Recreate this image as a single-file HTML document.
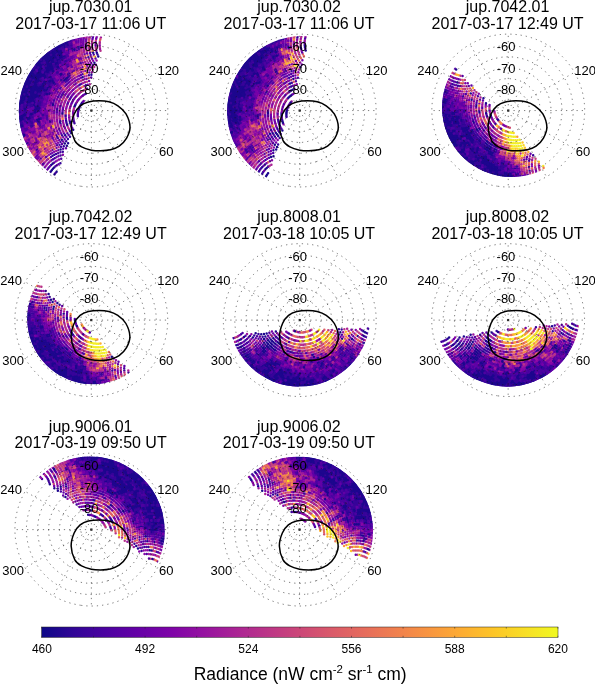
<!DOCTYPE html>
<html><head><meta charset="utf-8"><title>Radiance polar maps</title>
<style>
html,body{margin:0;padding:0;background:#fff;overflow:hidden}
svg{display:block}
text{font-family:"Liberation Sans",sans-serif;fill:#000}
.t{font-size:16px;text-anchor:middle}
.l{font-size:13px}
.c{font-size:12px;text-anchor:middle}
.d{fill:none;stroke-linecap:round;stroke-width:25}
.w{stroke-width:28}
.g{fill:none;stroke:#111;stroke-width:.75;stroke-dasharray:1.25 4;stroke-opacity:.72}
</style></head><body>
<svg width="595" height="684" viewBox="0 0 595 684">
<defs>
<g id="grat" class="g"><circle r="10.58" transform="rotate(20)"/><circle r="21.21" transform="rotate(33)"/><circle r="31.91" transform="rotate(46)"/><circle r="42.74" transform="rotate(59)"/><circle r="53.74" transform="rotate(72)"/><circle r="64.95" transform="rotate(85)"/><circle r="76.43" transform="rotate(98)"/><path d="M0 0L0.00 76.40M0 0L38.20 66.16M0 0L66.16 38.20M0 0L76.40 0.00M0 0L66.16 -38.20M0 0L38.20 -66.16M0 0L0.00 -76.40M0 0L-38.20 -66.16M0 0L-66.16 -38.20M0 0L-76.40 -0.00M0 0L-66.16 38.20M0 0L-38.20 66.16"/></g>
<path id="oval" fill="none" stroke="#000" stroke-width="1.5" d="M7.7 -9.7C4.3 -9.7 0.1 -9.4 -3.0 -8.6C-6.2 -7.8 -8.8 -6.7 -11.2 -4.7C-13.6 -2.7 -15.7 -0.1 -17.2 3.4C-18.7 6.9 -20.3 12.0 -20.2 16.5C-20.1 21.0 -18.2 27.0 -16.5 30.3C-14.8 33.6 -12.6 34.8 -9.8 36.3C-7.1 37.8 -3.1 38.9 0.0 39.6C3.1 40.3 5.8 40.3 9.0 40.3C12.2 40.2 15.9 40.1 19.0 39.3C22.1 38.5 25.1 37.5 27.8 35.6C30.5 33.7 33.4 30.8 35.2 27.6C37.0 24.4 38.7 20.5 38.6 16.5C38.5 12.5 36.6 6.9 34.6 3.4C32.6 -0.1 29.4 -2.7 26.5 -4.7C23.6 -6.7 20.6 -7.9 17.5 -8.7C14.4 -9.5 11.1 -9.7 7.7 -9.7Z"/>
<linearGradient id="pl" x1="0" x2="1" y1="0" y2="0"><stop offset="0.000" stop-color="#0d0887"/><stop offset="0.062" stop-color="#310597"/><stop offset="0.125" stop-color="#4c02a1"/><stop offset="0.188" stop-color="#6600a7"/><stop offset="0.250" stop-color="#7e03a8"/><stop offset="0.312" stop-color="#9511a1"/><stop offset="0.375" stop-color="#aa2395"/><stop offset="0.438" stop-color="#bc3587"/><stop offset="0.500" stop-color="#cc4778"/><stop offset="0.562" stop-color="#da5a6a"/><stop offset="0.625" stop-color="#e66c5c"/><stop offset="0.688" stop-color="#f0804e"/><stop offset="0.750" stop-color="#f89540"/><stop offset="0.812" stop-color="#fdac33"/><stop offset="0.875" stop-color="#fdc527"/><stop offset="0.938" stop-color="#f8df25"/><stop offset="1.000" stop-color="#f0f921"/></linearGradient>
</defs>
<rect width="595" height="684" fill="#fff"/>
<g transform="translate(91.40 110.55)">
<clipPath id="k0"><circle cx="2.82" cy="1.03" r="75.40"/></clipPath>
<g clip-path="url(#k0)"><g class="d" transform="scale(.1)">
<path stroke="#1d068e" d="M-160 -59h0m-10 24h0m-84 132h0m52 128h0m-44 127h0m-142 101h0m-14 91h0"/>
<path stroke="#370499" d="M-178 97h0m9 30h0m-51-235h0m-95 211h0m6 29h0m6 229h0m-50 73h0"/>
<path stroke="#4c02a1" d="M-182 14h0m9-186h0m-33 42h0m-52 171h0m10 85h0m-64-159h0m226-329h0m-143 85h0m-21 20h0m-77 109h0m-35 97h0m-10 79h0m62 390h0m8 64h0m326-1041h0m-449 1129h0m48 83h0m391-1384h0"/>
<path stroke="#6001a6" d="M-70 -161h0m-64 58h0m-48 171h0m145-326h0m-203 197h0m238-269h0m-263 178h0m-55 198h0m48 183h0m-43-400h0m-39 344h0m395-694h0m-429 913h0m14 129h0m15 103h0"/>
<path stroke="#7401a8" d="M-95 -143h0m-136 58h0m-17 48h0m200-282h0m-229 190h0m-21 47h0m48 347h0m128-613h0m-234 272h0m14 281h0m14 33h0m46 72h0m280-786h0m-347 851h0m-96 222h0"/>
<path stroke="#8707a6" d="M-191 -152h0m-66 166h0m41-230h0m-103 235h0m18-212h0m-47 92h0m-19 76h0m-4 26h0m342-428h0m-305 749h0m-113 176h0m453-1163h0"/>
<path stroke="#99159f" d="M-183 41h0m110-285h0m-181 232h0m31 202h0m75-463h0m-25 18h0m-61 60h0m-16 21h0m-56 116h0m-10 51h0m321-377h0m-291 169h0m-82 327h0m11 173h0m303-752h0m-287 967h0m349-1131h0m87-101h0"/>
<path stroke="#aa2395" d="M-153 -192h0m-105 260h0m20 89h0m152-462h0m-233 379h0m30 121h0m108-509h0m-26 18h0m-62 60h0m-69 111h0m-33 208h0m-52 329h0m377-1000h0m54-110h0"/>
<path stroke="#b7318a" d="M-116 -124h0m-32 43h0m-29 70h0m-124 174h0m-72-108h0m11 87h0m390-577h0m-127-20h0m77-60h0m113-82h0m-7-36h0m-1-34h0"/>
<path stroke="#c5407e" d="M-104 -228h0m-92-8h0m43-96h0m-155 605h0m193-676h0"/>
<path stroke="#d14e72" d="M-119 -290h0m-258 626h0"/>
<path stroke="#dc5d67" d="M-73 -505h0"/>
<path stroke="#e66c5c" d="M-288 -106h0m243-269h0m8-177h0m123-148h0"/>
<path stroke="#ee7b51" d="M-130 -211h0"/>
<path stroke="#f58c46" d="M-76 -416h0m-343 891h0"/>
<path stroke="#fa9e3b" d="M13 -596h0"/>
<path stroke="#1d068e" d="M-95 -75h0m-14 21h0m-20 47h0m-7 52h0m-75 81h0m29 65h0m-200-263h0m400-506h0m-406 1110h0m40 79h0m-20 27h0"/>
<path stroke="#370499" d="M-121 -31h0m-93 294h0m189-616h0m-321 376h0m94 283h0m8-603h0m-144 251h0m112 402h0m-10 55h0m256-945h0m-341 977h0"/>
<path stroke="#4c02a1" d="M-43 -219h0m-137 112h0m-42 174h0m95-318h0m-159 241h0m46 236h0m-57-376h0m-47 147h0m-31-94h0m41 375h0m25 37h0m-23 111h0m-72 38h0"/>
<path stroke="#6001a6" d="M-192 -84h0m94-184h0m-132 116h0m-59 168h0m152-327h0m-172 184h0m-8 326h0m16 34h0m80-549h0m-80 81h0m313-221h0m-54-114h0m-393 1153h0m446-1298h0"/>
<path stroke="#7401a8" d="M-77 -95h0m-57 113h0m7-186h0m-76 107h0m-8 24h0m11 194h0m177-452h0m-220 165h0m-23 46h0m-20 183h0m15 61h0m166-487h0m-60 33h0m-119 121h0m182-210h0m-215 170h0m-39 68h0m-40 151h0m4 112h0m40 126h0m264-680h0m-291 728h0m21 218h0m-56 47h0m432-1304h0"/>
<path stroke="#8707a6" d="M-147 -149h0m-72 245h0m66-329h0m-43 39h0m-17-63h0m-56 62h0m-50 91h0m-9 25h0m-12 50h0m-2 136h0m61 161h0m220-664h0m-336 429h0m354-481h0m-313 777h0m33 161h0m406-1140h0"/>
<path stroke="#99159f" d="M-76 -204h0m-147 244h0m159-323h0m-112 69h0m-38 40h0m-42 66h0m-18 48h0m-7 25h0m1 164h0m211-470h0m-122 65h0m-43 39h0m-101 182h0m-2 192h0m53-393h0m-48 65h0m-34 70h0m418-380h0m-65 5h0m99-119h0"/>
<path stroke="#aa2395" d="M-258 192h0m-89-142h0m82-327h0m-79 109h0m-51 257h0m28 121h0m40 158h0m263-854h0m-342 888h0m416-1015h0m-443 1099h0m439-1134h0m78-36h0"/>
<path stroke="#b7318a" d="M-103 -187h0m-62 59h0m-125 171h0m38-259h0m-94 294h0m18 89h0m191-535h0m-260 429h0m317-585h0m-379 1034h0m466-1192h0"/>
<path stroke="#c5407e" d="M-218 -12h0m-4 25h0m208-419h0m-154 54h0m-225 331h0m15 200h0m-19 166h0"/>
<path stroke="#d14e72" d="M-196 -334h0m146-272h0m140-110h0"/>
<path stroke="#dc5d67" d="M-289 71h0"/>
<path stroke="#e66c5c" d="M-369 384h0"/>
<path stroke="#fa9e3b" d="M-386 148h0"/>
<path stroke="#fdb130" d="M31 -540h0"/>
<path stroke="#1d068e" d="M-165 -47h0m-78 189h0m-19 104h0m-34 45h0m30 39h0m296-809h0m-402 1049h0m-24 26h0"/>
<path stroke="#370499" d="M-56 -169h0m0-83h0m-202 306h0m7 58h0m37 95h0m-99-90h0m78 167h0m296-844h0m-428 1036h0m57 50h0"/>
<path stroke="#4c02a1" d="M-174 112h0m-39-231h0m-23 46h0m-73 28h0m-24-91h0m14 477h0m311-897h0m-462 1129h0"/>
<path stroke="#6001a6" d="M-83 -152h0m-72 82h0m-25 152h0m-19-223h0m-57 223h0m235-462h0m-84 25h0m-113 69h0m-22 19h0m-20 20h0m-23 630h0m-48 13h0m338-915h0m-337 976h0m-77-25h0m8 65h0m55 50h0m-70 76h0"/>
<path stroke="#7401a8" d="M-125 -113h0m-58 140h0m1-189h0m21-102h0m-97 101h0m-60 169h0m-1 27h0m-2-193h0m-22 47h0m-29 127h0m424-747h0"/>
<path stroke="#8707a6" d="M-106 -133h0m-35 41h0m-110 68h0m183-288h0m-157 106h0m87-134h0m-30 17h0m-26 18h0m-114 123h0m-51 118h0m-6 26h0m-4 26h0m33 233h0m333-653h0m-26-40h0m-256 914h0m-87-29h0m421-1010h0m-475 1117h0m468-1187h0"/>
<path stroke="#99159f" d="M-180 2h0m63-222h0m-127 171h0m2-136h0m-60 115h0m-12 50h0m-3 108h0m11 60h0m25 64h0m-13-416h0m-78 273h0"/>
<path stroke="#aa2395" d="M-174 -23h0m-9 77h0m167-318h0m-210 168h0m-45-45h0m-22 47h0m-59 6h0m-21 129h0m3 57h0m12 59h0m10 31h0m2 115h0m-92 150h0m-11 93h0"/>
<path stroke="#b7318a" d="M-163 -182h0m-93 183h0m25 173h0m128-472h0m-82 53h0m-21 19h0m-77 108h0m-36 178h0m24 119h0m338-812h0m-67 5h0"/>
<path stroke="#c5407e" d="M-367 267h0m290-729h0m-287 818h0"/>
<path stroke="#d14e72" d="M-142 -201h0m-116 228h0m232-352h0m-108 43h0m-144 56h0m-87 353h0m311-549h0m-42 12h0m-293 728h0m340-829h0m-354 884h0m385-965h0m63-108h0"/>
<path stroke="#dc5d67" d="M-26 -662h0"/>
<path stroke="#e66c5c" d="M-319 255h0m256-802h0"/>
<path stroke="#ee7b51" d="M-89 -237h0"/>
<path stroke="#fa9e3b" d="M-67 -369h0"/>
<path stroke="#1d068e" d="M-102 -64h0m-113 175h0m-75-81h0m290-388h0m-88 24h0m-145 661h0m-152-386h0m77 448h0m377-930h0m-15-38h0m-439 1161h0m-21 27h0"/>
<path stroke="#370499" d="M-125 -19h0m12-241h0m-229 244h0m50 266h0m-51 11h0"/>
<path stroke="#4c02a1" d="M-115 -42h0m-17 48h0m-3 25h0m0 27h0m-156-220h0m58-144h0m-22 19h0m-55 63h0m-61 115h0m28 457h0m34 101h0m-74 37h0m24 72h0"/>
<path stroke="#6001a6" d="M-86 -85h0m-112 12h0m6 247h0m-45-315h0m-51 144h0m60 241h0m-49-428h0m-26 45h0m-43 149h0m23 173h0m56 104h0m-71-467h0m-41 96h0m85 419h0m40 43h0m240-953h0m-54 10h0m-260 1101h0m370-1186h0"/>
<path stroke="#7401a8" d="M-156 -139h0m-16 22h0m-14 22h0m0-110h0m-98 182h0m19 198h0m113-478h0m-171 211h0m-71 195h0m72 194h0m367-755h0m-132-23h0m-303 903h0m41 44h0m392-1150h0m5-33h0"/>
<path stroke="#8707a6" d="M-215 -25h0m-7-138h0m100-156h0m-216 277h0m-9 79h0m3 56h0m35 123h0m100-541h0m-152 192h0m-11 327h0m4 116h0m385-809h0m-455 1032h0m-22 26h0"/>
<path stroke="#99159f" d="M-207 -49h0m-16 102h0m2 28h0m15 60h0m65-383h0m-24 18h0m-40 40h0m-56 88h0m-22 210h0m7 30h0m98-429h0m-24 19h0m-22 19h0m-19 21h0m-71 110h0m-33 180h0m7 58h0m355-532h0m-54 8h0m-311 245h0m-40 123h0m-4 27h0m-3 26h0m289-448h0m-244 833h0m296-933h0m-367 971h0m402-1052h0m78-138h0"/>
<path stroke="#aa2395" d="M-115 -178h0m-22 19h0m55-116h0m-188 203h0m-8 24h0m-53-19h0m-2 219h0m151-495h0m-93 76h0m-121 342h0m7 58h0m372-585h0m16-86h0m-412 1046h0"/>
<path stroke="#b7318a" d="M-290 57h0m242-404h0m-213 142h0m179-185h0m-243 188h0m-72 249h0m357-539h0m85-123h0"/>
<path stroke="#c5407e" d="M-60 -212h0m-30 16h0m-130 196h0m175-289h0m-205 170h0m0 328h0m130-585h0m-173 130h0"/>
<path stroke="#d14e72" d="M-360 227h0m-24 137h0m359-1043h0"/>
<path stroke="#dc5d67" d="M-25 -645h0"/>
<path stroke="#e66c5c" d="M-153 -360h0"/>
<path stroke="#ee7b51" d="M-223 27h0m-65 58h0"/>
<path stroke="#f58c46" d="M-66 -442h0"/>
<path stroke="#fdb130" d="M-382 163h0"/>
<path class="w" stroke="#1d068e" d="M-257 -316h0m-101 45h0m-56 91h0m91-191h0m-117 152h0m-23 48h0m13-108h0m-27 46h0m-22 49h0m-37 127h0m-4 27h0m-1 141h0m210-574h0m-68 60h0m-55 65h0m-58 92h0m-11 24h0m-11 25h0m-9 24h0m-9 26h0m-14 51h0m-15 165h0m293-605h0m-55 37h0m-25 20h0m-23 20h0m-22 20h0m-21 21h0m-19 22h0m-18 22h0m-17 22h0m-16 23h0m-41 70h0m-11 25h0m-11 24h0m-10 25h0m-16 51h0m-17 80h0m-6 141h0m387-692h0m-66 34h0m-30 18h0m-28 19h0m-25 20h0m-25 19h0m-22 21h0m-22 21h0m-20 21h0m-53 67h0m-16 23h0m-14 23h0m-27 48h0m-11 24h0m-11 25h0m-9 25h0m-9 26h0m-8 26h0m-13 53h0m-8 54h0m-5 56h0m0 29h0m0 29h0m145 404h0m205-1085h0m-31 18h0m-28 18h0m-27 20h0m-25 19h0m-24 21h0m-115 131h0m-16 23h0m-14 24h0m-14 24h0m-35 74h0m-9 25h0m-9 26h0m-8 26h0m-7 26h0m-6 27h0m-15 139h0m0 30h0m413-723h0m-34 17h0m-32 18h0m-29 19h0m-28 19h0m-26 19h0m-24 21h0m-23 20h0m-22 22h0m-40 43h0m-19 23h0m-17 22h0m-17 23h0m-15 24h0m-14 24h0m-14 24h0m-12 24h0m-12 25h0m-11 25h0m-9 26h0m-17 52h0m-7 26h0m-7 27h0m-5 28h0m-4 27h0m-7 85h0m-1 30h0m1 29h0m2 30h0m263-694h0m-24 20h0m-23 21h0m-22 22h0m-20 22h0"/>
<path class="w" stroke="#370499" d="M-234 -335h0m-44 39h0m-177 240h0m74-253h0m-71 114h0m-29 74h0m164-306h0m-102 103h0m-70 115h0m-20 49h0m-8 25h0m212-347h0m-50 38h0m-23 20h0m-41 42h0m-18 22h0m-62 90h0m-72 201h0m-8 54h0m-2 27h0m-1 28h0m435-640h0m-169 82h0m-202 212h0m-14 23h0m-53 124h0m-14 51h0m-6 27h0m-12 139h0m3 58h0m110-504h0m-60 93h0m-68 176h0m-10 54h0m-7 55h0m0 115h0m454-759h0m-74 31h0m-189 135h0m-21 21h0m-20 21h0m-18 23h0m-90 140h0m-12 25h0m-55 182h0m-4 27h0m-3 28h0m-2 116h0m3 30h0m3 31h0m43 162h0m399-991h0m-275 192h0m-168 288h0m-35 162h0m-2 29h0m9 179h0m6 32h0m274-808h0m-133 127h0"/>
<path class="w" stroke="#4c02a1" d="M-332 -233h0m-15 22h0m-45 94h0m111-237h0m-153 222h0m-30 156h0m66-311h0m-15 22h0m-14 23h0m-45 96h0m180-300h0m-48 38h0m-61 62h0m-34 44h0m-29 46h0m-61 147h0m-6 26h0m-12 80h0m-1 84h0m29 153h0m238-735h0m-193 185h0m-15 23h0m-74 171h0m-54 95h0m-4 56h0m7 118h0m504-794h0m-86 27h0m-294 210h0m-160 546h0m413-775h0m-302 238h0m-148 409h0m12 179h0m-39-41h0"/>
<path class="w" stroke="#6001a6" d="M-407 -67h0m-11 162h0m4 29h0m25 93h0m48-510h0m-83 136h0m-25 75h0m-16 133h0m1 29h0m120-431h0m-144 255h0m-6 26h0m-12 107h0m0 29h0m2 28h0m24 122h0m276-715h0m-61 34h0m-117 98h0m135-151h0m-329 475h0m-1 171h0m354-698h0m-34 17h0m-359 554h0m11 176h0m7 32h0m544-867h0m-97 24h0m-113 46h0m-329 918h0m16 35h0m523-1056h0m-602 942h0m460-939h0m-496 929h0"/>
<path class="w" stroke="#7401a8" d="M-298 -276h0m-119 261h0m186-377h0m-71 58h0m-72 85h0m-15 22h0m-53 120h0m-20 103h0m241-442h0m-28 17h0m-27 19h0m-223 366h0m-3 27h0m6 171h0m261-636h0m-127 94h0m-182 412h0m6 116h0m359-690h0m-36 15h0m-365 633h0m14 91h0m-76-23h0m6 31h0m529-878h0m-495 1070h0m45 76h0m453-1179h0m-48 12h0m-531 976h0"/>
<path class="w" stroke="#8707a6" d="M-209 -354h0m-151 166h0m-41 96h0m-12 50h0m-7 53h0m-1 28h0m249-465h0m-287 396h0m-2 139h0m161-500h0m-63 61h0m-142 340h0m375-539h0m-415 582h0m493-676h0m-135 38h0m-347 1025h0m381-1108h0m-512 887h0"/>
<path class="w" stroke="#99159f" d="M-316 -255h0m-84 440h0m77-499h0m-134 452h0m-44-14h0m12 61h0m320-700h0m-363 686h0m-26 50h0m37 100h0m-37 81h0m87 121h0m-175-239h0m27 69h0"/>
<path class="w" stroke="#aa2395" d="M-372 -165h0m-11 24h0m180-268h0m-199 205h0m-48 373h0m8 31h0m25 65h0m277-830h0m-449 806h0m58 137h0m22 38h0m28 40h0m-147-227h0m136 320h0"/>
<path class="w" stroke="#b7318a" d="M-408 154h0m151-527h0m141-120h0m-73 30h0m-280 712h0m382-791h0m-438 744h0m22 65h0m14 34h0m-83-143h0m24 95h0m-30 21h0m12 34h0m16 34h0m500-1066h0"/>
<path class="w" stroke="#c5407e" d="M-150 -388h0m-270 454h0m265-544h0m-261 832h0m-34 19h0m354-951h0m-407 934h0m400-969h0m-504 908h0m79 211h0"/>
<path class="w" stroke="#d14e72" d="M-375 250h0m238-691h0m-294 673h0m-188 30h0"/>
<path class="w" stroke="#dc5d67" d="M-399 300h0m-183 126h0"/>
<path class="w" stroke="#e66c5c" d="M-181 -371h0m-274 653h0"/>
<path class="w" stroke="#ee7b51" d="M-471 336h0m-65-49h0"/>
<path class="w" stroke="#f58c46" d="M-437 317h0m-44 77h0m27 39h0"/>
<path class="w" stroke="#1d068e" d="M-313 -353h0m-102 130h0m-34 71h0m24-131h0m-51 93h0m-19 49h0m-15 51h0m-13 80h0m132-375h0m-19 21h0m-35 44h0m-43 69h0m-12 24h0m-11 24h0m-11 24h0m-9 25h0m194-327h0m-25 19h0m-44 41h0m-20 21h0m-19 22h0m-18 22h0m-71 116h0m-11 24h0m-20 50h0m-15 51h0m-11 53h0m270-473h0m-27 19h0m-49 39h0m-23 21h0m-20 21h0m-56 65h0m-16 23h0m-15 23h0m-28 47h0m-12 24h0m-11 25h0m-10 25h0m-9 25h0m-8 26h0m-14 52h0m320-488h0m-30 18h0m-54 38h0m-25 20h0m-23 20h0m-62 64h0m-18 22h0m-17 23h0m-16 23h0m-15 23h0m-27 48h0m-23 49h0m-10 25h0m-10 25h0m-8 26h0m-7 26h0m-7 27h0m-5 27h0m-10 83h0m-2 28h0m0 29h0m434-712h0m-36 16h0m-64 35h0m-57 38h0m-25 20h0m-24 20h0m-23 21h0m-42 43h0m-69 90h0m-15 24h0m-14 24h0m-13 24h0m-12 24h0m-22 51h0m-17 51h0m-8 26h0m-7 27h0m-19 168h0m1 29h0m9 91h0m44 164h0m412-1020h0m-71 33h0m-32 18h0m-30 18h0m-28 19h0m-27 20h0m-25 20h0m-24 21h0m-22 21h0m-21 22h0m-20 21h0m-19 23h0m-34 46h0m-16 23h0m-15 24h0m-14 24h0m-13 24h0m-12 25h0m-21 51h0m-10 25h0m-8 26h0m-8 27h0m-17 81h0m-4 28h0m-3 28h0m-2 29h0"/>
<path class="w" stroke="#370499" d="M-220 -373h0m-222 446h0m72-363h0m-57 90h0m-50 346h0m145-536h0m-77 85h0m-56 91h0m-55 177h0m-5 110h0m6 59h0m171-558h0m-112 129h0m-15 23h0m-64 146h0m-23 132h0m279-522h0m-28 18h0m-74 59h0m-94 107h0m-30 46h0m-64 147h0m-13 52h0m-13 110h0m-1 28h0m1 29h0m409-681h0m-102 50h0m-81 56h0m-87 83h0m-81 113h0m-72 175h0m-11 53h0m-4 27h0m-5 142h0m88 294h0m188-941h0m-96 80h0m-20 21h0m-100 137h0m-25 48h0m-63 208h0m-3 28h0m-3 114h0m2 30h0m302-701h0m-121 101h0m-40 44h0m-18 22h0m-17 23h0m-80 144h0m-20 51h0m-28 106h0m-5 27h0m-6 56h0m-2 29h0m1 88h0m3 30h0m424-809h0m-300 242h0m-97 169h0m-43 131h0m-5 27h0"/>
<path class="w" stroke="#4c02a1" d="M-269 -335h0m-174 380h0m335-519h0m-278 206h0m-91 218h0m168-359h0m-83 82h0m-47 67h0m-14 23h0m-62 173h0m-11 109h0m284-545h0m-29 17h0m-28 19h0m-25 19h0m-104 103h0m-123 265h0m-5 27h0m-4 27h0m-3 55h0m311-568h0m-243 225h0m-27 47h0m-33 73h0m-43 184h0m1 114h0m370-694h0m-252 195h0m-152 373h0m-2 28h0m-1 58h0m440-704h0m-38 15h0m-34 17h0m-391 781h0m175 360h0m286-1207h0m-107 48h0m-376 853h0m9 32h0m475-967h0"/>
<path class="w" stroke="#6001a6" d="M-346 -252h0m-53 91h0m158-249h0m-50 37h0m-62 61h0m-48 66h0m-38 70h0m-46 206h0m-1 28h0m258-522h0m-125 95h0m-20 20h0m-113 183h0m-17 50h0m-22 133h0m2 85h0m313-619h0m-335 414h0m-50 68h0m1 172h0m43 160h0m497-937h0m-206 69h0m-370 697h0m17 93h0m-37-11h0m104 244h0m393-1137h0m-543 645h0m10 238h0m118 280h0"/>
<path class="w" stroke="#7401a8" d="M-192 -390h0m-226 278h0m21 369h0m130-649h0m-191 265h0m-7 25h0m-16 78h0m357-487h0m-73 30h0m-60 34h0m83-86h0m-196 127h0m-193 467h0m1 29h0m-27 78h0m484-798h0m-45 13h0m-484 655h0m8 118h0m-36-10h0m20 94h0m590-948h0m-54 10h0"/>
<path class="w" stroke="#8707a6" d="M-361 -230h0m-14 22h0m-50 121h0m-7 25h0m-10 79h0m2 85h0m30 122h0m-62-300h0m-12 163h0m3 29h0m-17 109h0m-61-106h0m93 264h0m-116-184h0m8 32h0m38 100h0m-84-144h0m513-851h0m-514 971h0m31 70h0m-69-81h0m557-1027h0m-49 12h0"/>
<path class="w" stroke="#99159f" d="M-127 -422h0m-164 107h0m-20 20h0m-77 111h0m-21 47h0m-31 127h0m4 141h0m6 30h0m96-493h0m-150 335h0m14 173h0m34 97h0m274-770h0m-122 69h0m-230 590h0m28 96h0m-63-78h0m405-762h0m-40 14h0m-35 16h0m-303 980h0m468-1102h0m-99 23h0m-364 1144h0m470-1234h0"/>
<path class="w" stroke="#aa2395" d="M-246 -354h0m-83 80h0m-107 238h0m289-424h0m-65 32h0m120-132h0m-440 803h0m45 103h0m-76-83h0m69 205h0m-113-127h0"/>
<path class="w" stroke="#b7318a" d="M-161 -407h0m-260 599h0m240-636h0m-258 866h0m339-1017h0m-504 846h0m40 103h0m-69-81h0m19 129h0"/>
<path class="w" stroke="#c5407e" d="M-461 208h0m42 100h0m-88-115h0m-73 125h0"/>
<path class="w" stroke="#d14e72" d="M-450 240h0m17 123h0m-109-152h0m37 100h0m10 94h0m-98-121h0m-39 81h0"/>
<path class="w" stroke="#dc5d67" d="M-472 291h0m-121 148h0"/>
<path class="w" stroke="#e66c5c" d="M-136 -547h0m-419 696h0m35 128h0m52 167h0m-102-30h0"/>
<path class="w" stroke="#fa9e3b" d="M-517 367h0"/>
<path class="w" stroke="#fdb130" d="M-455 326h0"/>
<path class="w" stroke="#1d068e" d="M-246 -326h0m-22 20h0m-151 137h0m29-129h0m-44 68h0m-12 23h0m36-128h0m-73 114h0m-55 177h0m-4 27h0m-1 113h0m154-509h0m-73 86h0m-55 93h0m-12 24h0m-10 25h0m-9 25h0m-8 25h0m-13 52h0m-5 27h0m302-489h0m-30 18h0m-28 19h0m-72 59h0m-22 21h0m-19 21h0m-19 22h0m-18 22h0m-16 22h0m-29 47h0m-26 47h0m-11 25h0m-10 25h0m-9 25h0m-8 25h0m-7 26h0m-6 27h0m-15 166h0m488-713h0m-181 79h0m-56 38h0m-25 19h0m-45 41h0m-76 87h0m-16 23h0m-15 23h0m-14 24h0m-13 24h0m-24 49h0m-10 25h0m-9 25h0m-16 52h0m-6 26h0m-5 27h0m-5 27h0m-3 172h0m331-716h0m-29 18h0m-28 19h0m-26 19h0m-24 20h0m-23 21h0m-42 43h0m-19 21h0m-18 23h0m-48 69h0m-14 24h0m-13 24h0m-12 24h0m-11 25h0m-11 25h0m-9 26h0m-8 26h0m-8 26h0m-6 26h0m-18 168h0m0 29h0m430-745h0m-35 17h0m-32 17h0m-31 18h0m-28 19h0m-27 20h0m-25 20h0m-24 20h0m-23 21h0m-21 21h0m-20 22h0m-19 22h0m-18 23h0m-17 23h0m-15 23h0m-15 24h0m-14 24h0m-13 24h0m-12 25h0m-11 25h0m-11 25h0m-17 52h0m-8 26h0m-7 27h0m-5 27h0m-5 27h0m-9 85h0m0 58h0m1 30h0m7 61h0m245-730h0m-24 21h0m-22 21h0m-21 22h0m-20 22h0"/>
<path class="w" stroke="#370499" d="M-222 -344h0m-145 84h0m132-177h0m-171 161h0m-15 23h0m-37 70h0m-10 24h0m-37 239h0m226-536h0m-50 38h0m-114 128h0m-14 22h0m-14 24h0m-23 47h0m-10 25h0m-9 25h0m-8 25h0m-12 52h0m-11 81h0m226-484h0m-25 19h0m-24 20h0m-42 42h0m-19 21h0m-18 22h0m-59 91h0m-58 149h0m-19 135h0m226-515h0m-155 171h0m-27 47h0m-70 203h0m-4 27h0m-5 84h0m2 58h0m7 61h0m269-705h0m-75 59h0m-43 41h0m-38 44h0m-87 140h0m-66 235h0m-2 28h0m-1 28h0m0 29h0m436-708h0m-36 16h0m-308 264h0m-113 277h0m-4 28h0m-4 27h0m6-171h0m-37 161h0m-3 28h0m2 148h0m24 126h0m249-846h0"/>
<path class="w" stroke="#4c02a1" d="M-416 110h0m-45-127h0m173-384h0m-84 82h0m-112 210h0m-7 26h0m-5 26h0m-10 81h0m79-337h0m-101 217h0m-12 221h0m30 125h0m32-554h0m-14 23h0m-88 279h0m-2 57h0m1 29h0m341-646h0m-140 93h0m-237 484h0m5 116h0m401-743h0m-69 33h0m-197 158h0m-144 263h0m-18 340h0m354-796h0m-184 136h0m-74 88h0m-140 383h0m-1 29h0m5 118h0m5 31h0m-43-130h0m21 184h0"/>
<path class="w" stroke="#6001a6" d="M-288 -286h0m-52 64h0m-14 23h0m-50 119h0m135-284h0m-63 61h0m-106 183h0m-8 25h0m-6 26h0m-13 106h0m6 86h0m125-484h0m-143 227h0m-24 103h0m-3 27h0m11 173h0m101-525h0m195-187h0m-95 52h0m-285 462h0m-1 142h0m452-719h0m-489 593h0m443-614h0m-478 718h0m-32 19h0m14 93h0m7 32h0m34 101h0m84 149h0m465-1205h0m-138 39h0m-487 874h0"/>
<path class="w" stroke="#7401a8" d="M-324 -244h0m-42 67h0m-44 123h0m-8 52h0m14 172h0m112-514h0m-21 20h0m-37 42h0m-32 44h0m-26 46h0m-21 48h0m-28 101h0m-7 53h0m0 55h0m259-520h0m-58 36h0m43-72h0m-30 17h0m-55 37h0m-46 39h0m-21 21h0m-173 416h0m385-597h0m-103 49h0m-312 652h0m13 62h0m394-798h0m-426 818h0m36 100h0m477-978h0m-563 804h0m98 270h0m465-1107h0m-50 11h0m-480 1046h0"/>
<path class="w" stroke="#8707a6" d="M-307 -265h0m-90 160h0m14 339h0m-12-449h0m-68 309h0m17 90h0m22 64h0m112-629h0m-42 40h0m-152 392h0m8 88h0m311-646h0m-358 574h0m16 119h0m9 32h0m289-745h0m-338 701h0m16 63h0m-49-44h0m355-789h0m-385 809h0m46 134h0m18 36h0m47 77h0m346-1121h0m156-67h0m-110 20h0m-46 13h0m-503 986h0"/>
<path class="w" stroke="#99159f" d="M-378 -153h0m-10 24h0m233-305h0m-62 34h0m-285 509h0m17 91h0m335-722h0m-379 826h0m323-882h0m-335 938h0m-72-81h0m-39-11h0m12 33h0"/>
<path class="w" stroke="#aa2395" d="M-415 -29h0m-4 110h0m7 58h0m168-521h0m-193 598h0m264-687h0m64-65h0m-328 928h0m365-975h0m-512 840h0m64 140h0m-81-85h0m90 215h0"/>
<path class="w" stroke="#b7318a" d="M-420 25h0m25 176h0m-59-48h0m45 129h0m314-781h0m-380 731h0m13 33h0m-73-110h0m416-726h0m-349 984h0m390-1031h0m-411 1119h0m-81-55h0"/>
<path class="w" stroke="#c5407e" d="M-133 -395h0m-62 33h0m-226 414h0m302-500h0m-69 30h0m-309 702h0m-45-14h0m-81-24h0m31 162h0"/>
<path class="w" stroke="#d14e72" d="M-572 291h0"/>
<path class="w" stroke="#dc5d67" d="M-512 339h0m47 137h0m441-1171h0"/>
<path class="w" stroke="#e66c5c" d="M-492 375h0"/>
<path class="w" stroke="#ee7b51" d="M-166 -379h0m-280 678h0m-35 19h0"/>
<path class="w" stroke="#f58c46" d="M-136 -486h0m-360 922h0"/>
<path class="w" stroke="#fa9e3b" d="M-427 335h0m-34 19h0"/>
<path class="w" stroke="#1d068e" d="M-302 -363h0m-77 84h0m-65 115h0m27-130h0m-54 92h0m-50 178h0m-3 112h0m188-524h0m-45 41h0m-87 109h0m-14 23h0m-12 24h0m-12 24h0m-11 24h0m-18 50h0m-23 104h0m-3 28h0m-2 27h0m213-489h0m-46 40h0m-21 21h0m-19 21h0m-35 44h0m-69 117h0m-10 24h0m-19 51h0m-7 25h0m-7 26h0m-17 137h0m430-645h0m-137 66h0m-78 57h0m-24 20h0m-21 21h0m-20 21h0m-54 66h0m-16 23h0m-15 23h0m-13 24h0m-13 24h0m-11 24h0m-11 25h0m-10 25h0m-8 26h0m-8 25h0m-7 27h0m-6 26h0m-12 168h0m320-660h0m-56 37h0m-25 20h0m-24 20h0m-23 21h0m-60 64h0m-17 23h0m-17 22h0m-15 23h0m-15 24h0m-48 97h0m-27 77h0m-24 136h0m-3 56h0m319-636h0m-28 18h0m-51 40h0m-24 21h0m-62 64h0m-68 91h0m-14 24h0m-26 48h0m-12 25h0m-20 50h0m-9 26h0m-15 53h0m-6 27h0m-6 27h0m-11 141h0m2 30h0m5 61h0m19 95h0m421-928h0m-35 17h0m-34 17h0m-31 18h0m-82 58h0m-24 21h0m-23 20h0m-42 43h0m-19 23h0m-52 68h0m-16 24h0m-14 24h0m-13 24h0m-13 25h0m-11 25h0m-11 25h0m-10 25h0m-9 26h0m-8 27h0m-19 81h0m-4 27h0m-4 28h0"/>
<path class="w" stroke="#370499" d="M-301 -305h0m-107 71h0m-78 278h0m143-424h0m-57 64h0m-32 44h0m-27 46h0m-40 98h0m-14 51h0m-5 26h0m-6 54h0m3 114h0m264-609h0m-180 161h0m-89 165h0m258-361h0m-29 18h0m-27 18h0m-49 39h0m-81 85h0m-48 67h0m-26 48h0m-32 73h0m-33 131h0m-7 111h0m5 59h0m4 30h0m463-776h0m-207 98h0m-26 19h0m-109 104h0m-156 343h0m283-501h0m-120 101h0m-117 159h0m-12 24h0m-12 24h0m-20 51h0m-9 25h0m-15 53h0m-5 26h0m-9 55h0m-5 56h0m-1 58h0m2 29h0m413-748h0m-34 17h0m-32 17h0m-85 57h0m-70 61h0m-21 22h0m-38 44h0m-34 46h0m-43 71h0m-35 74h0m-26 77h0m-26 282h0m482-818h0m-168 87h0m-27 19h0m-95 83h0m-58 66h0m-17 23h0m-128 274h0m-7 27h0m-15 112h0"/>
<path class="w" stroke="#4c02a1" d="M-233 -364h0m-210 423h0m2 28h0m47-344h0m-27 46h0m-12 23h0m190-268h0m-54 37h0m-149 170h0m-35 71h0m-10 25h0m-15 50h0m-11 250h0m291-656h0m-133 93h0m-42 42h0m-18 21h0m-123 237h0m-7 26h0m-5 27h0m-7 167h0m325-648h0m-251 221h0m-29 47h0m-72 201h0m-10 167h0m111-473h0m-143 349h0m-4 55h0m2 88h0m419-741h0m-70 33h0m-200 158h0m-175 368h0m4 263h0m439-856h0m-335 257h0m-144 353h0m-3 28h0m-2 29h0m-1 28h0m526-743h0"/>
<path class="w" stroke="#6001a6" d="M-177 -399h0m-103 74h0m-58 62h0m-30 44h0m-25 46h0m5 448h0m191-711h0m-165 135h0m-100 186h0m-13 51h0m-4 27h0m-6 109h0m164-472h0m-42 41h0m-20 21h0m-143 397h0m334-584h0m-93 51h0m-168 165h0m-111 355h0m-32-67h0m-3 28h0m21 208h0m126 250h0m208-1044h0m-391 631h0m7 89h0m-35-11h0m36 160h0m497-982h0m-559 874h0m6 32h0m556-939h0"/>
<path class="w" stroke="#7401a8" d="M-441 4h0m-2 27h0m189-432h0m-70 58h0m-129 204h0m-16 50h0m-14 190h0m10 60h0m7 31h0m363-710h0m-422 549h0m14 147h0m199-633h0m-214 715h0m-31 20h0m13 34h0m268-876h0m-357 557h0m16 208h0m45 133h0m38 73h0m453-1078h0m-578 830h0m21 96h0m106 215h0m452-1175h0m-573 1016h0"/>
<path class="w" stroke="#8707a6" d="M-145 -415h0m-113 70h0m-96 104h0m-60 116h0m-8 25h0m-7 25h0m-9 191h0m310-583h0m-151 85h0m-64 60h0m-140 311h0m-2 28h0m6 114h0m35 126h0m231-730h0m-58 35h0m116-102h0m-408 615h0m-23 108h0m506-818h0m-129 40h0m35-49h0m-440 968h0m-26 24h0m17 35h0"/>
<path class="w" stroke="#99159f" d="M-207 -382h0m-113 98h0m-61 88h0m-23 47h0m-29 295h0m17 62h0m12 33h0m240-693h0m88-149h0m-493 848h0m-54-75h0m24 96h0m44 104h0m425-1030h0m-119 44h0m-398 838h0m571-960h0"/>
<path class="w" stroke="#aa2395" d="M-434 -49h0m-4 26h0m211-396h0m-181 745h0m228-815h0m-323 698h0m-34 18h0m414-816h0m-41 14h0m-38 15h0m-407 795h0m22 66h0m-12 58h0m40 74h0m384-1111h0m-429 1098h0"/>
<path class="w" stroke="#b7318a" d="M-428 291h0m-64-50h0m48 103h0m-102-149h0m93 207h0m-127-7h0m-85-116h0m649-1023h0"/>
<path class="w" stroke="#c5407e" d="M-480 274h0m366-828h0m-383 882h0m-10 58h0m-1 61h0m8 67h0m478-1226h0"/>
<path class="w" stroke="#d14e72" d="M-456 224h0m-8 85h0m44 73h0m-132-218h0m75 200h0m-50-15h0m-27 150h0"/>
<path class="w" stroke="#dc5d67" d="M-513 293h0m36 195h0m-104-30h0"/>
<path class="w" stroke="#e66c5c" d="M-557 134h0"/>
<path class="w" stroke="#ee7b51" d="M-426 177h0"/>
<path class="w" stroke="#fa9e3b" d="M-144 -504h0m-338 928h0"/>
</g></g>
<use href="#grat"/><use href="#oval"/><g><circle r="0.9" fill="#333"/><text class="l" x="-2.2" y="-59.4" text-anchor="middle">-60</text><text class="l" x="-2.2" y="-38" text-anchor="middle">-70</text><text class="l" x="-2.2" y="-16.9" text-anchor="middle">-80</text><text class="l" x="-69.3" y="-35.6" text-anchor="end">240</text><text class="l" x="-67.4" y="45" text-anchor="end">300</text><text class="l" x="66" y="-35.4">120</text><text class="l" x="67.6" y="45.2">60</text></g>
<text class="t" x="-0.7" y="-98.1">jup.7030.01</text><text class="t" x="-0.7" y="-81.5">2017-03-17 11:06 UT</text>
</g>
<g transform="translate(299.70 110.55)">
<clipPath id="k1"><circle cx="2.87" cy="0.88" r="75.40"/></clipPath>
<g clip-path="url(#k1)"><g class="d" transform="scale(.1)">
<path stroke="#1d068e" d="M-102 -138h0m-79 188h0m9 56h0m87-346h0m21-76h0m-230 604h0m67 76h0m287-965h0m-407 1140h0m399-1175h0m-426 1200h0m47 78h0m-87-23h0m71 52h0m320-1402h0"/>
<path stroke="#370499" d="M-78 -157h0m-103 181h0m-135-15h0m-1 26h0m2 219h0m321-690h0"/>
<path stroke="#4c02a1" d="M-122 -117h0m-108 286h0m40 66h0m172-564h0m-117-67h0m-194 789h0m-67 197h0"/>
<path stroke="#6001a6" d="M-213 201h0m27-447h0m-86 108h0m12 380h0m155-600h0m-34 17h0m-58 36h0m-137 174h0m-10 321h0m78 134h0m169-736h0"/>
<path stroke="#7401a8" d="M-139 -96h0m-59-46h0m-51 252h0m147-411h0m-32 18h0m-27 18h0m-123 150h0m-24 73h0m-9 104h0m6-240h0m-12 23h0m-21 48h0m12 329h0m43 211h0"/>
<path stroke="#8707a6" d="M-162 136h0m-152-46h0m36 119h0m42 68h0m222-661h0m-50 12h0m-14-92h0m-199 961h0m-144 23h0m470-1190h0"/>
<path stroke="#99159f" d="M-152 -74h0m-11 23h0m-15 128h0m-4-240h0m-53 90h0m-14 49h0m-7 78h0m12-237h0m-36-39h0m-84 189h0m-7 80h0m29 256h0m338-863h0m-397 992h0m384-1028h0m75-140h0"/>
<path stroke="#aa2395" d="M-50 -256h0m-113 72h0m-80 135h0m-13 76h0m49-253h0m-95 374h0m132-471h0m-73 58h0m-53 65h0m-56 117h0m-7 25h0m-10 132h0m3 28h0m5 29h0m7 29h0m303-585h0m-266 763h0m33 38h0m-84 35h0m419-1115h0m-78 6h0"/>
<path stroke="#b7318a" d="M-172 -27h0m-5 25h0m62-221h0m-26 19h0m-100 343h0m-18-300h0m-43 94h0m10 245h0m-78-158h0m248-470h0m-238 805h0m-5 117h0m-30 23h0"/>
<path stroke="#c5407e" d="M-213 -119h0m-80 28h0m30-153h0m-105 237h0m342-469h0m-304 928h0m306-1082h0m-4-34h0"/>
<path stroke="#d14e72" d="M-254 1h0m-59-18h0m92-268h0m157-265h0m-12-35h0"/>
<path stroke="#dc5d67" d="M-225 -97h0m-85 216h0m212-620h0"/>
<path stroke="#e66c5c" d="M14 -522h0m-330 1038h0"/>
<path stroke="#ee7b51" d="M-254 81h0m27-286h0"/>
<path stroke="#fa9e3b" d="M-48 -513h0"/>
<path stroke="#1d068e" d="M-129 0h0m-4 25h0m47-225h0m-87 400h0m-55 38h0m-88 390h0m-20 28h0"/>
<path stroke="#370499" d="M-133 51h0m-80 56h0m135-386h0m-122 553h0m119-666h0m131-261h0m-435 1230h0m-20 27h0"/>
<path stroke="#4c02a1" d="M-54 -217h0m-151 353h0m167-430h0m-247 379h0m-60-44h0m190-401h0m-173 163h0m-13 23h0m-22 47h0m98 552h0m158-944h0m-301 1026h0m462-1227h0"/>
<path stroke="#6001a6" d="M-122 -25h0m10-156h0m-109 206h0m-123 43h0m77 214h0m8-566h0m-136 310h0m76 269h0m11 89h0m-2 58h0m365-1061h0m-416 1170h0"/>
<path stroke="#7401a8" d="M-98 -70h0m-14 22h0m-42-93h0m-38 308h0m52-411h0m-46 39h0m-84 134h0m-18 129h0m245-409h0m-43 14h0m-243 491h0m93 165h0m-43-582h0m-34 44h0m-66 141h0m-16 131h0m102 278h0m320-834h0m-65 8h0m-310 957h0m50 44h0m-34 21h0m307-1241h0m6-33h0"/>
<path stroke="#8707a6" d="M-135 -162h0m-83 161h0m107-261h0m-11-59h0m-58 36h0m-144 198h0m203-290h0m-64 34h0m-27 19h0m-85 83h0m-75 139h0m-13 50h0m-8 51h0m135 370h0m-81-23h0m-40 18h0m-6 58h0m434-1109h0"/>
<path stroke="#99159f" d="M-81 -91h0m-104-6h0m-11 23h0m-25 125h0m-16-192h0m-51 172h0m25 142h0m110-477h0m-125 123h0m-26 46h0m-40 149h0m3 82h0m5 28h0m47 124h0m-101-139h0m10 375h0m300-1087h0m52-78h0"/>
<path stroke="#aa2395" d="M-171 -120h0m-35 69h0m-7 25h0m8-158h0m-56 90h0m-16 48h0m-4 160h0m77-380h0m-59 63h0m-29 45h0m-49 146h0m22 196h0m-34-335h0m-41 232h0m16 86h0m10 31h0m356-654h0m-14-192h0m-407 1181h0"/>
<path stroke="#b7318a" d="M-165 -225h0m-85 107h0m2 323h0m-67-317h0m9 327h0m69-519h0m-153 277h0m280-404h0m-239 833h0"/>
<path stroke="#c5407e" d="M-219 78h0m-7-323h0m-20 20h0m-91 187h0m303-367h0m-305 666h0m282-793h0m46-46h0"/>
<path stroke="#d14e72" d="M-331 -63h0"/>
<path stroke="#dc5d67" d="M-286 5h0m13 138h0m277-684h0"/>
<path stroke="#e66c5c" d="M-283 -21h0"/>
<path stroke="#ee7b51" d="M-385 138h0m320-583h0m-299 756h0m343-924h0"/>
<path stroke="#f58c46" d="M-355 229h0"/>
<path stroke="#fa9e3b" d="M-222 -163h0m133-320h0"/>
<path stroke="#fdb130" d="M-71 -568h0"/>
<path stroke="#1d068e" d="M-91 -148h0m-22 20h0m-55 249h0m-35 97h0m-114-196h0m47 204h0m21 33h0m0 84h0m-14 54h0m1 59h0m273-1090h0m-354 1222h0m-39 56h0"/>
<path stroke="#370499" d="M-181 37h0m5 54h0m-46 94h0m-64 9h0m-56 300h0m-23 121h0"/>
<path stroke="#4c02a1" d="M-158 -62h0m-22 126h0m95-429h0m-265 796h0m44 42h0m-93 68h0m340-1201h0"/>
<path stroke="#6001a6" d="M-168 -39h0m-7 25h0m106-235h0m-32 17h0m-47-42h0m-169 323h0m194-398h0m-32 17h0m-147 689h0m-9 55h0m-5 151h0"/>
<path stroke="#7401a8" d="M-64 -166h0m-142 35h0m-46 226h0m7 29h0m-70-128h0m17 167h0m114-477h0m-133 148h0m12 437h0m24 35h0m180-763h0"/>
<path stroke="#8707a6" d="M-179 11h0m150-274h0m-143 89h0m-64 328h0m193-477h0m-75 31h0m-148 142h0m-39 95h0m85 350h0m-84-484h0m-35 70h0m-9 24h0m-16 211h0m40 122h0m-29 48h0m23 34h0m349-919h0m-440 1167h0"/>
<path stroke="#99159f" d="M-128 -213h0m-91 105h0m-36 175h0m58-303h0m-81 109h0m-38 203h0m-53-70h0m1 82h0m10 57h0m8 30h0m12 31h0m343-686h0m-389 932h0m11 65h0m-67 79h0"/>
<path stroke="#aa2395" d="M-146 -85h0m-44-68h0m-40 68h0m-17 48h0m73-219h0m-77 84h0m-38 69h0m-9 24h0m-13 49h0m102-265h0m-44 41h0m-36 43h0m-40 68h0m-33 98h0m-9 78h0m296-452h0m-308 812h0m100 148h0m235-1132h0m-366 1066h0m422-1143h0"/>
<path stroke="#b7318a" d="M-131 -107h0m-125 147h0m39-255h0m-95 319h0m272-483h0m-232 146h0m-84 163h0m-10 50h0m249-384h0"/>
<path stroke="#c5407e" d="M-239 -61h0m-13 49h0m-3 26h0m171-323h0m31-161h0m-293 843h0m327-891h0m-36-108h0m70-108h0"/>
<path stroke="#d14e72" d="M-306 133h0m74-408h0m-140 612h0m336-892h0"/>
<path stroke="#dc5d67" d="M-152 -194h0m-83 0h0m-135 254h0m402-623h0m-23-139h0"/>
<path stroke="#ee7b51" d="M-25 -431h0"/>
<path stroke="#fa9e3b" d="M-74 -507h0m-16-37h0"/>
<path stroke="#1d068e" d="M-90 -81h0m-41 93h0m-2 26h0m62-246h0m-128 359h0m103-422h0m-143 492h0m24 34h0m-83-24h0m63 159h0m-51 74h0m-44 111h0"/>
<path stroke="#370499" d="M-117 -36h0m-9 23h0m-6 78h0m32-256h0m-116 284h0m111-422h0m-111 668h0m-118-525h0m348-431h0m-388 1246h0"/>
<path stroke="#4c02a1" d="M-106 -59h0m-39-93h0m-65 273h0m27 62h0m117-528h0m-213 609h0m10-537h0m-126 312h0m9 490h0m-45 52h0"/>
<path stroke="#6001a6" d="M-221 38h0m-66 33h0m228-470h0m-112 47h0m-176 190h0m-20 47h0m-6 297h0m43 96h0m355-859h0"/>
<path stroke="#7401a8" d="M-288 44h0m5 55h0m27 90h0m-42-336h0m-47 201h0m206-423h0m-219 230h0m-18 49h0m397-370h0m-309 864h0m-37 79h0m-30 118h0"/>
<path stroke="#8707a6" d="M-196 -195h0m-18 21h0m-60 116h0m-3 186h0m84-404h0m-61 62h0m-32 44h0m-53 280h0m14 59h0m72 131h0m-68-508h0m-61 143h0m-10 160h0m34 410h0m-53 49h0m351-1230h0m79-74h0"/>
<path stroke="#99159f" d="M-191 -86h0m38-149h0m-23 20h0m-68 86h0m-36 95h0m64-222h0m-123 231h0m-4 107h0m10 57h0m327-549h0m-96 25h0m-203 154h0m175-192h0m87-150h0m51-112h0m3-33h0"/>
<path stroke="#aa2395" d="M-163 -130h0m-53 116h0m-4 26h0m0 53h0m-45-148h0m-6-109h0m-39 69h0m-9 23h0m71-194h0m-40 42h0m-100 212h0m-6 53h0m0 54h0m12 85h0m34 93h0m71 105h0m-47 15h0m-41 18h0m-3 58h0m68 111h0m242-1195h0"/>
<path stroke="#b7318a" d="M-124 -172h0m-86 133h0m-77 57h0m-41-93h0m-15 76h0m-2 26h0m32 172h0m114-532h0m-26 19h0m-82 627h0m211-874h0m105-90h0"/>
<path stroke="#c5407e" d="M-178 -109h0m-23 46h0m-29-89h0m92-161h0m-254 299h0m30 227h0m31 208h0m303-958h0m-372 1000h0"/>
<path stroke="#d14e72" d="M-126 -254h0m-208 204h0"/>
<path stroke="#dc5d67" d="M-59 -287h0m41-70h0m-71-81h0m37-170h0"/>
<path stroke="#e66c5c" d="M-255 -106h0m-30 98h0m118-287h0m-69 60h0m-152 358h0m36 205h0m287-817h0m107-55h0"/>
<path stroke="#ee7b51" d="M-8 -500h0"/>
<path stroke="#fa9e3b" d="M-268 158h0"/>
<path stroke="#fdb130" d="M-111 -476h0"/>
<path stroke="#fdc527" d="M-83 -526h0"/>
<path stroke="#f3ee27" d="M-40 -451h0"/>
<path class="w" stroke="#1d068e" d="M-418 60h0m22-349h0m-112 130h0m154-287h0m-23 21h0m-42 43h0m-36 44h0m-31 47h0m-13 23h0m-13 24h0m-11 24h0m-11 25h0m-9 25h0m-16 51h0m-20 133h0m237-515h0m-72 62h0m-40 44h0m-18 22h0m-17 23h0m-31 47h0m-13 24h0m-13 24h0m-11 24h0m-10 25h0m-10 25h0m-8 26h0m-7 25h0m-16 80h0m-6 54h0m0 85h0m261-624h0m-26 20h0m-25 20h0m-23 21h0m-22 22h0m-39 44h0m-50 70h0m-40 72h0m-12 24h0m-19 51h0m-9 25h0m-7 26h0m-12 53h0m-4 27h0m-6 55h0m-2 28h0m0 28h0m1 29h0m2 29h0m3 29h0m312-727h0m-30 19h0m-28 20h0m-25 21h0m-24 21h0m-83 88h0m-49 70h0m-14 24h0m-13 25h0m-13 24h0m-11 25h0m-20 51h0m-8 26h0m-8 26h0m-6 26h0m-10 54h0m-4 27h0m-3 28h0m-2 28h0m0 28h0m0 29h0m2 29h0m3 30h0m4 29h0m336-782h0m-31 19h0m-28 20h0m-52 41h0m-45 44h0m-21 22h0m-20 23h0m-18 23h0m-17 23h0m-16 23h0m-16 24h0m-27 49h0m-12 25h0m-11 25h0m-11 25h0m-9 26h0m-9 26h0m-7 26h0m-13 54h0m-8 54h0m-5 56h0m-1 29h0m1 58h0m3 29h0m255-698h0m-25 21h0m-23 22h0m-22 22h0m-39 46h0m-18 23h0"/>
<path class="w" stroke="#370499" d="M-462 20h0m50-286h0m-67 144h0m79-225h0m-64 91h0m-24 48h0m-11 24h0m-17 50h0m-7 26h0m34 400h0m247-815h0m-87 57h0m-108 106h0m-34 45h0m-80 170h0m-19 78h0m-7 54h0m-3 55h0m3 56h0m325-656h0m-253 231h0m-94 223h0m-5 27h0m-8 54h0m-3 83h0m4 58h0m4 29h0m384-757h0m-37 18h0m-33 18h0m-176 144h0m-37 45h0m-17 23h0m-29 47h0m-14 24h0m-34 74h0m-32 104h0m7 342h0m164-716h0m-21 22h0m-20 23h0m-36 45h0m-93 170h0m-38 131h0m1 286h0m15 62h0m182-773h0m-144 185h0m-89 258h0m-7 55h0m-3 86h0m7 88h0m11 62h0m28 95h0m123-797h0"/>
<path class="w" stroke="#4c02a1" d="M-273 -303h0m-20 21h0m-26-36h0m-37 43h0m-30 45h0m-14 23h0m59-148h0m-85 112h0m-25 47h0m-10 24h0m-25 75h0m-6 26h0m-5 26h0m-3 26h0m-3 27h0m85-333h0m-17 23h0m-15 23h0m-26 47h0m-58 176h0m-4 26h0m-5 82h0m2 28h0m68 245h0m-97-168h0m36 124h0m50 100h0m24 36h0m176-957h0m-84 59h0m-24 21h0m-43 43h0m-180 449h0m13 145h0m7 31h0m8 31h0m-58-272h0m7 201h0m451-828h0m-41 16h0m-327 271h0m22 866h0m31 39h0m233-1192h0m-35 18h0m-119 78h0m-271 432h0m-8 314h0m23 94h0"/>
<path class="w" stroke="#6001a6" d="M-251 -323h0m-77 85h0m-77 166h0m67-225h0m-94 162h0m-15 50h0m-6 26h0m-9 134h0m3 28h0m98-436h0m-19 22h0m-124 346h0m275-523h0m-85 57h0m-24 20h0m-23 21h0m-168 307h0m-12 80h0m-1 27h0m12 143h0m100 228h0m157-900h0m-29 19h0m-97 82h0m-166 311h0m-9 53h0m-5 110h0m59 243h0m206-834h0m-10-34h0m-308 753h0m367-824h0m-35 18h0m-317 958h0m429-1043h0m-500 937h0"/>
<path class="w" stroke="#7401a8" d="M-369 -170h0m-48 176h0m-1 27h0m2 55h0m3 28h0m51 153h0m139-667h0m-189 215h0m-10 24h0m-41 206h0m167-443h0m-143 176h0m-32 73h0m276-359h0m-93 55h0m-251 560h0m332-650h0m-357 844h0m77 138h0m-50-12h0m26 37h0m422-1154h0m-572 909h0m18 63h0m84 171h0m329-1132h0"/>
<path class="w" stroke="#8707a6" d="M-199 -361h0m-113 101h0m-31 44h0m-37 70h0m2 383h0m185-654h0m-105 78h0m-162 332h0m19 198h0m228-644h0m-107 78h0m-182 466h0m81 248h0m161-809h0m-243 730h0m-71-133h0m11 60h0m7 31h0m10 31h0m330-824h0m-360 845h0m65 135h0m372-1046h0m-44 15h0m-433 887h0m-15 56h0m545-1038h0m-54 13h0"/>
<path class="w" stroke="#99159f" d="M-169 -379h0m-57 36h0m-131 150h0m-33 71h0m-20 75h0m-4 26h0m7 166h0m17 60h0m115-565h0m-97 107h0m-68 143h0m-17 77h0m26 255h0m188-656h0m-28 19h0m-232 478h0m389-600h0m-267 168h0m-154 507h0m12 60h0m69 161h0m-50-12h0m363-1022h0"/>
<path class="w" stroke="#aa2395" d="M-398 -97h0m148-282h0m-168 632h0m15 33h0m-84-107h0m8 30h0m11 31h0m-46-12h0m-18 142h0m-72-77h0m13 33h0m33 68h0m95 180h0"/>
<path class="w" stroke="#b7318a" d="M-397 374h0m240-896h0m-12-35h0m85-63h0m-93 28h0m-372 928h0m68 169h0m-120-121h0"/>
<path class="w" stroke="#c5407e" d="M-499 120h0m59 185h0m306-912h0m-323 1086h0m369-1133h0m-488 1013h0m132 187h0m-138-127h0"/>
<path class="w" stroke="#d14e72" d="M-179 -470h0m-315 619h0m39 123h0m24 183h0"/>
<path class="w" stroke="#dc5d67" d="M-159 -434h0m34-138h0"/>
<path class="w" stroke="#e66c5c" d="M-400 175h0m-55-43h0"/>
<path class="w" stroke="#ee7b51" d="M-384 320h0"/>
<path class="w" stroke="#f58c46" d="M-449 161h0"/>
<path class="w" stroke="#fa9e3b" d="M-141 -486h0"/>
<path class="w" stroke="#1d068e" d="M-342 -257h0m-133 205h0m-10-114h0m116-242h0m-41 43h0m-78 115h0m-12 24h0m-11 24h0m-10 25h0m75-201h0m-64 92h0m-13 24h0m-12 24h0m-21 50h0m-16 51h0m-24 132h0m198-472h0m-23 21h0m-21 21h0m-20 22h0m-19 23h0m-62 93h0m-13 24h0m-23 49h0m-10 25h0m-8 26h0m-15 51h0m-15 80h0m-3 28h0m-2 27h0m0 28h0m0 29h0m2 29h0m3 29h0m401-755h0m-102 55h0m-56 39h0m-25 21h0m-24 21h0m-22 22h0m-40 44h0m-19 23h0m-86 143h0m-11 25h0m-9 25h0m-9 26h0m-8 25h0m-18 80h0m-10 82h0m-1 28h0m2 58h0m11 89h0m351-804h0m-33 19h0m-30 19h0m-54 41h0m-24 21h0m-45 43h0m-20 22h0m-19 23h0m-35 46h0m-69 121h0m-20 51h0m-9 26h0m-8 26h0m-7 26h0m-16 81h0m-3 28h0m-3 27h0m-1 57h0m1 29h0m2 30h0m7 59h0m458-864h0m-40 17h0m-129 76h0m-53 41h0m-46 43h0m-22 23h0m-20 22h0m-18 23h0m-18 23h0m-73 121h0m-12 25h0m-20 51h0m-9 26h0m-27 107h0m-5 27h0m-8 113h0"/>
<path class="w" stroke="#370499" d="M-396 -165h0m12-106h0m-79 167h0m-16 78h0m-3 26h0m58-284h0m-94 246h0m73-282h0m-16 23h0m-69 145h0m-8 25h0m-6 26h0m75 471h0m257-928h0m-35 17h0m-62 38h0m-27 19h0m-25 21h0m-46 42h0m-57 66h0m-32 46h0m-50 96h0m-18 50h0m-15 51h0m-10 53h0m-8 110h0m0 28h0m3 29h0m374-700h0m-69 35h0m-85 59h0m-124 131h0m-31 46h0m-76 173h0m-13 53h0m-5 26h0m6 257h0m93 229h0m261-1026h0m-34 18h0m-179 144h0m-55 68h0m-16 23h0m-14 24h0m-27 48h0m-56 153h0m-6 26h0m-10 54h0m-3 27h0m-3 85h0m4 58h0m15 90h0m254-776h0m-73 63h0m-112 137h0m-15 24h0m-13 24h0m-36 75h0m-40 130h0m-5 27h0m-11 111h0m6 116h0m17 92h0m9 32h0m479-974h0m-152 69h0m-87 60h0m-50 43h0m-117 136h0m-15 24h0m-28 49h0m-36 75h0m-26 77h0m-8 27h0m-6 27h0m-13 82h0m-3 28h0m-1 28h0"/>
<path class="w" stroke="#4c02a1" d="M-440 67h0m131-424h0m-22 20h0m-69 89h0m-56 119h0m48-178h0m-44 69h0m-71 254h0m48-290h0m-79 225h0m-4 27h0m-2 27h0m-1 28h0m1 56h0m7 58h0m274-669h0m-106 79h0m-42 43h0m-53 68h0m-105 247h0m-8 53h0m-4 55h0m6 114h0m42 154h0m230-829h0m-28 20h0m-167 174h0m-54 95h0m-55 407h0m124 296h0m359-1112h0m-45 15h0m-172 90h0m-218 245h0m-64 549h0m21 64h0m14 33h0m81 141h0m-22-893h0m-74 120h0m-63 495h0m38 128h0m15 33h0m323-1021h0m-64 38h0"/>
<path class="w" stroke="#6001a6" d="M-148 -415h0m-116 74h0m-121 153h0m-49 148h0m-4 26h0m-2 27h0m-1 27h0m30 173h0m177-629h0m-134 123h0m-45 68h0m-34 72h0m-36 180h0m4 84h0m89-440h0m-48 68h0m-37 71h0m-19 49h0m-8 25h0m-6 26h0m-6 26h0m76 413h0m275-889h0m-72 34h0m-60 38h0m-27 19h0m-24 21h0m-44 42h0m-38 44h0m-122 267h0m45 377h0m59 104h0m-133-209h0m81 196h0m242-968h0m-354 793h0m65 164h0m-113-233h0m29 123h0m490-997h0m-484 371h0"/>
<path class="w" stroke="#7401a8" d="M-325 -279h0m-33 45h0m-14 22h0m86-166h0m-64 63h0m-87 137h0m-33 100h0m-12 161h0m202-516h0m-49 40h0m-135 179h0m-57 203h0m-2 54h0m2 57h0m4 29h0m103 255h0m213-907h0m-66 36h0m-294 548h0m14 116h0m17 61h0m41 98h0m-97-169h0m25 92h0m43 99h0m44 71h0m-18 89h0m404-1222h0m-53 13h0m-88 31h0m-427 956h0m63 136h0"/>
<path class="w" stroke="#8707a6" d="M-286 -321h0m-129 205h0m-14 50h0m-9 161h0m12-297h0m-24 433h0m47 98h0m182-800h0m-85 58h0m-45 41h0m-172 443h0m26 148h0m11 31h0m366-804h0m-419 761h0m-32 21h0m485-865h0m-50 13h0m-442 938h0m311-957h0m-276 1149h0"/>
<path class="w" stroke="#99159f" d="M-307 -300h0m-127 424h0m264-576h0m-313 507h0m231-507h0m-120 101h0m-140 509h0m7 30h0m48 127h0m-100-197h0m112 349h0m-156-217h0m10 32h0m43 160h0m360-1119h0"/>
<path class="w" stroke="#aa2395" d="M-423 -91h0m-6 244h0m30 92h0m16 32h0m196-765h0m-332 758h0m102 174h0m-118-120h0m81 236h0m370-1297h0"/>
<path class="w" stroke="#b7318a" d="M-239 -361h0m-168 220h0m-62 311h0m9 30h0m-13 82h0"/>
<path class="w" stroke="#c5407e" d="M-212 -380h0m9-55h0m-58 38h0m-214 537h0m38 123h0m15 32h0m-48 197h0m381-1163h0m-500 1043h0m19 34h0m-42-9h0m42 72h0"/>
<path class="w" stroke="#dc5d67" d="M-182 -398h0"/>
<path class="w" stroke="#e66c5c" d="M-173 -574h0"/>
<path class="w" stroke="#ee7b51" d="M-421 183h0m-142 164h0"/>
<path class="w" stroke="#f58c46" d="M-130 -589h0"/>
<path class="w" stroke="#fa9e3b" d="M-149 -504h0m-32-105h0"/>
<path class="w" stroke="#fdb130" d="M-132 -468h0"/>
<path class="w" stroke="#1d068e" d="M-320 -249h0m83-140h0m-167 111h0m-95 246h0m42-236h0m-13 24h0m104-192h0m-62 65h0m-65 91h0m-13 24h0m-23 49h0m-18 49h0m-8 26h0m82 531h0m-54-690h0m-13 24h0m-11 24h0m-11 25h0m-10 25h0m-9 25h0m-8 25h0m-13 53h0m-4 26h0m-4 27h0m1 169h0m10 60h0m322-775h0m-61 38h0m-28 20h0m-26 20h0m-24 21h0m-22 21h0m-21 22h0m-20 22h0m-51 69h0m-29 47h0m-36 74h0m-10 25h0m-9 26h0m-7 25h0m-18 80h0m-7 54h0m-2 28h0m-1 28h0m0 28h0m2 29h0m2 29h0m362-740h0m-33 18h0m-31 19h0m-28 20h0m-27 20h0m-24 21h0m-24 22h0m-61 66h0m-19 23h0m-47 70h0m-14 24h0m-24 50h0m-21 50h0m-9 26h0m-8 26h0m-7 26h0m-6 26h0m-5 27h0m-4 27h0m-4 28h0m-2 28h0m-1 28h0m0 29h0m7 87h0m4 31h0m289-769h0m-53 41h0m-25 21h0m-22 22h0m-22 22h0m-20 22h0m-19 23h0m-18 23h0m-16 24h0m-57 96h0m-23 51h0m-9 25h0m-9 26h0m-16 53h0m-11 53h0m-5 28h0m-3 27h0m-4 85h0m2 59h0m20 121h0m200-773h0m-43 45h0m-20 22h0m-18 23h0"/>
<path class="w" stroke="#370499" d="M-418 46h0m1 28h0m-45-41h0m74-333h0m-95 190h0m-21 159h0m154-450h0m-59 65h0m-84 140h0m-10 25h0m-9 25h0m-8 25h0m262-393h0m-30 19h0m-28 19h0m-162 173h0m-40 71h0m-21 49h0m-23 77h0m-10 52h0m-4 27h0m-2 27h0m0 84h0m84 280h0m226-913h0m-87 58h0m-25 21h0m-45 42h0m-20 22h0m-19 22h0m-17 23h0m-32 46h0m-83 198h0m-17 107h0m-2 28h0m1 56h0m2 29h0m370-704h0m-67 36h0m-188 169h0m-48 69h0m-27 49h0m-12 24h0m-44 127h0m-6 27h0m-9 54h0m14 260h0m421-866h0m-39 17h0m-245 181h0m-54 69h0m-16 23h0m-42 73h0m-77 374h0m2 30h0m358-748h0m-32 19h0m-240 241h0m-15 24h0m-38 74h0m-38 103h0m-13 53h0m-15 110h0m-2 29h0m0 57h0m5 59h0m4 30h0m21 94h0m10 32h0m12 33h0m194-891h0m-46 43h0"/>
<path class="w" stroke="#4c02a1" d="M-283 -292h0m-20 21h0m-90 53h0m-68 307h0m130-454h0m-20 21h0m-105 160h0m-10 24h0m-9 25h0m-14 51h0m-6 26h0m68-256h0m-55 94h0m-50 150h0m-4 27h0m-7 81h0m201-494h0m-46 41h0m-75 89h0m-116 354h0m39 237h0m137-714h0m-94 111h0m-118 384h0m10 116h0m91-535h0m-122 556h0m164-659h0m-154 237h0m-39 444h0m17 63h0m398-937h0m-37 18h0m-123 77h0m-211 250h0"/>
<path class="w" stroke="#6001a6" d="M-153 -388h0m-183 161h0m-74 357h0m101-459h0m-70 88h0m-27 46h0m-30 72h0m-25 129h0m-1 55h0m43-316h0m-83 250h0m-1 27h0m61-313h0m-84 195h0m-16 162h0m2 28h0m44 182h0m271-808h0m-184 139h0m-37 44h0m-122 269h0m-11 136h0m12 116h0m332-739h0m-65 37h0m-291 753h0m69 164h0m408-1035h0m-48 15h0m-458 878h0m456-912h0m-493 903h0m33 97h0m415-1019h0m-490 883h0"/>
<path class="w" stroke="#7401a8" d="M-363 -181h0m-38 96h0m31 338h0m83-603h0m-42 42h0m-18 22h0m-17 22h0m-53 93h0m-10 24h0m-17 49h0m-6 26h0m-5 26h0m147-340h0m-63 64h0m-62 90h0m-12 24h0m233-289h0m-32 18h0m-30 19h0m-27 19h0m-70 62h0m-20 21h0m-149 341h0m-2 28h0m5 112h0m349-672h0m-388 662h0m4 29h0m12 60h0m232-713h0m-172 934h0m-141-270h0m93 259h0m-89-112h0m66 137h0"/>
<path class="w" stroke="#8707a6" d="M-184 -371h0m-55 38h0m-136 175h0m-20 348h0m-64-210h0m23 226h0m25 64h0m215-731h0m-88 55h0m-219 483h0m367-607h0m-40 16h0m-150 93h0m-207 574h0m25 91h0m-20 53h0m419-910h0m-432 966h0m-69-76h0m445-978h0"/>
<path class="w" stroke="#99159f" d="M-262 -313h0m-123 179h0m-9 25h0m-14 50h0m-10 78h0m34 202h0m121-591h0m-194 487h0m32 121h0m16 118h0m-117-174h0m109 231h0m220-997h0m-385 838h0m109 206h0m33 39h0m236-1117h0m-394 927h0m14 33h0m17 34h0m-42-9h0m62 107h0m63 78h0"/>
<path class="w" stroke="#aa2395" d="M-213 -352h0m-137 148h0m-66 196h0m208-400h0m-186 711h0m166-747h0m-254 752h0m-88-22h0m13 33h0m94 206h0m404-1218h0m-533 1094h0m74 111h0"/>
<path class="w" stroke="#b7318a" d="M-412 -34h0m-3 136h0m274-544h0m-36 17h0m-80 0h0m-243 530h0m4 29h0m5 30h0m17 60h0m26 64h0m-16 54h0m-87-109h0m39 97h0m398-1045h0"/>
<path class="w" stroke="#c5407e" d="M-445 176h0m284-654h0m-322 672h0m21 62h0m31 66h0m-87-109h0m362-812h0m-341 1084h0m381-1166h0"/>
<path class="w" stroke="#d14e72" d="M-452 146h0m-72 302h0m468-1174h0"/>
<path class="w" stroke="#dc5d67" d="M-121 -494h0m-322 871h0m295-942h0m-298 1001h0"/>
<path class="w" stroke="#f58c46" d="M-404 160h0m302-739h0"/>
<path class="w" stroke="#1d068e" d="M-431 -273h0m-59 120h0m132-265h0m-61 64h0m-87 140h0m276-335h0m-33 17h0m-192 166h0m-17 22h0m-31 47h0m-13 23h0m-35 73h0m-9 25h0m-8 26h0m-27 132h0m-2 27h0m0 56h0m1 29h0m484-725h0m-127 47h0m-147 96h0m-46 43h0m-39 44h0m-65 92h0m-37 73h0m-11 25h0m-9 25h0m-9 25h0m-7 26h0m-22 134h0m-1 57h0m1 28h0m2 29h0m349-713h0m-91 57h0m-26 21h0m-24 21h0m-23 21h0m-22 22h0m-39 44h0m-17 23h0m-32 47h0m-28 48h0m-12 24h0m-11 25h0m-20 51h0m-8 25h0m-8 26h0m-6 27h0m-6 26h0m-5 27h0m-6 55h0m-1 28h0m-1 29h0m1 28h0m2 29h0m344-720h0m-31 19h0m-29 20h0m-52 41h0m-24 21h0m-63 67h0m-18 22h0m-64 95h0m-13 24h0m-12 25h0m-22 50h0m-9 26h0m-8 26h0m-8 26h0m-7 26h0m-5 27h0m-9 55h0m-3 27h0m-1 29h0m-1 57h0m1 29h0m3 29h0m4 30h0m11 62h0m515-935h0m-191 87h0m-58 40h0m-26 21h0m-25 21h0m-23 22h0m-22 22h0m-21 22h0m-19 23h0m-18 23h0m-34 47h0m-15 24h0m-27 49h0m-23 50h0m-20 51h0m-9 26h0m-20 80h0m-5 28h0m-4 27h0m-5 56h0m-1 29h0"/>
<path class="w" stroke="#370499" d="M-441 53h0m121-400h0m-140 231h0m-13 51h0m-4 26h0m-4 136h0m82-415h0m-17 22h0m-64 118h0m-40 154h0m-2 26h0m271-499h0m-129 100h0m-114 159h0m-22 49h0m-10 24h0m-8 26h0m-7 25h0m-20 133h0m188-472h0m-23 21h0m-41 43h0m-51 68h0m-41 71h0m-11 25h0m-42 127h0m-9 53h0m-2 168h0m259-651h0m-27 20h0m-49 41h0m-42 43h0m-37 45h0m-17 23h0m-16 23h0m-28 48h0m-12 24h0m-53 152h0m-6 27h0m-4 27h0m-3 27h0m-4 55h0m7 116h0m5 30h0m85 226h0m329-1034h0m-39 17h0m-68 36h0m-30 19h0m-143 127h0m-82 116h0m-48 98h0m-45 185h0m1 171h0m4 30h0m6 30h0m244-751h0m-71 64h0m-21 22h0m-56 68h0m-16 24h0m-15 24h0m-51 98h0m-53 183h0m-9 112h0m489-740h0m-41 16h0m-38 18h0m-97 57h0m-199 197h0m-71 122h0m-22 50h0m-25 79h0m-25 136h0"/>
<path class="w" stroke="#4c02a1" d="M-226 -371h0m-49 40h0m-59 63h0m-57 91h0m143-230h0m-128 125h0m-16 22h0m-75 169h0m-14 78h0m-2 27h0m0 27h0m38-291h0m-13 24h0m-47 123h0m-6 26h0m-5 26h0m-7 81h0m340-561h0m-151 92h0m-66 63h0m-37 45h0m-16 22h0m-15 24h0m-14 23h0m-65 174h0m-13 163h0m81 278h0m185-866h0m-29 19h0m-26 20h0m-68 63h0m-159 286h0m-11 53h0m79 447h0m235-941h0m-266 198h0m-104 593h0m9 31h0m425-925h0m-40 17h0m-36 18h0m-400 820h0m14 62h0m34 98h0m314-996h0m-386 513h0"/>
<path class="w" stroke="#6001a6" d="M-296 -311h0m-54 65h0m-89 327h0m80-385h0m-48 67h0m-13 24h0m-32 72h0m-31 210h0m102-409h0m-89 138h0m-53 259h0m1 29h0m303-601h0m-90 56h0m-243 397h0m-7 54h0m-2 55h0m3 56h0m8 59h0m-47-125h0m111 374h0m181-958h0m-309 750h0m8 31h0m443-884h0m-498 930h0m11 32h0m20-654h0"/>
<path class="w" stroke="#7401a8" d="M-316 -290h0m-63 90h0m-53 147h0m-9 79h0m4 83h0m63 185h0m100-682h0m-24 20h0m-134 178h0m-10 24h0m149-257h0m-25 20h0m-180 275h0m-21 242h0m4 29h0m234-621h0m-275 443h0m1 168h0m30 121h0m67 134h0m265-954h0m-396 718h0m6 30h0m7 31h0m9 31h0m11 31h0m-55 46h0m31 68h0m20 35h0m445-1122h0m-50 14h0m-417 1134h0"/>
<path class="w" stroke="#8707a6" d="M-165 -407h0m-86 56h0m-114 128h0m-37 70h0m-37 152h0m34 230h0m65-555h0m-137 452h0m33 121h0m275-743h0m-172 113h0m-171 669h0m80 139h0m317-1090h0m-509 953h0m88 173h0"/>
<path class="w" stroke="#99159f" d="M-411 -128h0m-45 343h0m26 64h0m226-758h0m-158 117h0m-147 535h0m29 93h0m80 137h0m258-950h0m-318 995h0m259-1049h0m-395 867h0m-1 89h0m123 184h0"/>
<path class="w" stroke="#aa2395" d="M-419 -104h0m-7 25h0m-6 217h0m213-564h0m-246 611h0m74 162h0m154-808h0m-29 18h0m-182 775h0m-87-109h0m376-839h0m-444 1030h0m75 112h0"/>
<path class="w" stroke="#b7318a" d="M-416 198h0m3 114h0m-88-109h0m9 31h0m27 64h0m39 68h0m-117-174h0m46 127h0m-46-11h0m31 127h0m60 77h0m-56-13h0m-113-119h0m64 107h0m444-1218h0"/>
<path class="w" stroke="#c5407e" d="M-436 -27h0m11 195h0m34 93h0m204-704h0m58-69h0m23-84h0m-421 937h0m-27 23h0m69 109h0"/>
<path class="w" stroke="#d14e72" d="M-152 -582h0m-433 880h0m14 33h0m518-1074h0"/>
<path class="w" stroke="#dc5d67" d="M-428 487h0"/>
<path class="w" stroke="#e66c5c" d="M-197 -389h0m-275 544h0"/>
<path class="w" stroke="#ee7b51" d="M-151 -460h0"/>
<path class="w" stroke="#f58c46" d="M-58 -710h0"/>
</g></g>
<use href="#grat"/><use href="#oval"/><g><circle r="0.9" fill="#333"/><text class="l" x="-2.2" y="-59.4" text-anchor="middle">-60</text><text class="l" x="-2.2" y="-38" text-anchor="middle">-70</text><text class="l" x="-2.2" y="-16.9" text-anchor="middle">-80</text><text class="l" x="-69.3" y="-35.6" text-anchor="end">240</text><text class="l" x="-67.4" y="45" text-anchor="end">300</text><text class="l" x="66" y="-35.4">120</text><text class="l" x="67.6" y="45.2">60</text></g>
<text class="t" x="-0.7" y="-98.1">jup.7030.02</text><text class="t" x="-0.7" y="-81.5">2017-03-17 11:06 UT</text>
</g>
<g transform="translate(508.25 110.55)">
<clipPath id="k2"><circle cx="3.50" cy="-3.13" r="69.70"/></clipPath>
<g clip-path="url(#k2)"><g class="d" transform="scale(.1)">
<path stroke="#1d068e" d="M-187 -4h0m13 57h0m-74-175h0m68 454h0m47 28h0m341 204h0"/>
<path stroke="#370499" d="M-351 104h0m33 75h0m13 23h0m104 115h0m44 30h0m370 254h0"/>
<path stroke="#4c02a1" d="M-304 -144h0m-15 84h0m157 341h0m-96-17h0m17 18h0m160 101h0m-376-728h0"/>
<path stroke="#6001a6" d="M-140 296h0m-232-346h0m7 98h0m6 29h0m18 53h0m10 25h0m56 89h0m53 56h0m445 131h0m-65 62h0m-686-779h0m-20 55h0m-13-67h0m-31-15h0"/>
<path stroke="#7401a8" d="M-94 254h0m-226-279h0m6 63h0m36 106h0m13 23h0m63 81h0m94 124h0m-297-646h0m-50 152h0m736 741h0"/>
<path stroke="#8707a6" d="M-188 -37h0m-18 186h0m49 59h0m-157-307h0m-4 107h0m11 59h0m56 122h0m15 21h0m54 55h0m65 45h0m-231-486h0m-69 93h0m-29-83h0m657 647h0m-723-703h0"/>
<path stroke="#99159f" d="M-260 -42h0m-39 136h0m80 135h0m-72-5h0m-196-392h0m-4-109h0"/>
<path stroke="#aa2395" d="M-164 78h0m-27 92h0m122 97h0m-300-355h0m-3 73h0m-39-108h0m684 708h0"/>
<path stroke="#b7318a" d="M-151 101h0m14 21h0m-120-201h0m119 304h0m21 15h0m-244-369h0m-70-86h0"/>
<path stroke="#c5407e" d="M-121 141h0m-129-90h0m213 291h0m-333-325h0m591 619h0"/>
<path stroke="#d14e72" d="M-260 -8h0m4 31h0m164 299h0m27 11h0m-317-553h0m537 755h0m-715-914h0"/>
<path stroke="#dc5d67" d="M-83 175h0m-159-97h0m190 314h0m30 8h0m-378-568h0m475 624h0m-526-729h0"/>
<path stroke="#e66c5c" d="M-182 26h0m7 164h0m-114-70h0m471 274h0m25 130h0m62 23h0"/>
<path stroke="#ee7b51" d="M-220 127h0m331 371h0"/>
<path stroke="#f58c46" d="M-103 159h0m42 31h0m55 159h0m172 98h0m-639-664h0m-56-146h0"/>
<path stroke="#fa9e3b" d="M47 408h0m71 46h0m152 51h0m87 85h0"/>
<path stroke="#fdb130" d="M-231 103h0m188 174h0m-452-629h0"/>
<path stroke="#fdc527" d="M-14 286h0m41 68h0m-16 51h0m119-1h0"/>
<path stroke="#fad824" d="M-9 212h0m63 12h0m99 123h0"/>
<path stroke="#f3ee27" d="M-36 202h0m57 18h0m-4 73h0m35 3h0m39 0h0m-27 60h0m41-1h0m-19 53h0m264 146h0"/>
<path stroke="#1d068e" d="M-173 137h0m-202-308h0m90 441h0m55 55h0m21 16h0m22 15h0m47 28h0m-370-665h0"/>
<path stroke="#370499" d="M-231 256h0m67 115h0"/>
<path stroke="#4c02a1" d="M-111 81h0m-98-14h0m-81-66h0m68 179h0m-112-107h0m29 77h0m12 24h0m144 148h0m-244-302h0m63 187h0m29 43h0m33 39h0m154 107h0m-310-562h0m633 669h0m-754-794h0"/>
<path stroke="#6001a6" d="M-96 102h0m-187-211h0m33 245h0m-66-10h0m52 91h0m52 57h0m-177-223h0m6 29h0m40 104h0m27 45h0"/>
<path stroke="#7401a8" d="M-140 6h0m-85-61h0m7 95h0m-71-108h0m100 287h0m18 18h0m-171-330h0m2 137h0m14 56h0m47 96h0m31 41h0m76 70h0m-194-173h0m117 174h0m-180-581h0m706 875h0"/>
<path stroke="#8707a6" d="M-37 151h0m-150-36h0m108 108h0m-201-163h0m129 194h0m22 15h0m-215-256h0m-52-60h0m21 155h0m20 51h0m268 247h0m-490-711h0"/>
<path stroke="#99159f" d="M-158 157h0m-128-126h0m25 81h0m55 88h0m80 135h0m52 23h0m-322-371h0m369 436h0m-407-545h0m650 741h0"/>
<path stroke="#aa2395" d="M-223 11h0m-14 148h0m-109-213h0m-1 35h0m302 387h0m30 7h0m-372-500h0m510 555h0m93 27h0m-683-623h0m737 732h0m-815-937h0"/>
<path stroke="#b7318a" d="M-123 59h0m64 78h0m-82 39h0m83 240h0m219 54h0m-638-818h0m-53 122h0m740 809h0"/>
<path stroke="#c5407e" d="M-291 -32h0m-27-152h0m125 475h0m466 191h0m-766-701h0"/>
<path stroke="#d14e72" d="M16 173h0m-138 20h0m-149-106h0m-63-222h0m-59 50h0m-14-132h0m-46 2h0m609 729h0m51 31h0"/>
<path stroke="#dc5d67" d="M-133 34h0m121 129h0m-89 185h0"/>
<path stroke="#e66c5c" d="M-226 -20h0m27 112h0m93 191h0m24 12h0m27 11h0m61 123h0m166-8h0m-644-695h0m741 801h0"/>
<path stroke="#ee7b51" d="M-78 121h0m-23 88h0m142 223h0m312 141h0"/>
<path stroke="#f58c46" d="M114 477h0"/>
<path stroke="#fa9e3b" d="M-28 246h0"/>
<path stroke="#fdb130" d="M18 380h0m-372-605h0m-159-132h0"/>
<path stroke="#fdc527" d="M-55 236h0m210 319h0"/>
<path stroke="#fad824" d="M94 383h0m-14 50h0"/>
<path stroke="#f3ee27" d="M1 255h0m32 5h0m36 2h0m-96 53h0m31 7h0m34 4h0m38 1h0m43-3h0m-65 59h0m86-6h0"/>
<path stroke="#1d068e" d="M-178 40h0m-188-148h0m20 226h0m34 73h0m100 117h0m43 32h0m-334-589h0"/>
<path stroke="#370499" d="M-129 132h0m-191-174h0m76 241h0m-207-342h0"/>
<path stroke="#4c02a1" d="M-169 66h0m97 117h0m-188-208h0m-57-54h0m-38 170h0m30 76h0m27 46h0m67 78h0m40 34h0m46 28h0m24 13h0m304 122h0"/>
<path stroke="#6001a6" d="M-187 -55h0m-66-45h0m-119 68h0m36 175h0m69 111h0m17 19h0m-118-523h0m-171-7h0m-8-72h0m11-91h0"/>
<path stroke="#7401a8" d="M-158 89h0m-8 110h0m-93-21h0m192 210h0m-505-657h0m-5-75h0"/>
<path stroke="#8707a6" d="M-185 11h0m-110-180h0m123 442h0m21 16h0m-205-441h0m-15 153h0m3 32h0m85 201h0m188 144h0m-319-480h0m-67-90h0m-39-5h0m757 754h0m-751-874h0"/>
<path stroke="#99159f" d="M-144 112h0m-115-172h0m13 125h0m63 115h0m78 67h0m-167-91h0m61 82h0m82 65h0m-242-372h0m9 131h0m-102-305h0m772 815h0"/>
<path stroke="#aa2395" d="M-199 160h0m52 56h0m-164-163h0m83 167h0m36 36h0m113 72h0m-259-531h0m-68 58h0m-13-98h0m552 739h0m-610-805h0m718 903h0"/>
<path stroke="#b7318a" d="M-127 232h0m45 29h0m-221-180h0m19 51h0m179 184h0m286 254h0"/>
<path stroke="#c5407e" d="M-188 -20h0m-70 27h0m5 30h0m-57-158h0m-6 144h0m559 448h0m-677-777h0"/>
<path stroke="#d14e72" d="M-237 91h0m180 181h0m20 124h0m230 44h0m112 93h0"/>
<path stroke="#dc5d67" d="M-213 138h0m-106-146h0m25 115h0m-98-300h0m-47 3h0m755 797h0"/>
<path stroke="#e66c5c" d="M-93 168h0m70 39h0m-203-92h0m204 231h0m259 170h0m13 113h0"/>
<path stroke="#ee7b51" d="M10 352h0m56 57h0"/>
<path stroke="#f58c46" d="M-29 282h0m58 125h0m151 123h0"/>
<path stroke="#fa9e3b" d="M-51 338h0m147 118h0"/>
<path stroke="#fdc527" d="M-112 151h0"/>
<path stroke="#fad824" d="M5 216h0"/>
<path stroke="#f3ee27" d="M-49 196h0m86 26h0m-36 68h0m33 5h0m37 1h0m42-3h0m-68 63h0m39 0h0m44-4h0m-133 51h0m112 4h0m48-7h0m-14 51h0"/>
<path stroke="#1d068e" d="M-103 92h0m-120-166h0m2 100h0m-67-10h0m2 169h0m10 95h0m57 53h0m43 31h0m49 26h0m-394-801h0"/>
<path stroke="#370499" d="M-214 54h0m65 113h0m-12 148h0m-148-75h0m111 109h0m447 97h0m-805-709h0"/>
<path stroke="#4c02a1" d="M-230 170h0m-107-112h0m81 169h0m34 39h0m-164-200h0m62 152h0m31 42h0m34 39h0m19 17h0"/>
<path stroke="#6001a6" d="M-180 126h0m-76-1h0m95 121h0m-150-108h0m72 109h0m-98-52h0m185 182h0m-243-622h0m582 710h0m-671-710h0m-12-67h0m-25 59h0"/>
<path stroke="#7401a8" d="M-48 145h0m-195 3h0m45 62h0m58 51h0m22 15h0m-212-190h0m9 27h0m183 216h0m-253-434h0m-5 75h0m17 124h0m8 27h0m10 26h0m260 254h0"/>
<path stroke="#8707a6" d="M-25 158h0m-141-11h0m-133 15h0m27 45h0m212 156h0m-289-191h0m-67-362h0m-56 46h0m-29-50h0m737 731h0m70 16h0m-837-875h0"/>
<path stroke="#99159f" d="M-226 -37h0m46 265h0m-167-265h0m144 320h0m-188-247h0m-70-226h0m700 684h0m-827-770h0"/>
<path stroke="#aa2395" d="M-137 20h0m20 50h0m-14 115h0m-146-316h0m-14 116h0m8 61h0m16 54h0m-60-259h0m-19 156h0m164 302h0m69 43h0m-282-338h0m640 608h0m-808-948h0"/>
<path stroke="#b7318a" d="M-205 80h0m12 24h0m126 126h0m-148-39h0m-124-304h0m-6 40h0m2 102h0m313 343h0m-365-438h0m-34-77h0m741 733h0"/>
<path stroke="#c5407e" d="M-225 -4h0m156 305h0m-18 52h0m147 80h0m-497-534h0m-5-142h0"/>
<path stroke="#d14e72" d="M1 168h0m-113 33h0m22 15h0m92 162h0m-368-575h0m293 608h0m30 9h0m224 90h0m2 79h0"/>
<path stroke="#dc5d67" d="M-128 47h0m-148 27h0m299 357h0m-479-737h0"/>
<path stroke="#e66c5c" d="M-94 289h0m-288-437h0m518 622h0m44 76h0m59 26h0"/>
<path stroke="#ee7b51" d="M-87 112h0m-200-200h0m379 566h0"/>
<path stroke="#f58c46" d="M-69 129h0m-222-179h0m279 369h0m144 198h0"/>
<path stroke="#fa9e3b" d="M90 261h0m-101 165h0"/>
<path stroke="#fdb130" d="M-42 241h0m1 70h0m142 121h0m46-6h0m54-12h0"/>
<path stroke="#fdc527" d="M143 320h0m-69 63h0m92-11h0m140 140h0"/>
<path stroke="#fad824" d="M36 382h0"/>
<path stroke="#f3ee27" d="M-14 251h0m31 7h0m34 4h0m-30 63h0m35 2h0m40-1h0m20 55h0"/>
<path class="w" stroke="#1d068e" d="M-379 163h0m24 48h0m29 44h0m32 40h0m78 70h0m23 15h0m-241-240h0m10 27h0m11 25h0m12 24h0m13 24h0m14 22h0m15 21h0m180 155h0m-318-384h0m30 114h0m10 26h0m11 25h0m89 132h0m123 103h0m-306-436h0m15 93h0m106 225h0m52 60h0m19 18h0m19 18h0m65 49h0m24 14h0m25 14h0m25 13h0m27 12h0m88 28h0m33 7h0m110 11h0m-638-503h0m6 30h0m25 85h0m22 52h0m12 25h0m42 69h0m16 22h0m156 147h0m23 15h0m50 27h0m26 12h0m28 12h0m29 10h0m61 18h0m-536-708h0m-3 111h0m3 34h0m9 63h0m7 30h0m37 111h0m12 25h0m13 25h0m13 24h0m15 23h0m47 65h0m18 20h0m78 75h0m21 16h0m46 32h0m49 28h0m53 25h0m29 11h0m29 10h0m31 9h0m32 7h0m34 7h0m36 4h0m38 3h0m-680-770h0m-4 40h0m-1 37h0m3 71h0m15 96h0m15 58h0m20 55h0m11 26h0m25 50h0m14 24h0m46 67h0m17 21h0m17 21h0m19 19h0m19 20h0m41 36h0m21 17h0m22 16h0m98 58h0"/>
<path class="w" stroke="#370499" d="M-389 137h0m48 96h0m84 99h0m112 75h0m26 12h0m-224-115h0m17 20h0m18 19h0m19 18h0m135 90h0m-338-367h0m59 159h0m13 23h0m15 23h0m85 100h0m20 17h0m21 17h0m22 16h0m97 54h0m87 30h0m-444-383h0m8 27h0m46 102h0m14 23h0m14 22h0m32 42h0m117 109h0m151 79h0m30 10h0m97 21h0m-562-713h0m-4 183h0m18 91h0m8 29h0m20 53h0m37 75h0m135 164h0m21 17h0m21 17h0m71 45h0m138 57h0m65 14h0m154 8h0m-720-545h0m20 90h0m19 55h0m94 168h0m71 80h0m20 18h0m65 50h0m98 57h0m340 63h0m-748-858h0m-15 269h0m5 32h0m14 60h0m18 57h0m33 78h0m42 72h0m15 22h0m245 217h0"/>
<path class="w" stroke="#4c02a1" d="M-412 53h0m101 222h0m35 39h0m39 35h0m67 45h0m-293-404h0m3 33h0m4 32h0m13 58h0m216 297h0m24 15h0m-298-403h0m16 91h0m8 28h0m87 169h0m16 21h0m35 39h0m128 98h0m79 36h0m28 10h0m62 16h0m34 6h0m36 4h0m-565-490h0m6 31h0m32 113h0m11 26h0m12 25h0m91 132h0m77 72h0m337 129h0m-607-637h0m1 71h0m100 304h0m47 65h0m35 39h0m19 19h0m371 173h0m37 4h0m39 1h0m-652-860h0m-33 212h0m125 392h0m68 83h0m151 117h0m-366-723h0m-11 156h0m240 510h0m88 67h0m24 15h0"/>
<path class="w" stroke="#6001a6" d="M-419 -45h0m0 34h0m51 198h0m-93-269h0m-2 37h0m215 440h0m121 67h0m28 11h0m61 16h0m-463-573h0m-2 72h0m317 493h0m-340-655h0m-14 84h0m-2 38h0m0 36h0m652 595h0m-689-602h0m166 424h0m-182-595h0m-9 45h0m-9 81h0m36 256h0m654 464h0"/>
<path class="w" stroke="#7401a8" d="M-406 82h0m8 28h0m306 319h0m-358-344h0m181 293h0m199 104h0m-426-606h0m-8 77h0m-72-50h0m744 743h0"/>
<path class="w" stroke="#8707a6" d="M-416 22h0m-145-205h0m-51-74h0"/>
<path class="w" stroke="#99159f" d="M-5 495h0m-529-625h0"/>
<path class="w" stroke="#aa2395" d="M-63 438h0m31 8h0m33 6h0m108 88h0m52 71h0"/>
<path class="w" stroke="#c5407e" d="M31 499h0m125 75h0"/>
<path class="w" stroke="#dc5d67" d="M67 541h0"/>
<path class="w" stroke="#ee7b51" d="M37 455h0"/>
<path class="w" stroke="#f58c46" d="M69 500h0"/>
<path class="w" stroke="#1d068e" d="M-402 165h0m23 49h0m28 45h0m68 79h0m61 50h0m23 15h0m24 13h0m25 13h0m-306-288h0m10 27h0m10 25h0m25 49h0m14 22h0m14 22h0m16 22h0m34 39h0m38 37h0m165 100h0m90 26h0m-481-490h0m4 32h0m5 31h0m7 30h0m50 131h0m42 68h0m16 22h0m114 110h0m45 31h0m25 14h0m51 25h0m-397-499h0m8 64h0m6 30h0m89 206h0m31 43h0m53 60h0m40 35h0m43 33h0m23 15h0m24 15h0m25 13h0m26 13h0m27 11h0m29 11h0m29 9h0m-486-531h0m10 62h0m15 59h0m19 54h0m11 26h0m12 25h0m13 24h0m14 24h0m14 23h0m16 22h0m16 21h0m17 21h0m97 92h0m45 32h0m49 29h0m52 25h0m28 11h0m29 10h0m31 9h0m65 15h0m-588-739h0m-3 39h0m2 108h0m4 32h0m5 32h0m7 30h0m16 58h0m20 54h0m12 26h0m12 25h0m27 47h0m82 107h0m80 74h0m22 16h0m209 104h0m31 9h0m33 7h0m34 7h0m36 4h0m38 3h0m-682-884h0m-21 129h0m-1 39h0m2 71h0m3 33h0m5 32h0m13 62h0m8 29h0m19 55h0m11 27h0m12 25h0"/>
<path class="w" stroke="#370499" d="M-365 237h0m30 43h0m16 20h0m18 19h0m58 53h0m-240-382h0m6 64h0m6 31h0m7 28h0m114 215h0m36 38h0m61 51h0m22 15h0m74 40h0m-331-304h0m10 26h0m50 97h0m48 63h0m18 20h0m18 19h0m20 18h0m20 17h0m116 74h0m54 23h0m29 9h0m31 9h0m32 7h0m70 9h0m-565-421h0m8 28h0m10 27h0m11 26h0m24 50h0m13 23h0m30 45h0m33 42h0m56 57h0m278 146h0m67 12h0m-589-657h0m1 71h0m20 126h0m17 56h0m179 270h0m20 18h0m43 33h0m47 31h0m50 27h0m216 62h0m37 3h0m40 1h0m-685-835h0m6 357h0m18 56h0m48 102h0m29 46h0m32 44h0m17 20h0m37 40h0m19 18h0m21 18h0m65 50h0m24 15h0m50 28h0m27 13h0m27 12h0m29 11h0m-490-799h0m-12 158h0m16 132h0m24 87h0"/>
<path class="w" stroke="#4c02a1" d="M-439 -82h0m-2 37h0m2 68h0m48 167h0m127 165h0m-160-137h0m149 183h0m92 59h0m111 43h0m-425-362h0m30 79h0m25 48h0m181 192h0m-297-553h0m-2 38h0m63 300h0m107 154h0m348 190h0m-523-826h0m-23 94h0m-5 41h0m-4 75h0m9 101h0m171 349h0m345 196h0m-549-774h0m-10 119h0m1 35h0m136 384h0m224 198h0m-389-707h0"/>
<path class="w" stroke="#6001a6" d="M-441 -10h0m13 94h0m7 28h0m9 27h0m376 329h0m-171-21h0m-300-618h0m-14 84h0m-2 73h0m515 570h0m-545-690h0m-8 115h0m5 67h0m245 422h0m341 127h0m-429-155h0m480 228h0"/>
<path class="w" stroke="#7401a8" d="M-434 54h0m-47-137h0m-3 38h0m3 68h0m379 471h0m95 22h0m-509-643h0m-7 78h0m590 610h0m44 36h0m-689-785h0m-49-77h0"/>
<path class="w" stroke="#8707a6" d="M-124 441h0m28 10h0m29 9h0m-477-638h0m613 777h0m48 34h0m47-5h0"/>
<path class="w" stroke="#99159f" d="M33 477h0m-509-600h0m505 642h0m80 40h0"/>
<path class="w" stroke="#aa2395" d="M71 479h0"/>
<path class="w" stroke="#b7318a" d="M-2 474h0m69 47h0m-664-771h0"/>
<path class="w" stroke="#c5407e" d="M158 593h0"/>
<path class="w" stroke="#dc5d67" d="M109 519h0"/>
<path class="w" stroke="#1d068e" d="M-361 199h0m76 106h0m80 67h0m23 15h0m-237-208h0m11 25h0m13 24h0m14 23h0m14 22h0m16 21h0m159 138h0m25 13h0m-328-376h0m33 112h0m11 26h0m24 48h0m14 23h0m103 119h0m87 64h0m165 66h0m-481-493h0m11 62h0m7 30h0m51 131h0m28 46h0m15 22h0m50 61h0m19 19h0m19 18h0m64 50h0m23 15h0m24 14h0m25 14h0m27 12h0m27 11h0m-418-447h0m33 113h0m23 51h0m13 25h0m28 46h0m31 43h0m137 129h0m46 30h0m25 14h0m26 12h0m27 12h0m28 11h0m30 10h0m30 9h0m-514-511h0m6 30h0m8 30h0m28 83h0m11 25h0m12 26h0m13 24h0m61 89h0m17 21h0m18 20h0m79 73h0m69 47h0m50 28h0m54 24h0m60 20h0m99 20h0m37 4h0m-650-834h0m-13 85h0m11 208h0m15 60h0m9 28h0m10 27h0m11 27h0m11 26h0m13 25h0m13 24h0m14 23h0m47 67h0m36 41h0m18 19h0m20 19h0m41 35h0m22 17h0m96 60h0"/>
<path class="w" stroke="#370499" d="M-384 150h0m36 72h0m14 22h0m15 21h0m17 20h0m55 55h0m21 17h0m93 56h0m-314-314h0m8 28h0m10 27h0m94 160h0m194 143h0m-361-452h0m30 150h0m33 76h0m57 90h0m34 40h0m19 18h0m61 52h0m22 15h0m100 53h0m-388-433h0m30 115h0m11 26h0m99 160h0m76 74h0m21 16h0m177 92h0m30 9h0m31 8h0m-520-607h0m3 70h0m4 32h0m20 90h0m29 80h0m68 118h0m70 81h0m19 18h0m20 18h0m22 17h0m44 31h0m331 103h0m-663-705h0m-2 75h0m2 34h0m3 33h0m27 120h0m70 153h0m15 23h0m16 22h0m109 118h0m43 33h0m23 16h0m101 55h0m56 22h0m62 18h0m33 7h0m-594-701h0m1 72h0m3 34h0m17 93h0m154 298h0m76 76h0m90 65h0"/>
<path class="w" stroke="#4c02a1" d="M-409 68h0m15 56h0m128 199h0m108 77h0m-300-361h0m141 295h0m18 18h0m40 35h0m44 31h0m-289-447h0m5 67h0m11 61h0m7 28h0m83 173h0m108 115h0m92 60h0m80 34h0m-419-619h0m-5 76h0m29 188h0m102 192h0m459 233h0m40 1h0m-643-786h0m-5 328h0m16 57h0m59 125h0m81 107h0m347 193h0m34 6h0m-585-738h0m-6 79h0m42 251h0m161 251h0m19 19h0m491 180h0m94-11h0m-841-664h0m9 101h0m132 316h0m176 169h0m48 30h0"/>
<path class="w" stroke="#6001a6" d="M-414 38h0m12 58h0m296 328h0m-356-487h0m0 70h0m9 63h0m215 333h0m153 74h0m-414-581h0m134 445h0m192 146h0m84 32h0m64 14h0m-516-603h0m0 71h0m59 231h0m26 48h0m431 292h0m35 5h0m-583-695h0m-5 113h0m156 396h0m435 223h0m-613-785h0m342 739h0m315 84h0m87-3h0m-784-789h0m117 512h0"/>
<path class="w" stroke="#7401a8" d="M-418 6h0m139 364h0m225 116h0m64 52h0m-576-698h0m-11 82h0m669 695h0"/>
<path class="w" stroke="#8707a6" d="M-419 -28h0m46 203h0m428 281h0m-513-557h0m-5 74h0m-29-119h0m-11 81h0m550 606h0m-636-759h0m-31-14h0"/>
<path class="w" stroke="#99159f" d="M-113 468h0m250 146h0"/>
<path class="w" stroke="#aa2395" d="M-418 -64h0m396 556h0m71 8h0m-652-784h0"/>
<path class="w" stroke="#b7318a" d="M12 497h0m75 44h0m44-3h0m-662-690h0m663 729h0m54 30h0"/>
<path class="w" stroke="#c5407e" d="M18 454h0"/>
<path class="w" stroke="#d14e72" d="M-78 434h0m30 8h0"/>
<path class="w" stroke="#e66c5c" d="M-16 449h0m105 51h0"/>
<path class="w" stroke="#1d068e" d="M-397 178h0m25 47h0m140 155h0m22 15h0m23 15h0m24 13h0m-305-324h0m27 82h0m11 25h0m12 24h0m14 23h0m14 23h0m15 21h0m16 21h0m54 57h0m-210-307h0m6 30h0m8 29h0m8 28h0m45 101h0m43 67h0m17 21h0m35 39h0m39 36h0m65 48h0m23 15h0m25 13h0m-356-463h0m4 32h0m5 31h0m7 29h0m64 157h0m28 45h0m16 22h0m111 114h0m22 16h0m46 31h0m24 14h0m26 13h0m27 12h0m27 11h0m29 10h0m-475-578h0m6 67h0m11 61h0m8 30h0m18 55h0m22 52h0m12 24h0m43 70h0m32 42h0m117 111h0m122 72h0m27 12h0m29 10h0m29 10h0m99 21h0m36 4h0m-644-725h0m3 143h0m4 32h0m6 31h0m7 30h0m18 57h0m10 27h0m11 26h0m12 25h0m12 25h0m14 24h0m14 23h0m48 65h0m55 59h0m41 36h0m22 17h0m45 32h0m75 42h0m55 23h0m30 11h0m30 9h0m32 8h0m34 7h0m35 5h0m37 4h0m-686-697h0m4 70h0m4 32h0m6 32h0m14 60h0m29 83h0m11 27h0"/>
<path class="w" stroke="#370499" d="M-440 7h0m15 91h0m18 54h0m64 117h0m33 41h0m18 19h0m19 18h0m20 17h0m-226-325h0m5 31h0m14 57h0m9 28h0m109 183h0m57 54h0m66 48h0m49 26h0m26 12h0m-378-474h0m39 177h0m22 51h0m41 70h0m49 62h0m37 38h0m40 34h0m22 16h0m97 56h0m55 22h0m62 17h0m33 6h0m112 7h0m-646-634h0m26 227h0m9 27h0m21 52h0m13 25h0m27 47h0m46 65h0m36 39h0m19 19h0m20 18h0m252 133h0m32 7h0m-533-707h0m-3 147h0m9 64h0m80 215h0m14 23h0m31 44h0m71 80h0m20 18h0m65 50h0m23 15h0m49 28h0m144 53h0m32 8h0m151 11h0m-711-811h0m-15 122h0m2 72h0m28 155h0m149 264h0m18 19h0m39 38h0m65 50h0m47 31h0m25 14h0m53 25h0m265 56h0m-707-860h0m-14 85h0m-3 40h0m1 73h0m18 129h0m16 58h0m10 28h0m34 78h0"/>
<path class="w" stroke="#4c02a1" d="M-417 126h0m32 76h0m27 46h0m31 42h0m190 145h0m-187-78h0m60 52h0m22 16h0m47 28h0m79 36h0m60 17h0m67 12h0m-530-482h0m46 171h0m325 312h0m-413-556h0m47 243h0m237 288h0m288 102h0m-606-678h0m32 259h0m20 53h0m117 183h0m78 74h0m91 62h0m-374-567h0m129 390h0m16 22h0m-170-541h0"/>
<path class="w" stroke="#6001a6" d="M-431 69h0m-52-133h0m1 71h0m458 506h0m-495-619h0m-3 38h0m87 347h0m345 260h0m-459-694h0m-11 153h0m161 391h0m374 202h0m74 7h0m-646-643h0m189 477h0m-227-671h0"/>
<path class="w" stroke="#7401a8" d="M-441 -63h0m-1 36h0m5 66h0m327 407h0m162 32h0m-536-506h0m397 526h0m-436-529h0m533 589h0m-548-759h0m-18 88h0m646 711h0m-662-810h0m-11 47h0m637 800h0m-678-769h0"/>
<path class="w" stroke="#8707a6" d="M-82 456h0m31 8h0m98 96h0m-652-784h0"/>
<path class="w" stroke="#99159f" d="M-479 -102h0m527 622h0m-560-668h0"/>
<path class="w" stroke="#aa2395" d="M134 595h0m-752-887h0"/>
<path class="w" stroke="#b7318a" d="M-19 471h0"/>
<path class="w" stroke="#c5407e" d="M15 476h0m125 155h0m49-7h0"/>
<path class="w" stroke="#d14e72" d="M88 521h0"/>
<path class="w" stroke="#dc5d67" d="M131 558h0"/>
</g></g>
<use href="#grat"/><use href="#oval"/><g><circle r="0.9" fill="#333"/><text class="l" x="-2.2" y="-59.4" text-anchor="middle">-60</text><text class="l" x="-2.2" y="-38" text-anchor="middle">-70</text><text class="l" x="-2.2" y="-16.9" text-anchor="middle">-80</text><text class="l" x="-69.3" y="-35.6" text-anchor="end">240</text><text class="l" x="-67.4" y="45" text-anchor="end">300</text><text class="l" x="66" y="-35.4">120</text><text class="l" x="67.6" y="45.2">60</text></g>
<text class="t" x="-0.7" y="-98.1">jup.7042.01</text><text class="t" x="-0.7" y="-81.5">2017-03-17 12:49 UT</text>
</g>
<g transform="translate(91.30 320.10)">
<clipPath id="k3"><circle cx="1.38" cy="-1.45" r="65.50"/></clipPath>
<g clip-path="url(#k3)"><g class="d" transform="scale(.1)">
<path stroke="#1d068e" d="M-159 20h0m-50 87h0m28 44h0m-158-321h0m-111 71h0"/>
<path stroke="#370499" d="M-195 130h0m8 176h0m397 200h0m120-2h0"/>
<path stroke="#4c02a1" d="M-242 -5h0m-64-47h0m-13 198h0m41 69h0m33 40h0m18 18h0m-149-484h0m-66 66h0m-43 2h0"/>
<path stroke="#6001a6" d="M-165 -11h0m-76-70h0m-3 41h0m117 246h0m-164-348h0m3 220h0m34 76h0m14 22h0m-90-56h0m-98-319h0m695 641h0m64 17h0"/>
<path stroke="#7401a8" d="M-51 163h0m-33 71h0m-21 60h0m-103-4h0m42 31h0m-242-384h0"/>
<path stroke="#8707a6" d="M-139 72h0m66 77h0m-157-93h0m-72-149h0m174 374h0m-231-280h0m4 33h0m15 59h0m197 242h0m-261-440h0m670 635h0"/>
<path stroke="#99159f" d="M-279 105h0m-82-140h0m54 205h0m14 23h0m31 42h0m441 139h0m-11 53h0m-693-571h0m738 690h0m-764-746h0"/>
<path stroke="#aa2395" d="M-151 47h0m71 258h0m-268-240h0m-103-321h0m715 745h0m-849-698h0"/>
<path stroke="#b7318a" d="M-306 -15h0m82 211h0m34 38h0m20 17h0m20 16h0m123 56h0m-92 24h0m25 11h0m-405-692h0m-37-7h0m-31 73h0"/>
<path stroke="#c5407e" d="M-92 133h0m64 42h0m-192-93h0m56 89h0m-44 45h0m-151-290h0m443 512h0m79 36h0"/>
<path stroke="#d14e72" d="M-110 115h0m-36 74h0m40 32h0m-161-91h0m-86-248h0m285 486h0m-426-623h0m-19 60h0m-19-64h0m804 826h0"/>
<path stroke="#dc5d67" d="M-126 94h0m129 236h0m-43 46h0m30 6h0m345 161h0"/>
<path stroke="#e66c5c" d="M-302 19h0m6 31h0m242 265h0m76 72h0m-417-540h0m-78-41h0"/>
<path stroke="#ee7b51" d="M124 434h0m94-21h0m-7 49h0"/>
<path stroke="#f58c46" d="M60 194h0m-298-167h0m178 219h0"/>
<path stroke="#fa9e3b" d="M56 389h0m77-5h0"/>
<path stroke="#fdb130" d="M93 388h0"/>
<path stroke="#f3ee27" d="M-2 185h0m29 6h0m-61 65h0m28 8h0m30 6h0m33 2h0m37-1h0m-59 63h0m35 1h0m38-3h0m43-7h0"/>
<path stroke="#1d068e" d="M-276 -64h0m-5 227h0m-98-274h0m126 393h0m-150-485h0m-24-57h0"/>
<path stroke="#370499" d="M-88 332h0m-216-110h0m110 110h0m69 40h0"/>
<path stroke="#4c02a1" d="M-91 187h0m-186-213h0m-41 226h0m47 63h0m36 37h0m20 16h0m43 30h0m501 136h0"/>
<path stroke="#6001a6" d="M-207 -23h0m45 137h0m50 57h0m-114-28h0m15 21h0m116 101h0m-199-126h0m76 106h0m38 34h0m-193-209h0m18 56h0m11 26h0m56 91h0m560 173h0m-743-514h0"/>
<path stroke="#7401a8" d="M-195 185h0m-138-191h0m66 191h0m15 21h0m-112-107h0m265 284h0m-329-484h0m-36-42h0m728 653h0"/>
<path stroke="#8707a6" d="M-130 154h0m-109-34h0m100 117h0m21 15h0m-118-26h0m77 68h0m23 14h0m-248-376h0m1 74h0m51 171h0m183 183h0m374 25h0m-15 100h0m-715-628h0m-63-61h0"/>
<path stroke="#99159f" d="M-379 39h0m-114-233h0"/>
<path stroke="#aa2395" d="M-268 39h0m90 165h0m-145-146h0m488 393h0m46 75h0m-761-789h0"/>
<path stroke="#b7318a" d="M-260 68h0m10 27h0m91 126h0m46 100h0m-272-350h0m371 436h0m-417-467h0m552 518h0m92-20h0m-745-635h0m748 762h0m53-16h0m62-25h0m-54 61h0m-860-858h0"/>
<path stroke="#c5407e" d="M-66 87h0m-5 190h0m-261-359h0m133 345h0m195 94h0m-40 43h0m216 1h0m-690-738h0m857 898h0"/>
<path stroke="#d14e72" d="M-176 92h0m-93-200h0m-5 116h0m-41 78h0m281 264h0m162 60h0m-601-665h0m-40-2h0"/>
<path stroke="#dc5d67" d="M-26 119h0m-161-52h0m141 146h0m-288-255h0m5 69h0m518 316h0m-557-503h0m295 552h0m90 19h0m34 3h0m-470-562h0m581 643h0"/>
<path stroke="#e66c5c" d="M-204 10h0m-120-138h0m262 470h0"/>
<path stroke="#ee7b51" d="M-96 45h0m-51 90h0m-158-22h0m-146-309h0m716 662h0"/>
<path stroke="#f58c46" d="M-207 -60h0m10 100h0m127 161h0m158 213h0"/>
<path stroke="#fa9e3b" d="M-552 -346h0"/>
<path stroke="#fdb130" d="M-82 68h0m34 36h0m76 257h0m71 0h0"/>
<path stroke="#fad824" d="M-45 287h0m27 8h0m30 6h0"/>
<path stroke="#f3ee27" d="M-20 222h0m28 8h0m31 5h0m34 1h0m-28 68h0m35 1h0m40-5h0m-58 63h0m79-7h0"/>
<path stroke="#1d068e" d="M-163 5h0m18 55h0m-99-82h0m56 163h0m393 225h0m-592-546h0m-155-49h0"/>
<path stroke="#370499" d="M-117 213h0m-208-80h0m-92-363h0m789 754h0"/>
<path stroke="#4c02a1" d="M-83 141h0m-164 24h0m130 123h0m-243-305h0m90 242h0m163 128h0m-340-474h0m-107-181h0m-23 65h0"/>
<path stroke="#6001a6" d="M-155 34h0m-88-94h0m41 179h0m22 124h0m-133-85h0m59 87h0m56 53h0m21 16h0m413 184h0m-756-667h0m816 688h0m-51 57h0"/>
<path stroke="#7401a8" d="M-225 69h0m-36 73h0m-25 62h0m50 60h0m18 18h0m63 46h0m24 13h0m-358-460h0"/>
<path stroke="#8707a6" d="M-215 95h0m42 66h0m-132-233h0m21 164h0m-76-146h0m-158-240h0"/>
<path stroke="#99159f" d="M-293 64h0m61 122h0m33 39h0m-158-207h0m5 31h0m7 30h0m45 103h0m-100-310h0m647 530h0m-683-573h0m577 648h0m45-8h0m109 7h0m-774-767h0"/>
<path stroke="#aa2395" d="M-234 41h0m162 199h0m-67 34h0m-270-317h0m-54-181h0m648 736h0m-742-686h0"/>
<path stroke="#b7318a" d="M-101 124h0m-197-241h0m-7 119h0m145 257h0m92 51h0m27 10h0m-306-463h0m11 250h0m255 256h0m-371-441h0"/>
<path stroke="#c5407e" d="M-133 83h0m15 22h0m-122-94h0m103 186h0m42 31h0m2 72h0m-264-395h0m512 475h0m-10 51h0m47-10h0m110 136h0"/>
<path stroke="#d14e72" d="M-62 156h0m50 171h0m124 60h0m-592-555h0"/>
<path stroke="#dc5d67" d="M-273 118h0m279 267h0m-413-469h0m-98-140h0"/>
<path stroke="#e66c5c" d="M-40 169h0m-115 11h0m108 71h0m-260-284h0m7 67h0m84 172h0m392 112h0m-230 54h0m158 64h0m135 103h0"/>
<path stroke="#f58c46" d="M19 332h0"/>
<path stroke="#fa9e3b" d="M-25 379h0m63 9h0"/>
<path stroke="#fdc527" d="M43 193h0m31 196h0"/>
<path stroke="#f3ee27" d="M-15 180h0m28 8h0m-33 72h0m28 7h0m32 4h0m35 1h0m39-4h0m-62 67h0m36-1h0m41-5h0m109 125h0"/>
<path stroke="#1d068e" d="M-375 -134h0m131 425h0m-224-411h0"/>
<path stroke="#370499" d="M-121 163h0m-196-317h0m55 427h0m57 51h0m93 54h0m-345-670h0"/>
<path stroke="#4c02a1" d="M-15 125h0m-319-149h0m259 361h0m-306-314h0m12 62h0m610 473h0"/>
<path stroke="#6001a6" d="M-102 179h0m-117-25h0m112 105h0m-242-120h0m24 50h0m14 22h0m15 22h0m113 106h0m-241-463h0m-115-47h0"/>
<path stroke="#7401a8" d="M-150 229h0m-182-218h0m58 163h0m126 128h0m-235-391h0m23 202h0m22 52h0m58 88h0m55 55h0m64 45h0m-252-528h0m-17 95h0m-11-146h0m-59 58h0m-60-64h0m-34-11h0"/>
<path stroke="#8707a6" d="M-206 -6h0m125 200h0m-122-19h0m-85-24h0m98 120h0m21 16h0m-207-232h0m239 311h0m51 22h0m271 103h0m-684-783h0"/>
<path stroke="#99159f" d="M-75 78h0m-196-54h0m84 170h0m-142-298h0m10 176h0m75 144h0m35 38h0m84 61h0m24 12h0m-258-516h0m329 593h0m-429-573h0m-26-54h0m672 755h0m-711-758h0m-12-71h0"/>
<path stroke="#aa2395" d="M-57 96h0m-82 49h0m-134-230h0m-4 41h0m32 151h0m116 138h0m71 37h0m-268-239h0m66 153h0m33 40h0m415 210h0m53-17h0m57 109h0m72-34h0m-120 90h0"/>
<path stroke="#b7318a" d="M-276 -9h0m12 63h0m8 28h0m23 49h0m64 81h0m-165-274h0m34 188h0m281 228h0m-40 43h0m93 16h0m261 85h0m-865-805h0"/>
<path stroke="#c5407e" d="M-83 271h0m-302-282h0m386 420h0"/>
<path stroke="#d14e72" d="M-310 100h0m-75-148h0m682 500h0m-60 67h0"/>
<path stroke="#dc5d67" d="M-182 79h0m27 46h0m319 226h0"/>
<path stroke="#e66c5c" d="M-208 -41h0m39 144h0m318 303h0m158 168h0"/>
<path stroke="#ee7b51" d="M11 359h0m58 55h0m167 63h0"/>
<path stroke="#f58c46" d="M-58 207h0m165 205h0m90-17h0m-55 60h0"/>
<path stroke="#fa9e3b" d="M-192 54h0m160 237h0"/>
<path stroke="#fdb130" d="M-89 57h0m181 177h0m-140 113h0m92 15h0"/>
<path stroke="#fdc527" d="M-201 26h0m168 192h0"/>
<path stroke="#f3ee27" d="M-37 112h0m31 115h0m29 6h0m33 3h0m-59 62h0m31 5h0m34 2h0m37-2h0m43-7h0m-62 67h0m39-4h0"/>
<path class="w" stroke="#1d068e" d="M-388 104h0m-35 34h0m49 100h0m30 44h0m34 39h0m80 68h0m148 72h0m-392-347h0m42 107h0m13 24h0m30 45h0m16 22h0m17 20h0m17 19h0m19 19h0m19 17h0m42 33h0m147 75h0m-394-351h0m20 55h0m12 26h0m41 71h0m32 44h0m54 58h0m154 106h0m80 32h0m-440-423h0m28 87h0m115 186h0m57 57h0m41 33h0m22 16h0m23 14h0m24 14h0m76 36h0m27 10h0m59 17h0m63 12h0m-579-517h0m14 63h0m30 85h0m12 26h0m13 25h0m13 25h0m15 24h0m48 65h0m74 77h0m42 34h0m22 16h0m46 29h0m50 26h0m26 12h0m27 10h0m57 18h0m31 8h0m99 14h0m36 2h0m-695-758h0m-4 84h0m1 38h0m7 71h0m14 64h0m8 30h0m20 58h0m11 27h0m13 26h0m42 73h0m15 23h0m129 138h0m21 16h0m22 16h0m23 16h0"/>
<path class="w" stroke="#370499" d="M-279 290h0m18 18h0m20 17h0m20 16h0m-192-176h0m25 50h0m28 46h0m33 41h0m36 38h0m19 17h0m20 17h0m44 30h0m23 14h0m24 12h0m25 12h0m-319-272h0m11 26h0m40 72h0m124 136h0m66 45h0m75 36h0m55 19h0m30 7h0m-478-494h0m4 34h0m32 121h0m49 101h0m30 45h0m33 42h0m18 19h0m59 54h0m21 16h0m119 67h0m27 11h0m86 24h0m32 6h0m-538-475h0m15 61h0m31 83h0m12 26h0m13 24h0m15 24h0m30 45h0m52 61h0m19 19h0m40 35h0m114 73h0m26 12h0m82 30h0m200 26h0m83-9h0m-736-393h0m79 149h0m16 22h0m71 80h0m261 155h0m124 27h0m-627-709h0m3 114h0m10 68h0m26 91h0m47 106h0m77 114h0m36 40h0m20 19h0m19 18h0"/>
<path class="w" stroke="#4c02a1" d="M-402 44h0m35 113h0m54 93h0m113 107h0m23 14h0m73 36h0m28 9h0m-364-336h0m39 111h0m292 261h0m56 17h0m-435-417h0m6 31h0m17 59h0m228 293h0m47 27h0m25 12h0m246 50h0m-612-623h0m9 183h0m61 166h0m133 166h0m64 48h0m23 14h0m24 14h0m133 52h0m-487-606h0m0 39h0m6 72h0m29 123h0m109 194h0m443 233h0m35 2h0m78-3h0m-735-666h0m-1 39h0m2 38h0m15 101h0m16 60h0m139 242h0m78 74h0m66 47h0m48 28h0m197 66h0m-494-301h0m46 69h0m35 41h0"/>
<path class="w" stroke="#6001a6" d="M-378 131h0m36 75h0m46 64h0m142 114h0m-292-335h0m-46-146h0m0 115h0m469 499h0m143 5h0m-654-541h0m19 133h0m598 449h0m-652-549h0m109 309h0m409 267h0m-545-747h0m-7 46h0m1 155h0m185 387h0m514 205h0m40-3h0"/>
<path class="w" stroke="#7401a8" d="M-355 182h0m27 46h0m199 168h0m81 28h0m-405-481h0m21 167h0m-63-166h0m-39-1h0m580 620h0"/>
<path class="w" stroke="#8707a6" d="M-396 74h0m444 364h0m-499-422h0m571 464h0m-615-498h0m658 534h0m-152 45h0m155-6h0m-734-659h0"/>
<path class="w" stroke="#99159f" d="M-453 -19h0m431 494h0m31 46h0m114 40h0"/>
<path class="w" stroke="#aa2395" d="M-409 -25h0m2 36h0m389 419h0m62 52h0m0 42h0"/>
<path class="w" stroke="#c5407e" d="M10 480h0m71 2h0"/>
<path class="w" stroke="#d14e72" d="M14 435h0m206 148h0"/>
<path class="w" stroke="#dc5d67" d="M-562 -149h0"/>
<path class="w" stroke="#1d068e" d="M-320 276h0m34 39h0m19 18h0m160 97h0m-327-262h0m11 26h0m26 48h0m30 44h0m16 21h0m18 20h0m18 19h0m19 18h0m19 17h0m43 31h0m22 15h0m101 47h0m28 9h0m-419-399h0m16 59h0m21 55h0m12 25h0m13 25h0m14 23h0m15 23h0m15 21h0m17 21h0m17 20h0m19 19h0m19 18h0m211 123h0m59 15h0m-487-448h0m7 31h0m40 112h0m26 49h0m202 210h0m23 14h0m25 14h0m78 34h0m28 9h0m160 26h0m-627-502h0m34 119h0m23 53h0m27 49h0m160 180h0m44 31h0m23 15h0m102 49h0m28 10h0m28 9h0m129 22h0m-632-779h0m12 301h0m8 30h0m32 83h0m13 25h0m13 25h0m15 24h0m15 23h0m15 23h0m17 21h0m17 21h0m37 39h0m60 54h0m22 16h0m22 15h0m23 15h0m75 39h0m54 22h0m28 10h0m30 8h0m31 7h0"/>
<path class="w" stroke="#370499" d="M-410 107h0m44 104h0m62 85h0m57 54h0m43 31h0m22 14h0m-263-254h0m35 77h0m28 47h0m126 132h0m118 67h0m84 26h0m-454-438h0m13 62h0m19 57h0m172 239h0m20 17h0m22 15h0m46 29h0m50 24h0m26 11h0m-411-490h0m45 184h0m24 51h0m28 47h0m15 23h0m16 21h0m17 21h0m18 20h0m57 55h0m43 32h0m95 55h0m26 11h0m84 28h0m63 12h0m-569-641h0m5 112h0m12 65h0m8 30h0m30 84h0m54 98h0m32 44h0m17 21h0m36 39h0m82 69h0m69 43h0m25 13h0m26 12h0m145 44h0m32 5h0m108 5h0m-715-692h0m-1 40h0m1 38h0m3 36h0m5 34h0m6 32h0m26 90h0m11 28h0m172 247h0m20 18h0m112 77h0m25 13h0m52 24h0"/>
<path class="w" stroke="#4c02a1" d="M-401 135h0m11 27h0m12 25h0m26 47h0m16 22h0m110 110h0m68 41h0m-5 45h0m-349-434h0m273 439h0m47 26h0m108 41h0m-469-544h0m27 164h0m10 28h0m165 248h0m41 35h0m258 116h0m65 9h0m-602-605h0m80 302h0m44 70h0m51 62h0m38 38h0m20 17h0m276 138h0m-540-718h0m182 550h0"/>
<path class="w" stroke="#6001a6" d="M-133 419h0m-328-337h0m7 30h0m266 328h0m-327-496h0m0 38h0m492 555h0m68 7h0m37 0h0m39-2h0m-491-140h0m-209-555h0m-7 46h0m-1 119h0m32 159h0m609 448h0m79-3h0"/>
<path class="w" stroke="#7401a8" d="M-418 78h0m339 361h0m-395-495h0m7 107h0m-45-149h0m676 634h0m-717-595h0m6 109h0"/>
<path class="w" stroke="#8707a6" d="M-425 47h0m374 400h0m31 6h0m-530-554h0m636 683h0m90 28h0"/>
<path class="w" stroke="#99159f" d="M-429 14h0m-45-32h0m2 35h0m449 479h0m33 45h0"/>
<path class="w" stroke="#aa2395" d="M80 504h0m46 76h0"/>
<path class="w" stroke="#b7318a" d="M-432 -22h0m444 480h0m34 2h0m-2 43h0m125 71h0"/>
<path class="w" stroke="#c5407e" d="M9 501h0m110 0h0m-721-715h0"/>
<path class="w" stroke="#dc5d67" d="M-543 -147h0"/>
<path class="w" stroke="#e66c5c" d="M82 460h0m142 140h0"/>
<path class="w" stroke="#1d068e" d="M-288 280h0m78 69h0m-208-197h0m51 98h0m31 42h0m17 20h0m18 19h0m81 66h0m153 68h0m-418-397h0m60 165h0m13 24h0m47 65h0m17 20h0m37 37h0m20 17h0m21 16h0m118 68h0m54 19h0m-393-313h0m11 26h0m12 25h0m14 25h0m14 23h0m15 22h0m16 22h0m16 21h0m18 20h0m18 19h0m19 18h0m85 64h0m73 39h0m26 11h0m27 10h0m-436-466h0m14 63h0m18 58h0m11 27h0m12 26h0m13 25h0m13 24h0m81 108h0m38 38h0m41 34h0m44 31h0m23 14h0m102 48h0m28 10h0m29 9h0m61 13h0m144 7h0m-701-782h0m-2 276h0m7 31h0m28 87h0m37 78h0m14 24h0m31 45h0m16 22h0m17 21h0m56 57h0m63 51h0m22 16h0m23 14h0m24 14h0m25 13h0m52 23h0m28 10h0m29 9h0m29 8h0m31 7h0m102 12h0m-681-693h0m0 39h0m6 73h0m12 66h0m8 30h0m9 30h0m10 29h0m11 27h0m11 27h0m41 74h0m15 23h0m68 85h0m19 19h0m40 37h0m21 17h0m21 16h0m23 16h0"/>
<path class="w" stroke="#370499" d="M-362 170h0m111 147h0m20 16h0m89 57h0m25 11h0m-290-223h0m12 25h0m14 24h0m119 139h0m21 16h0m44 29h0m24 13h0m25 12h0m52 21h0m-382-358h0m17 57h0m11 27h0m12 26h0m41 70h0m149 149h0m22 14h0m24 14h0m76 34h0m87 24h0m-491-479h0m20 94h0m9 29h0m272 327h0m24 13h0m107 42h0m60 14h0m-519-456h0m90 214h0m15 22h0m33 42h0m36 39h0m40 36h0m42 33h0m70 43h0m25 12h0m26 12h0m178 46h0m-598-731h0m-7 86h0m3 75h0m4 34h0m22 95h0m9 28h0m22 55h0m12 26h0m42 72h0m86 104h0m39 36h0m163 102h0m176 51h0m33 4h0m-643-733h0m9 187h0m83 226h0"/>
<path class="w" stroke="#4c02a1" d="M-392 89h0m9 29h0m10 26h0m38 73h0m15 22h0m15 21h0m35 39h0m180 112h0m-262-140h0m70 78h0m-188-221h0m89 173h0m51 60h0m261 147h0m-465-546h0m1 37h0m8 69h0m7 31h0m200 325h0m21 17h0m22 15h0m206 92h0m134 16h0m-635-646h0m-1 40h0m135 398h0m469 244h0m37 1h0m-675-690h0m-1 79h0m259 504h0m-292-474h0m78 269h0m59 95h0m17 21h0m17 21h0m56 58h0"/>
<path class="w" stroke="#6001a6" d="M-189 364h0m23 14h0m-270-283h0m8 29h0m-66-123h0m4 34h0m312 433h0m171 51h0m107 4h0m-105 36h0m108 4h0m-673-567h0m2 36h0m27 126h0m475 429h0m216 9h0m-576-174h0m503 215h0m40-2h0"/>
<path class="w" stroke="#7401a8" d="M-405 27h0m56 167h0m287 226h0m60 13h0m-447-400h0m6 32h0m320 382h0m-372-483h0m521 559h0m36 1h0m79-5h0m-669-640h0m-5 43h0m562 640h0m115-3h0m-777-703h0"/>
<path class="w" stroke="#8707a6" d="M-399 59h0m-55-97h0m2 37h0m-42-75h0m683 627h0m-754-677h0"/>
<path class="w" stroke="#99159f" d="M31 437h0m-69 35h0"/>
<path class="w" stroke="#b7318a" d="M27 481h0"/>
<path class="w" stroke="#c5407e" d="M-408 -7h0m474 445h0m-72 39h0m106 4h0m95 107h0"/>
<path class="w" stroke="#dc5d67" d="M-33 427h0"/>
<path class="w" stroke="#fdb130" d="M62 483h0"/>
<path class="w" stroke="#1d068e" d="M-329 266h0m-111-112h0m50 100h0m31 43h0m34 40h0m38 36h0m42 32h0m22 15h0m72 38h0m-354-390h0m46 143h0m12 25h0m14 24h0m14 22h0m15 23h0m17 21h0m17 20h0m17 19h0m19 19h0m40 35h0m167 92h0m28 9h0m-401-307h0m12 25h0m27 49h0m47 66h0m160 139h0m218 82h0m-514-389h0m22 54h0m13 26h0m13 24h0m14 24h0m65 86h0m38 39h0m61 51h0m22 16h0m23 15h0m23 14h0m50 25h0m26 12h0m28 10h0m28 9h0m160 28h0m-660-670h0m19 175h0m17 60h0m10 28h0m24 54h0m13 25h0m28 48h0m15 23h0m33 43h0m96 94h0m21 17h0m22 16h0m23 15h0m23 14h0m25 14h0m78 35h0m28 10h0m29 9h0m30 8h0m31 6h0"/>
<path class="w" stroke="#370499" d="M-406 121h0m34 78h0m60 87h0m36 38h0m19 18h0m64 46h0m100 46h0m-336-253h0m12 25h0m13 24h0m29 46h0m33 41h0m36 38h0m40 34h0m66 45h0m75 35h0m28 9h0m28 9h0m-446-524h0m1 37h0m4 35h0m11 64h0m18 58h0m10 28h0m157 217h0m41 33h0m120 66h0m84 27h0m30 6h0m140 9h0m-653-545h0m41 188h0m36 77h0m44 69h0m34 41h0m98 90h0m22 15h0m46 28h0m25 13h0m26 12h0m26 11h0m28 9h0m28 9h0m245 17h0m-730-707h0m-3 159h0m5 34h0m6 33h0m7 31h0m29 86h0m66 123h0m16 22h0m17 21h0m36 40h0m38 37h0m21 17h0m114 74h0m136 52h0m63 12h0m-585-750h0m-7 126h0m2 36h0m5 35h0m5 33h0m15 63h0m31 84h0m38 76h0m46 69h0m53 61h0m19 19h0m180 123h0m26 12h0"/>
<path class="w" stroke="#4c02a1" d="M-396 148h0m101 158h0m58 52h0m22 15h0m45 28h0m50 24h0m-353-501h0m-2 39h0m299 483h0m-75 4h0m47 27h0m25 12h0m-373-569h0m3 113h0m5 34h0m6 32h0m8 30h0m9 29h0m75 152h0m67 83h0m19 18h0m19 18h0m21 17h0m351 135h0m-605-759h0m-14 92h0m-1 41h0m525 651h0m65 10h0m72 3h0m-695-713h0m175 518h0m57 57h0"/>
<path class="w" stroke="#6001a6" d="M-414 93h0m29 81h0m26 48h0m15 23h0m199 168h0m-325-379h0m21 93h0m-60-247h0m19 249h0m262 335h0m221 75h0m-546-579h0m485 608h0m64 10h0m71 5h0m87 30h0"/>
<path class="w" stroke="#7401a8" d="M-422 63h0m-43 4h0m7 30h0m598 402h0m-113 44h0m-616-550h0m29 164h0m672 461h0"/>
<path class="w" stroke="#8707a6" d="M-432 -40h0m5 71h0m362 412h0m93 16h0m-501-459h0m434 493h0m102 51h0m-671-732h0"/>
<path class="w" stroke="#99159f" d="M-5 456h0m147 83h0"/>
<path class="w" stroke="#aa2395" d="M-514 -77h0m-33-46h0m652 704h0m87-11h0"/>
<path class="w" stroke="#b7318a" d="M-36 450h0m29 49h0m106 4h0"/>
<path class="w" stroke="#c5407e" d="M63 461h0m-1 43h0m138 102h0"/>
<path class="w" stroke="#d14e72" d="M-431 -4h0m457 506h0"/>
<path class="w" stroke="#f58c46" d="M101 459h0"/>
</g></g>
<use href="#grat"/><use href="#oval"/><g><circle r="0.9" fill="#333"/><text class="l" x="-2.2" y="-59.4" text-anchor="middle">-60</text><text class="l" x="-2.2" y="-38" text-anchor="middle">-70</text><text class="l" x="-2.2" y="-16.9" text-anchor="middle">-80</text><text class="l" x="-69.3" y="-35.6" text-anchor="end">240</text><text class="l" x="-67.4" y="45" text-anchor="end">300</text><text class="l" x="66" y="-35.4">120</text><text class="l" x="67.6" y="45.2">60</text></g>
<text class="t" x="-0.7" y="-98.1">jup.7042.02</text><text class="t" x="-0.7" y="-81.5">2017-03-17 12:49 UT</text>
</g>
<g transform="translate(299.75 320.10)">
<clipPath id="k4"><circle cx="-0.17" cy="-4.45" r="70.90"/></clipPath>
<g clip-path="url(#k4)"><g class="d" transform="scale(.1)">
<path stroke="#1d068e" d="M-223 220h0m26 20h0m-161-100h0m55 77h0m27 27h0m133 85h0m537-185h0m-751 83h0m28 32h0m753-72h0m-808 76h0m-203-32h0"/>
<path stroke="#370499" d="M419 94h0m-832 45h0m-85 20h0m58 99h0m-147-116h0m-31 104h0"/>
<path stroke="#4c02a1" d="M-304 126h0m212 164h0m-157-23h0m390 76h0m-526-154h0m-171 24h0m1186 12h0m26-59h0m25-82h0"/>
<path stroke="#6001a6" d="M-172 182h0m1 74h0m130 46h0m26 4h0m-24 50h0m-401-174h0m975-20h0m-1062 27h0m29 54h0m-29 22h0m-123-9h0"/>
<path stroke="#7401a8" d="M-122 126h0m-77 34h0m-51 35h0m184 102h0m-264-114h0m108 104h0m235 73h0m-425-133h0m953 9h0m83-86h0"/>
<path stroke="#8707a6" d="M-118 281h0m-78 22h0m79 35h0m104 21h0m128-10h0m51-15h0m288-112h0m106-124h0"/>
<path stroke="#99159f" d="M31 171h0m-256-39h0m79 68h0m180 46h0m-178 24h0m-26 47h0m260 37h0m-707-192h0"/>
<path stroke="#aa2395" d="M-19 168h0m126-14h0m-98 92h0m51-3h0m-151 103h0m129 14h0m26-2h0m410-272h0m-943 129h0"/>
<path stroke="#b7318a" d="M-96 142h0m102 29h0m104 62h0m76-34h0m-463-34h0m288 142h0m499-96h0m-1159-35h0"/>
<path stroke="#c5407e" d="M-94 225h0m379-123h0m84 80h0m197 6h0m26-61h0m6 82h0"/>
<path stroke="#d14e72" d="M-42 240h0m78 67h0m128-29h0m50-25h0m25-17h0m26-19h0m-330 135h0m257-28h0m25-12h0m182-89h0"/>
<path stroke="#dc5d67" d="M-71 154h0m232 59h0m-99 92h0m277-174h0m-96 167h0m25-17h0m51-41h0"/>
<path stroke="#e66c5c" d="M-45 163h0m177-20h0m-47 96h0m2 62h0m26-6h0"/>
<path stroke="#ee7b51" d="M344 214h0"/>
<path stroke="#f58c46" d="M182 108h0m7 159h0m260-123h0m30 37h0m25-52h0"/>
<path stroke="#fa9e3b" d="M-17 244h0m155 44h0m156-26h0"/>
<path stroke="#fdb130" d="M-120 214h0m331-32h0m104-16h0"/>
<path stroke="#fdc527" d="M82 163h0"/>
<path stroke="#f3ee27" d="M57 168h0m100-40h0m-225 106h0m203-10h0m101-63h0m24-26h0m30 59h0"/>
<path stroke="#1d068e" d="M-238 166h0m27 26h0m79 52h0m-158-51h0m27 28h0m-53 18h0m27 26h0m27 23h0m902-130h0m6 74h0m51-141h0m-1331 160h0"/>
<path stroke="#370499" d="M25 334h0m-396-168h0m136 141h0m-135-61h0m839-9h0m-1011-35h0m1214-29h0m-1337 8h0"/>
<path stroke="#4c02a1" d="M-236 245h0m53 36h0m104 42h0m-77 27h0m337 5h0m25-10h0m-633-183h0m-85 13h0m-60-46h0"/>
<path stroke="#6001a6" d="M-8 121h0m-126 45h0m26 15h0m-157-48h0m-52 24h0m212 158h0m52 13h0m-290-122h0m-259 33h0"/>
<path stroke="#7401a8" d="M-160 147h0m78 45h0m26 9h0m82 184h0m383-218h0m-835 76h0m921-46h0m-950 75h0m-57-18h0m-60-31h0m30 52h0"/>
<path stroke="#8707a6" d="M-131 306h0m104 26h0m103-2h0m303-212h0m-588 206h0m593-120h0m-782 5h0m-86-68h0m30 58h0m-148-47h0"/>
<path stroke="#99159f" d="M-59 107h0m28 100h0m-179 57h0m28 74h0m182 46h0m129-13h0m305-250h0m86 26h0m-1003 82h0m1008-5h0"/>
<path stroke="#aa2395" d="M-80 264h0m404-165h0m-481 196h0m27 65h0m285 4h0m178-104h0m218-84h0"/>
<path stroke="#b7318a" d="M-187 122h0m207 89h0m-204 2h0m26 17h0m206 47h0m-152 91h0m52 11h0m26 4h0m78 1h0m26-3h0m26-4h0m179-76h0m293-187h0m32 25h0"/>
<path stroke="#c5407e" d="M42 122h0m-148 133h0m103 22h0m203-50h0m-201 107h0m51-1h0m77-13h0m51-18h0m51-26h0m125-118h0m-122 174h0m76-50h0m106-42h0m75-131h0m125 109h0m-1247-49h0"/>
<path stroke="#d14e72" d="M93 109h0m24-13h0m-43 178h0m76-21h0m-49 73h0"/>
<path stroke="#dc5d67" d="M96 200h0m75-34h0m75-69h0m-275 178h0m232 15h0"/>
<path stroke="#e66c5c" d="M221 126h0m-275 144h0m77 8h0m76-9h0m-177 105h0"/>
<path stroke="#ee7b51" d="M152 312h0m127-71h0m50-50h0m-72 127h0m102-84h0m105-70h0m118 35h0"/>
<path stroke="#f58c46" d="M-34 116h0m309 50h0m25-29h0m-46 123h0"/>
<path stroke="#fa9e3b" d="M17 123h0m50-6h0m-72 93h0m151-30h0"/>
<path stroke="#fdb130" d="M46 210h0m75-18h0m3 70h0"/>
<path stroke="#fad824" d="M196 148h0m29 63h0m214-5h0"/>
<path stroke="#f3ee27" d="M71 206h0m104 35h0m75-50h0m54 27h0"/>
<path stroke="#1d068e" d="M-239 114h0m-25 67h0m54 49h0m-134-67h0m28 38h0m27 30h0m417 115h0m278-225h0m117 67h0m56-28h0m57-48h0m-1238 87h0m1270-70h0m-1271 145h0"/>
<path stroke="#370499" d="M-109 134h0m-153 122h0m26 21h0m80 46h0m-187-79h0m-112-90h0m-117 105h0"/>
<path stroke="#4c02a1" d="M-185 172h0m54 104h0m-78 19h0m183 63h0m-372-112h0m-144-90h0m30 62h0m-30 22h0"/>
<path stroke="#6001a6" d="M-212 147h0m105 73h0m-130-12h0m235 99h0m2 53h0m492-203h0m93 77h0m-1218-20h0"/>
<path stroke="#7401a8" d="M-135 116h0m333 75h0m-382 57h0m79 38h0m-25 48h0m78 20h0m77 6h0m-424-194h0m916-69h0"/>
<path stroke="#8707a6" d="M-183 310h0m260 46h0m-560-167h0m29 49h0m1097-40h0"/>
<path stroke="#99159f" d="M-83 148h0m256 58h0m-277 136h0m258-3h0m282-172h0m112-34h0m6 80h0m50-125h0m7 93h0"/>
<path stroke="#aa2395" d="M-291 147h0m212 147h0m128 12h0m181-1h0m126-106h0m25-35h0m-752 45h0m757 29h0m81-35h0m-1038-23h0"/>
<path stroke="#b7318a" d="M19 171h0m101-22h0m49-30h0m-328 73h0m180 54h0m26-1h0m-204 19h0m103 36h0m26 4h0m-50 45h0"/>
<path stroke="#c5407e" d="M44 170h0m-99 67h0m181 55h0m101-47h0m-125 107h0m103-34h0m76-46h0m-707-66h0m867 34h0"/>
<path stroke="#d14e72" d="M-7 170h0m-126 38h0m129 37h0m102-9h0m-74 71h0m51-4h0m76-20h0m51-23h0m-23 70h0m152-103h0m166 5h0m-980 33h0"/>
<path stroke="#dc5d67" d="M-32 166h0m126-7h0m6 139h0m-49 61h0m205-69h0m155-84h0"/>
<path stroke="#e66c5c" d="M-58 159h0m181 70h0m229-119h0"/>
<path stroke="#ee7b51" d="M-81 230h0m153 12h0m104 31h0"/>
<path stroke="#f58c46" d="M252 227h0m25-21h0"/>
<path stroke="#fa9e3b" d="M248 148h0m58 103h0"/>
<path stroke="#fdb130" d="M-30 242h0m303-123h0m188-2h0"/>
<path stroke="#fad824" d="M69 166h0"/>
<path stroke="#f3ee27" d="M144 136h0m50-40h0m-46 123h0m75-47h0m79 8h0m25-31h0"/>
<path stroke="#1d068e" d="M-47 112h0m-284 23h0m55 73h0m27 25h0m-136-92h0m28 47h0m27 35h0m28 30h0m26 24h0m27 21h0m391 70h0m-583-236h0m-28 41h0m-88-4h0m-30 22h0m1239-69h0m-1239 145h0"/>
<path stroke="#370499" d="M-118 311h0m26 8h0m483-227h0m-1010 188h0"/>
<path stroke="#4c02a1" d="M-121 174h0m-103 6h0m-79-4h0m80 79h0m27 18h0m130 53h0m129 6h0m156 7h0m202-193h0m-833 41h0m950 14h0m-1065 29h0m1147-129h0m7 89h0m58-54h0"/>
<path stroke="#6001a6" d="M-198 203h0m53 34h0m131 96h0m26 1h0m-181 10h0m-188-82h0m-83-39h0m947-50h0m-1064 77h0"/>
<path stroke="#7401a8" d="M-278 113h0m469 184h0m-308 67h0m130 21h0m103-11h0m-528-112h0m-206-55h0"/>
<path stroke="#8707a6" d="M105 103h0m-149 101h0m-207-53h0m211 179h0m-182-14h0m26 15h0m235 53h0m307-137h0m-730-19h0m-113-24h0m-1 73h0"/>
<path stroke="#99159f" d="M-21 119h0m3 90h0m132 114h0m79 27h0m128-79h0m75-85h0m-923-46h0"/>
<path stroke="#aa2395" d="M-147 157h0m514-18h0m-510 216h0m234 24h0m77-19h0m76-35h0m-893-106h0"/>
<path stroke="#b7318a" d="M-69 197h0m302-85h0m-300 155h0m379-148h0m-456 181h0m181 34h0m52-6h0m51-12h0m-231 55h0m537-279h0m36 126h0m113-47h0"/>
<path stroke="#c5407e" d="M4 123h0m105 73h0m-280 26h0m52 28h0m26 9h0m255-12h0m-332 41h0m465 4h0m76-73h0m161-103h0m-1001 136h0m1038-28h0m90-20h0"/>
<path stroke="#d14e72" d="M55 120h0m-228 16h0m206 75h0m-49 65h0m51 1h0m178-58h0m28 49h0m101-92h0m-277 206h0"/>
<path stroke="#dc5d67" d="M30 123h0m-125 64h0m105 91h0m127-21h0m28 50h0m51-23h0m76-54h0m-357 147h0m26 4h0m26 3h0m283-74h0m182-124h0"/>
<path stroke="#e66c5c" d="M86 271h0m340-47h0m137-77h0"/>
<path stroke="#ee7b51" d="M209 138h0m-148 137h0"/>
<path stroke="#f58c46" d="M80 113h0m-121 160h0"/>
<path stroke="#fa9e3b" d="M263 179h0m24-27h0m-21 99h0"/>
<path stroke="#fdb130" d="M184 158h0"/>
<path stroke="#fdc527" d="M84 203h0m233 2h0m160-67h0"/>
<path stroke="#fad824" d="M8 211h0m104 54h0"/>
<path stroke="#f3ee27" d="M58 208h0m76-22h0m25-12h0m28 61h0m51-34h0"/>
<path class="w" stroke="#1d068e" d="M-302 285h0m186 104h0m233 9h0m-474-104h0m346 157h0m234-40h0m180-125h0m-679 124h0m27 16h0m27 13h0m629-99h0m-710 99h0m108 54h0m186 38h0m159-13h0m157-58h0m-666-14h0m28 19h0m27 17h0m109 50h0m27 9h0m80 19h0m54 6h0m26 2h0m54 0h0m264-68h0m131-88h0m-998-128h0m225 222h0m82 42h0m54 21h0m27 9h0m55 13h0m26 5h0m27 3h0m27 3h0m81 2h0m53-5h0m27-3h0m27-5h0m79-21h0m107-46h0m79-49h0m106-95h0m-998 61h0m140 104h0m27 15h0m83 35h0m54 18h0m27 7h0m28 5h0m27 5h0m54 6h0m81 2h0m27-2h0m27-2h0m27-4h0m26-5h0m27-5h0m81-24h0m26-10h0m187-112h0m27-24h0m80-86h0m-1173-8h0m87 101h0m140 109h0m28 16h0m28 14h0m28 13h0m82 30h0m28 8h0m27 6h0m28 6h0m27 4h0m54 6h0"/>
<path class="w" stroke="#370499" d="M-222 394h0m419 27h0m-554-71h0m162 101h0m421 3h0m104-53h0m-743-50h0m137 104h0m54 27h0m54 20h0m53 15h0m212 10h0m26-4h0m53-12h0m235-122h0m78-80h0m-987-2h0m221 190h0m55 25h0m107 33h0m54 9h0m80 5h0m159-20h0m27-7h0m158-72h0m157-139h0m-1020 32h0m29 31h0m28 28h0m56 47h0m110 67h0m54 23h0m243 45h0m240-44h0m53-22h0m159-106h0m-1002-52h0m113 109h0m56 39h0m83 45h0m27 12h0m191 49h0m54 4h0m242-33h0m134-58h0m80-52h0m80-70h0m-1062 3h0m57 56h0m57 45h0m28 19h0m138 72h0"/>
<path class="w" stroke="#4c02a1" d="M-275 307h0m26 20h0m-26 35h0m106 55h0m340 13h0m-583-136h0m28 30h0m81 69h0m161 77h0m27 7h0m26 6h0m289-19h0m78-33h0m26-14h0m129-103h0m-818 63h0m136 92h0m107 41h0m344-6h0m53-19h0m130-76h0m52-44h0m-851 36h0m273 147h0m240 16h0m132-31h0m105-47h0m79-53h0m131-137h0m-906 192h0m55 34h0m164 63h0m134 19h0m80-2h0m134-24h0m159-69h0m80-54h0m52-48h0m-1086-108h0m29 44h0m58 69h0m56 54h0m56 44h0m193 95h0m217 33h0m188-25h0m107-39h0m27-13h0m53-30h0m27-17h0m-1043-203h0m173 197h0m223 122h0m164 37h0"/>
<path class="w" stroke="#6001a6" d="M-222 343h0m79 37h0m157 28h0m334-130h0m-677 42h0m134 86h0m53 21h0m26 7h0m131 18h0m26 0h0m208-53h0m-579-26h0m294 117h0m105 1h0m79-13h0m26-6h0m182-89h0m103-98h0m25-34h0m-925 69h0m83 80h0m28 21h0m242 101h0m26 4h0m27 3h0m53 3h0m263-59h0m78-45h0m104-89h0m-905 35h0m56 51h0m137 85h0m321 57h0m53-7h0m27-5h0m105-32h0m315-267h0m-1100 71h0m113 120h0m595 138h0m107-35h0m106-57h0m163-97h0m-1117-2h0"/>
<path class="w" stroke="#7401a8" d="M-195 358h0m183 49h0m104-4h0m51-11h0m26-8h0m26-9h0m25-11h0m52-27h0m-520 42h0m159 62h0m183 6h0m51-10h0m130-51h0m25-15h0m-468 90h0m158 31h0m105-4h0m286-125h0m-337 168h0m27-1h0m157-35h0m105-50h0m-803-102h0m754 169h0m105-59h0m79-65h0m83-39h0"/>
<path class="w" stroke="#8707a6" d="M-38 405h0m78 3h0m-342-66h0m265 107h0m466-193h0m-491 231h0m105 6h0m78-9h0m456-170h0m27-41h0"/>
<path class="w" stroke="#99159f" d="M-169 370h0m79 25h0m27 51h0m131 4h0m258-97h0m52-42h0m-847-26h0m984-9h0m-21 85h0"/>
<path class="w" stroke="#aa2395" d="M297 320h0m55 14h0m-335 159h0"/>
<path class="w" stroke="#b7318a" d="M66 406h0m180-55h0m-126 91h0m132 1h0"/>
<path class="w" stroke="#c5407e" d="M323 300h0"/>
<path class="w" stroke="#d14e72" d="M-64 401h0"/>
<path class="w" stroke="#ee7b51" d="M373 253h0"/>
<path class="w" stroke="#1d068e" d="M-343 277h0m293 149h0m156-3h0m-476-113h0m530 145h0m26-8h0m26-9h0m129-70h0m-630 57h0m27 16h0m27 14h0m53 22h0m80 23h0m394-54h0m-609 6h0m27 17h0m27 14h0m54 24h0m27 10h0m161 32h0m26 1h0m80-3h0m26-3h0m237-86h0m78-58h0m-799 58h0m55 36h0m55 29h0m27 12h0m27 11h0m27 9h0m54 15h0m81 13h0m26 2h0m54 2h0m53-4h0m53-7h0m106-29h0m80-35h0m79-48h0m105-93h0m-1024 1h0m29 32h0m28 28h0m111 85h0m28 16h0m28 15h0m190 63h0m27 4h0m27 3h0m27 2h0m134-5h0m27-4h0m80-19h0m27-9h0m27-10h0m186-109h0m-949-15h0m28 26h0m28 24h0m56 39h0m28 18h0m28 15h0m27 14h0m28 12h0m110 36h0m27 7h0m27 5h0m82 9h0m27 1h0m27 0h0m27-1h0m27-2h0m27-4h0m27-4h0m134-36h0"/>
<path class="w" stroke="#370499" d="M-235 410h0m27 13h0m106 36h0m520-158h0m-844 7h0m27 30h0m191 129h0m159 42h0m185-8h0m286-148h0m52-55h0m-874 91h0m164 107h0m81 30h0m27 7h0m53 10h0m212-4h0m27-5h0m53-15h0m105-46h0m-613 36h0m136 54h0m54 12h0m27 5h0m80 6h0m213-30h0m132-58h0m27-16h0m157-142h0m-1079-5h0m114 122h0m28 22h0m138 82h0m27 11h0m28 11h0m54 16h0m162 22h0m27 0h0m134-16h0m160-55h0m106-65h0m53-43h0m53-54h0m-1114-38h0m337 258h0m163 41h0m28 3h0m216-13h0m27-6h0m27-7h0m27-8h0m53-21h0"/>
<path class="w" stroke="#4c02a1" d="M-129 408h0m105 21h0m26 1h0m129-12h0m-474-82h0m346 137h0m104-7h0m130-38h0m26-13h0m-391 79h0m53 11h0m79 8h0m79-4h0m26-3h0m53-11h0m78-25h0m130-74h0m78-69h0m-932-30h0m140 137h0m243 105h0m53 8h0m80 3h0m158-23h0m105-40h0m79-46h0m-887-124h0m28 36h0m28 32h0m56 51h0m56 41h0m404 108h0m107-15h0m26-6h0m238-120h0m53-46h0m-857 101h0m192 92h0m54 14h0m189 15h0m134-21h0m106-37h0m54-26h0m26-15h0m27-17h0m106-88h0m-1031 4h0m113 100h0m194 98h0m27 8h0m514-41h0"/>
<path class="w" stroke="#6001a6" d="M-316 303h0m54 42h0m106 54h0m-242-120h0m136 116h0m80 40h0m237 37h0m26-3h0m53-8h0m181-75h0m77-60h0m-763 38h0m27 23h0m28 20h0m161 79h0m133 25h0m210-23h0m312-224h0m-927 99h0m55 50h0m615 96h0m157-87h0m79-72h0m26-30h0m25-34h0m-959 126h0m542 168h0m159-43h0m26-12h0m159-103h0m-1030-130h0m661 326h0m532-337h0m-1224 24h0m59 82h0"/>
<path class="w" stroke="#7401a8" d="M80 427h0m77-16h0m52-18h0m26-11h0m25-13h0m77-51h0m-626 60h0m160 74h0m106 19h0m312-69h0m-259 111h0m27-1h0m209-54h0m52-27h0m78-55h0m-338 173h0m211-50h0m183-122h0m110-72h0m31 16h0m-235 251h0"/>
<path class="w" stroke="#8707a6" d="M-289 325h0m186 90h0m-213-57h0m161 86h0m105 25h0m79 4h0m338-124h0m-23 66h0m244-150h0"/>
<path class="w" stroke="#99159f" d="M-235 362h0m289 67h0m129-26h0m205-133h0m56 1h0m-230 209h0"/>
<path class="w" stroke="#aa2395" d="M-209 376h0m27 13h0m105 32h0m105 9h0m258-76h0m-362 111h0m-379-133h0m1022 25h0"/>
<path class="w" stroke="#b7318a" d="M312 337h0m244-90h0"/>
<path class="w" stroke="#ee7b51" d="M363 295h0"/>
<path class="w" stroke="#1d068e" d="M-316 272h0m498 108h0m-552-101h0m27 28h0m527 118h0m-473-23h0m54 31h0m27 12h0m421 14h0m-640-123h0m110 94h0m27 17h0m108 50h0m187 35h0m315-80h0m130-99h0m-795 103h0m28 17h0m54 30h0m54 24h0m27 9h0m161 31h0m106-2h0m-599-220h0m57 64h0m111 88h0m28 17h0m82 40h0m54 19h0m27 8h0m27 7h0m27 5h0m27 5h0m27 3h0m54 3h0m26 0h0m81-6h0m26-5h0m107-28h0m265-171h0m-1056-32h0m113 116h0m28 22h0m28 19h0m28 18h0m27 15h0m83 38h0m82 26h0m27 7h0m27 5h0m27 4h0m54 5h0m81 0h0m54-5h0m348-148h0m53-46h0m80-91h0m-1142 65h0m28 31h0m29 28h0m140 103h0m28 15h0m28 13h0m28 12h0m82 29h0m28 7h0m27 6h0m109 14h0"/>
<path class="w" stroke="#370499" d="M-129 384h0m234 16h0m311-128h0m-787 66h0m109 80h0m423 57h0m78-26h0m104-57h0m-742-28h0m164 112h0m107 38h0m26 6h0m54 8h0m316-49h0m-558 10h0m135 56h0m27 7h0m27 5h0m27 5h0m26 3h0m213-13h0m26-6h0m27-8h0m289-192h0m-1050-40h0m57 73h0m85 79h0m27 21h0m110 63h0m55 22h0m189 39h0m80 0h0m27-2h0m133-27h0m80-30h0m26-13h0m80-47h0m79-64h0m-972 7h0m195 139h0m28 13h0m54 21h0m163 35h0m81 3h0m108-10h0m27-5h0m27-7h0m53-16h0m27-9h0m160-86h0m54-43h0m-951 34h0m28 23h0m29 20h0m28 18h0m166 78h0m109 26h0m28 4h0m27 3h0"/>
<path class="w" stroke="#4c02a1" d="M-289 297h0m27 20h0m0 54h0m133 60h0m79 16h0m105 4h0m155-35h0m26-11h0m-579-43h0m478 119h0m156-57h0m26-15h0m77-57h0m-765 37h0m162 98h0m54 19h0m80 18h0m53 6h0m53 2h0m79-7h0m314-148h0m52-52h0m52-68h0m-928 156h0m28 23h0m378 133h0m26 0h0m239-51h0m26-12h0m26-13h0m27-15h0m78-55h0m-719 106h0m458 59h0m27-6h0m79-27h0m80-38h0m79-52h0m27-21h0m79-79h0m-1112-43h0m58 75h0m334 212h0m189 29h0m81-3h0m215-55h0m27-12h0m26-14h0m54-31h0m133-112h0m-1118-35h0m337 249h0"/>
<path class="w" stroke="#6001a6" d="M-235 335h0m79 40h0m286 20h0m-446-64h0m81 55h0m27 14h0m26 12h0m27 10h0m131 28h0m131-5h0m258-122h0m25-24h0m-816-22h0m28 33h0m269 163h0m27 7h0m53 9h0m105 3h0m131-24h0m233-140h0m-363 203h0m27-3h0m105-20h0m313-215h0m-1015-6h0m57 72h0m28 29h0m192 128h0m295 52h0m79-10h0m106-30h0m132-67h0m79-61h0m78-86h0m-154 187h0m-838-47h0m681 155h0m161-70h0m-1018-254h0"/>
<path class="w" stroke="#7401a8" d="M-182 364h0m209 44h0m129-20h0m103-44h0m-257 108h0m26 0h0m53-4h0m77-15h0m104-40h0m26-15h0m25-16h0m-629 21h0m134 73h0m27 10h0m79 19h0m53 7h0m27 1h0m78-3h0m26-4h0m-563-183h0m111 108h0m82 51h0m398 59h0m27-6h0m78-25h0m53-24h0m52-29h0m52-38h0m-286 163h0m369-187h0m-910 60h0m998-54h0"/>
<path class="w" stroke="#8707a6" d="M-209 351h0m442 7h0m-522-6h0m186 86h0m575-169h0m-257 230h0m157-80h0m-856-93h0m886 117h0m-1007-109h0"/>
<path class="w" stroke="#99159f" d="M-77 398h0m52 8h0m104-2h0m231-94h0m-177 130h0m206-96h0m-309 149h0m235-56h0m294-160h0m31 17h0"/>
<path class="w" stroke="#aa2395" d="M-103 392h0m156 15h0m282-117h0m282-39h0"/>
<path class="w" stroke="#b7318a" d="M1 408h0m445-108h0m118 32h0"/>
<path class="w" stroke="#c5407e" d="M-51 403h0m259-33h0m76-42h0m-360 115h0m445-70h0"/>
<path class="w" stroke="#fad824" d="M361 266h0"/>
<path class="w" stroke="#1d068e" d="M-357 323h0m399 149h0m182-39h0m-500 0h0m27 15h0m134 49h0m-216-54h0m55 33h0m81 36h0m27 10h0m26 7h0m54 12h0m80 9h0m-407-126h0m111 78h0m81 39h0m28 10h0m27 8h0m53 14h0m54 9h0m27 2h0m27 2h0m53 0h0m292-81h0m-867-151h0m28 34h0m29 30h0m112 90h0m27 18h0m83 41h0m27 11h0m54 17h0m55 13h0m27 5h0m27 4h0m27 2h0m27 2h0m80-2h0m27-2h0m27-4h0m107-26h0m26-9h0m54-22h0m-846-152h0m57 59h0m56 46h0m84 54h0m28 15h0m27 13h0m28 12h0m82 27h0m27 7h0m28 5h0m27 5h0m27 3h0m27 3h0m27 1h0m27 1h0m27-1h0m27-1h0m27-3h0m27-3h0m27-5h0m108-29h0m27-10h0"/>
<path class="w" stroke="#370499" d="M-142 404h0m261 17h0m-448-74h0m54 40h0m53 30h0m27 12h0m523-51h0m103-92h0m-816 65h0m82 65h0m161 74h0m53 13h0m53 7h0m185-12h0m52-14h0m26-9h0m52-23h0m-582 9h0m188 75h0m54 9h0m159 1h0m79-16h0m-676-194h0m57 63h0m83 68h0m27 19h0m82 43h0m109 38h0m53 11h0m107 9h0m54-2h0m26-3h0m27-4h0m53-11h0m53-15h0m80-33h0m210-163h0m-1080-42h0m142 154h0m28 21h0m83 52h0m27 14h0m82 32h0m216 34h0m27 0h0m107-13h0m214-80h0m80-53h0m53-46h0m-1061-60h0m114 118h0m222 126h0m407 23h0m27-6h0m27-8h0m81-30h0m53-27h0"/>
<path class="w" stroke="#4c02a1" d="M-90 419h0m79 11h0m258-54h0m-631-81h0m216 145h0m315 18h0m52-15h0m77-34h0m129-95h0m-845-23h0m110 106h0m108 64h0m27 11h0m27 10h0m238 29h0m235-72h0m104-74h0m26-25h0m26-27h0m-902 35h0m28 28h0m55 48h0m109 66h0m214 58h0m80 2h0m26-2h0m53-6h0m27-5h0m79-23h0m131-65h0m52-38h0m52-47h0m27-28h0m26-32h0m-1046-7h0m57 72h0m84 78h0m110 69h0m430 57h0m53-13h0m53-18h0m26-11h0m106-58h0m53-40h0m52-48h0m79-99h0m26-43h0m-1045 202h0m302 157h0m350-6h0m80-28h0m133-73h0m106-92h0m27-30h0m-1143-45h0m87 107h0m112 94h0m28 18h0m707 32h0"/>
<path class="w" stroke="#6001a6" d="M-329 290h0m54 45h0m290 95h0m129-15h0m-393-12h0m160 59h0m105 11h0m157-22h0m77-29h0m-662-99h0m429 190h0m79-5h0m157-44h0m104-58h0m-743-5h0m164 101h0m240 49h0m185-28h0m132-58h0m82-11h0m-236 148h0m160-59h0m53-31h0m80-59h0m106-113h0m-776 282h0"/>
<path class="w" stroke="#7401a8" d="M-248 353h0m79 41h0m132 33h0m130-2h0m77-18h0m26-9h0m77-36h0m51-34h0m-439 128h0m494-118h0m-736 38h0m295 131h0m53 5h0m53 0h0m78-8h0m261-117h0m104-106h0m-231 223h0m26-11h0m157-104h0m-75 101h0m106-80h0"/>
<path class="w" stroke="#8707a6" d="M-116 412h0m517-156h0m-703 112h0m160 81h0m79 18h0m53 5h0m78-1h0m26-3h0m260-109h0m-179 133h0m133-12h0m79-49h0m162-108h0m84-65h0"/>
<path class="w" stroke="#99159f" d="M-302 315h0m107 68h0m131 41h0m286-36h0m-258 82h0m157-7h0m181-69h0m304-92h0"/>
<path class="w" stroke="#aa2395" d="M41 430h0m26-2h0m283-121h0m25-24h0m-44 140h0m182-178h0m-982 70h0m1012-48h0"/>
<path class="w" stroke="#b7318a" d="M-222 369h0"/>
<path class="w" stroke="#d14e72" d="M456 255h0"/>
<path class="w" stroke="#dc5d67" d="M299 346h0"/>
</g></g>
<use href="#grat"/><use href="#oval"/><g><circle r="0.9" fill="#333"/><text class="l" x="-2.2" y="-59.4" text-anchor="middle">-60</text><text class="l" x="-2.2" y="-38" text-anchor="middle">-70</text><text class="l" x="-2.2" y="-16.9" text-anchor="middle">-80</text><text class="l" x="-69.3" y="-35.6" text-anchor="end">240</text><text class="l" x="-67.4" y="45" text-anchor="end">300</text><text class="l" x="66" y="-35.4">120</text><text class="l" x="67.6" y="45.2">60</text></g>
<text class="t" x="-0.7" y="-98.1">jup.8008.01</text><text class="t" x="-0.7" y="-81.5">2017-03-18 10:05 UT</text>
</g>
<g transform="translate(508.15 320.10)">
<clipPath id="k5"><circle cx="-0.71" cy="-5.96" r="72.50"/></clipPath>
<g clip-path="url(#k5)"><g class="d" transform="scale(.1)">
<path stroke="#1d068e" d="M-207 219h0m-44 96h0m547-13h0m-690-60h0m-92-67h0m35 59h0m32 43h0m-93-67h0m34 55h0m1108-187h0m-1235 108h0"/>
<path stroke="#370499" d="M-115 109h0m-64 130h0m-21 50h0m28 15h0m-51 29h0m190 61h0m-535-134h0m-67-56h0m-31 12h0"/>
<path stroke="#4c02a1" d="M-228 271h0m-52 23h0m527 40h0m297-235h0m53-43h0m-1136 182h0m34 53h0m1115-147h0"/>
<path stroke="#6001a6" d="M-217 123h0m30 30h0m63 113h0m11 113h0m27 7h0m430-125h0m69-87h0m-776 104h0m-83 29h0"/>
<path stroke="#7401a8" d="M-77 215h0m59 76h0m-291-22h0m169 102h0m313-3h0m470-209h0m-1240 118h0m-31 14h0"/>
<path stroke="#8707a6" d="M-236 195h0m295 95h0m-375-101h0m330 158h0m-384-148h0m175 149h0m467-29h0m184-234h0m-882 110h0m936-130h0m13 88h0m174-49h0"/>
<path stroke="#99159f" d="M-87 125h0m-178 40h0m114 89h0m-197-111h0m203 174h0m81 23h0m26 4h0m78 2h0m-379-108h0m916-114h0m87-30h0"/>
<path stroke="#aa2395" d="M-8 148h0m-62 135h0m372-131h0m-559 97h0m166 85h0m32 57h0m257-33h0m478-188h0"/>
<path stroke="#b7318a" d="M-159 175h0m28 18h0m398-103h0m-259 203h0m26-1h0m101-20h0m211-192h0m-632 143h0m168 103h0m430-103h0m-266 172h0m177-48h0m267-223h0"/>
<path stroke="#c5407e" d="M-44 288h0m235 20h0m210-218h0m-408 306h0m397-189h0m45-72h0m-969 178h0"/>
<path stroke="#d14e72" d="M-12 347h0m78-3h0m50-9h0m25-8h0m75-32h0m-383 65h0m264 29h0m25-6h0m346-214h0"/>
<path stroke="#dc5d67" d="M27 229h0m218-108h0m-160 165h0m6 54h0m-20 53h0m77-16h0m172-94h0m126-76h0m55-10h0"/>
<path stroke="#e66c5c" d="M92 135h0m48-26h0m-88 118h0m50-11h0m-199 60h0m207 4h0m49-18h0m25-11h0m-164 145h0"/>
<path stroke="#ee7b51" d="M-25 227h0m26 2h0m263 35h0m24-19h0m70-76h0m198 8h0"/>
<path stroke="#f58c46" d="M17 149h0m110 58h0m39 111h0m169-120h0m45-64h0"/>
<path stroke="#fa9e3b" d="M-34 144h0m77 3h0m121-57h0m-268 116h0m53 16h0m418 14h0"/>
<path stroke="#fdb130" d="M-60 137h0"/>
<path stroke="#fdc527" d="M77 222h0m145-77h0m10 75h0"/>
<path stroke="#fad824" d="M68 142h0m83 54h0"/>
<path stroke="#f3ee27" d="M116 124h0m59 58h0m24-17h0m9 72h0m48-36h0m23-23h0m45-58h0m-84 161h0"/>
<path stroke="#1d068e" d="M-123 155h0m-74 34h0m28 20h0m-70 85h0m678-233h0m-760 228h0m-85-29h0m999-125h0m21-67h0m-1204 107h0m37 74h0m1200-162h0"/>
<path stroke="#370499" d="M-217 247h0m56 33h0m-337-87h0m34 57h0m-61-25h0m1205-125h0"/>
<path stroke="#4c02a1" d="M-2 95h0m-357 78h0m148 139h0m-171-91h0m6 75h0m-56-3h0m-187-97h0m-31 15h0"/>
<path stroke="#6001a6" d="M-256 128h0m10 96h0m112 68h0m-163-45h0m29 26h0m220 95h0m328-84h0m-694-112h0m-25 43h0m-80 87h0m-163-81h0"/>
<path stroke="#7401a8" d="M-150 136h0m-76 27h0m85 62h0m-48 40h0m-138-50h0m833-76h0m54-26h0m-1173 172h0m-31 11h0"/>
<path stroke="#8707a6" d="M-275 196h0m195 114h0m26 5h0m-129 12h0m54 22h0m286 0h0m25-10h0m50-24h0m-723-37h0m1118-126h0"/>
<path stroke="#99159f" d="M-87 247h0m27 7h0m38 117h0m26 1h0m324-129h0m101-52h0m44-85h0m-1021 216h0m1208-157h0"/>
<path stroke="#aa2395" d="M49 92h0m-77 227h0m129-8h0m283-249h0m-540 277h0m54 18h0m595-313h0m46 122h0"/>
<path stroke="#b7318a" d="M-114 238h0m-192-79h0m432 146h0m49-19h0m-250 78h0m282-36h0m-558-69h0m878-175h0m53-42h0m-1162 227h0"/>
<path stroke="#c5407e" d="M-34 259h0m109 57h0m-45 56h0m26-2h0m200-69h0"/>
<path stroke="#d14e72" d="M205 110h0m-207 211h0m26 0h0m176-47h0m163-165h0m-256 253h0m267-173h0"/>
<path stroke="#dc5d67" d="M24 96h0m-6 166h0m114 94h0m286-242h0m154 73h0"/>
<path stroke="#e66c5c" d="M81 367h0"/>
<path stroke="#ee7b51" d="M295 202h0m9 63h0m92-110h0"/>
<path stroke="#f58c46" d="M-42 186h0m110 72h0m239-169h0m-257 230h0m402-166h0m32 31h0"/>
<path stroke="#fa9e3b" d="M60 188h0m25-6h0m9 71h0m73-28h0m95-73h0m-369 150h0m448-156h0m10 72h0"/>
<path stroke="#fdb130" d="M182 131h0m45-48h0m-235 179h0m151-26h0m8 60h0m73-36h0"/>
<path stroke="#fdc527" d="M318 176h0"/>
<path stroke="#fad824" d="M-95 169h0m205 5h0m48-25h0m-115 112h0"/>
<path stroke="#f3ee27" d="M-69 179h0m53 12h0m26 1h0m25-1h0m99-28h0m-16 82h0m74-34h0m23-17h0m24-19h0m46-51h0m-37 119h0m24-19h0"/>
<path stroke="#1d068e" d="M-101 118h0m-101 21h0m-19 69h0m90 114h0m-223-103h0m-89-54h0m65 96h0m911-133h0m-1027 111h0m-28 27h0m1195-213h0m-1288 191h0"/>
<path stroke="#370499" d="M278 72h0m-558 74h0m66 135h0m28 16h0m-138-43h0m87 70h0m191 68h0m26 3h0m304-84h0m162-199h0m-908 175h0"/>
<path stroke="#4c02a1" d="M-265 305h0m450 59h0m281-309h0m-870 240h0m-85 18h0m1129-277h0"/>
<path stroke="#6001a6" d="M-332 168h0m254 169h0m105 10h0m-413-173h0m92 108h0m85 59h0m83 34h0m434-83h0m-859-4h0"/>
<path stroke="#7401a8" d="M175 79h0m-340 168h0m186 46h0m335-238h0m-24 217h0m-742-52h0m-58-13h0m1021-141h0"/>
<path stroke="#8707a6" d="M-193 230h0m83 41h0m59 71h0m462-278h0m-484 324h0m233-15h0m100-46h0m-608-34h0m-182-119h0m1096-22h0m-1123 52h0m1156-33h0m-1185 56h0"/>
<path stroke="#99159f" d="M-145 185h0m54 26h0m-46 49h0m215 82h0m291-190h0m-804 105h0m1067-71h0m-1278 71h0"/>
<path stroke="#aa2395" d="M-173 165h0m429-59h0m-209 185h0m-348-84h0m142 104h0m60 72h0m157 11h0m454-218h0m-1092 130h0m-31 14h0"/>
<path stroke="#b7318a" d="M-57 286h0m58 61h0m-154 19h0m653-269h0m120 16h0m67 26h0"/>
<path stroke="#c5407e" d="M39 228h0m-122 52h0m-159-19h0m445 41h0m-119 89h0m151-50h0m144-119h0m23-31h0m252-63h0"/>
<path stroke="#d14e72" d="M-118 200h0m54 19h0m154 0h0m-340-38h0m219 109h0m103-2h0m-19 57h0m76-14h0m194-120h0m-504 143h0m214 42h0"/>
<path stroke="#dc5d67" d="M-74 132h0m53 15h0m-250 90h0m167 94h0m404-96h0m407-172h0"/>
<path stroke="#e66c5c" d="M30 149h0m109 53h0m-35 135h0m31 43h0m75-27h0m146-104h0m68-94h0m33 34h0"/>
<path stroke="#ee7b51" d="M152 100h0m82 33h0m-239 159h0m152-25h0m-172 79h0m179-23h0m25-10h0m-172 83h0m103-10h0"/>
<path stroke="#f58c46" d="M5 149h0m-17 79h0m126-16h0m8 64h0m130-3h0m24-18h0m115-142h0m88 35h0"/>
<path stroke="#fa9e3b" d="M-38 225h0m103 0h0m107 32h0m24-13h0m150-60h0"/>
<path stroke="#fdb130" d="M55 145h0m108 44h0m-66 94h0"/>
<path stroke="#fdc527" d="M14 229h0m321-128h0m252-8h0"/>
<path stroke="#fad824" d="M80 139h0m140 90h0m93-92h0"/>
<path stroke="#f3ee27" d="M-47 141h0m151-12h0m24-12h0m59 57h0m24-18h0m33 55h0m23-21h0m23-24h0m-62 123h0"/>
<path stroke="#1d068e" d="M-165 124h0m-46 53h0m28 23h0m-20 56h0m28 17h0m-200-127h0m9 95h0m30 33h0m-55 5h0m-117-26h0"/>
<path stroke="#370499" d="M-283 260h0m58 43h0m-256-79h0m1031-83h0m-1025 159h0m1091-121h0m-1247 72h0"/>
<path stroke="#4c02a1" d="M-15 320h0m-328-125h0m146 125h0m-339-42h0m1192-233h0m-1282 281h0"/>
<path stroke="#6001a6" d="M-136 146h0m-12 141h0m107 30h0m-213-33h0m-144-85h0m-24 40h0m958-191h0m-984 225h0m-152-37h0"/>
<path stroke="#7401a8" d="M268 293h0m-811-103h0m-52 123h0m-67-51h0"/>
<path stroke="#8707a6" d="M-74 251h0m27 6h0m-185-21h0m320 78h0m286-227h0m-409 283h0m26 2h0m504-209h0m22-50h0m-934 198h0m1000-149h0m-1148 135h0m1255-238h0"/>
<path stroke="#99159f" d="M-155 218h0m-135-40h0m223 135h0m-48 41h0m285-10h0"/>
<path stroke="#aa2395" d="M36 94h0m-130 212h0m-218-74h0m142 101h0m108 33h0m156-1h0m125-43h0m25-14h0m48-33h0m148-102h0m-896 14h0m1126-53h0"/>
<path stroke="#b7318a" d="M11 96h0m-252 51h0m558-79h0m-578 143h0m272 110h0m127-20h0m50-21h0m-330 64h0m54 17h0m283-27h0"/>
<path stroke="#c5407e" d="M113 308h0m-70 63h0m76-11h0"/>
<path stroke="#d14e72" d="M30 262h0m-151 36h0m158 22h0m279-66h0m91-118h0m22-46h0m54-12h0m-10 125h0"/>
<path stroke="#dc5d67" d="M-109 163h0m182 22h0m-200 47h0m282-1h0m-86 138h0m294-165h0m165-16h0m76-84h0m-1175 112h0"/>
<path stroke="#e66c5c" d="M-100 243h0m263 48h0m49-24h0m-195 105h0m128-19h0m240-180h0m33 35h0"/>
<path stroke="#ee7b51" d="M193 121h0m23-24h0m-153 221h0m267-156h0m307-40h0"/>
<path stroke="#f58c46" d="M170 141h0m-191 120h0m102-6h0m99-37h0m80 16h0"/>
<path stroke="#fa9e3b" d="M-82 175h0m188 74h0m25-8h0m331-110h0"/>
<path stroke="#fdb130" d="M22 192h0m75-14h0m-41 82h0m228-46h0"/>
<path stroke="#fdc527" d="M5 262h0m291-155h0m43 124h0m231-151h0"/>
<path stroke="#fad824" d="M-55 183h0"/>
<path stroke="#f3ee27" d="M61 89h0m-90 100h0m26 3h0m51-2h0m74-21h0m24-13h0m58 47h0m23-18h0m24-21h0m23-26h0m-38 114h0m71-62h0m45-62h0"/>
<path class="w" stroke="#1d068e" d="M-304 332h0m29 21h0m-83-12h0m29 25h0m86 54h0m192 59h0m31 42h0m79-1h0m131-25h0m51-18h0m25-11h0m221-177h0m-898 108h0m146 98h0m29 13h0m220 50h0m80-1h0m26-2h0m26-4h0m26-5h0m53-13h0m25-8h0m-690-135h0m31 30h0m119 86h0m29 16h0m29 13h0m56 23h0m56 17h0m55 11h0m28 4h0m27 3h0m27 1h0m107-4h0m53-9h0m104-30h0m370-341h0m-1058 257h0m119 79h0m29 15h0m57 24h0m28 10h0m29 8h0m55 13h0m28 5h0m28 4h0m27 2h0m54 2h0m108-9h0m131-34h0m78-34h0m152-104h0m-1014-21h0m241 171h0m85 32h0m29 8h0m28 7h0m28 6h0m28 4h0m55 6h0m27 1h0m82-2h0m80-11h0m54-13h0m26-7h0"/>
<path class="w" stroke="#370499" d="M-333 307h0m87 64h0m-54 16h0m86 47h0m190 47h0m-330-86h0m29 22h0m411 100h0m26-3h0m-292 15h0m55 15h0m54 10h0m81 5h0m236-44h0m51-23h0m-798-137h0m122 113h0m30 20h0m115 60h0m56 19h0m219 27h0m132-18h0m26-7h0m26-8h0m52-20h0m26-12h0m249-203h0m23-34h0m-981 199h0m29 21h0m30 18h0m87 44h0m113 37h0m137 18h0m54-1h0m27-1h0m27-3h0m53-8h0m27-6h0m26-7h0m26-8h0m52-19h0m78-37h0m51-32h0m173-167h0m24-34h0m-1104 153h0m31 27h0m30 25h0m60 41h0m29 17h0m30 16h0m57 25h0m29 11h0m168 37h0m164-1h0m27-4h0m132-33h0"/>
<path class="w" stroke="#4c02a1" d="M-218 386h0m28 13h0m369 15h0m244-175h0m-811 73h0m256 151h0m28 7h0m339-33h0m-650-96h0m31 29h0m116 82h0m112 45h0m472-57h0m147-122h0m-905 49h0m61 55h0m228 115h0m55 12h0m267-9h0m103-36h0m101-56h0m-781-2h0m286 135h0m136 14h0m53-2h0m54-7h0m308-135h0m-992-120h0m65 79h0m31 30h0m775 125h0m77-41h0m51-35h0m75-64h0m-1104-79h0m188 187h0m426 129h0m27 0h0m134-19h0"/>
<path class="w" stroke="#6001a6" d="M-163 410h0m108 26h0m27 3h0m52 2h0m-183 14h0m82 20h0m158 3h0m129-31h0m221-152h0m24-29h0m-694 200h0m28 12h0m83 27h0m54 10h0m81 7h0m26 0h0m258-69h0m75-46h0m144-150h0m23-37h0m-855 243h0m114 56h0m165 38h0m80 2h0m285-80h0m26-15h0m99-75h0m-119 128h0m26-15h0m25-15h0m25-17h0m50-40h0m25-22h0m24-25h0m25-27h0m-67 114h0m75-71h0m95-132h0m-1191 123h0"/>
<path class="w" stroke="#7401a8" d="M-108 426h0m210 7h0m26-5h0m-399-23h0m274 78h0m130-13h0m177-73h0m98-77h0m-591 169h0m136 30h0m262-32h0m126-63h0m-814-91h0m968 5h0m24-29h0m47-70h0m32 15h0m-1128 120h0m1090-3h0m94-149h0"/>
<path class="w" stroke="#8707a6" d="M-81 432h0m234-10h0m76-28h0m147-102h0m-563 154h0m294 29h0m228-94h0m-197 128h0m301-165h0m-732 136h0m691-50h0m73-65h0"/>
<path class="w" stroke="#99159f" d="M-2 441h0m256-60h0m25-13h0m73-54h0m-297 167h0m104-18h0m25-7h0m101-44h0m74-49h0m-655 72h0m195 76h0m265-8h0m-515-59h0m773-34h0"/>
<path class="w" stroke="#aa2395" d="M303 352h0m25-18h0m-68 91h0m155-58h0"/>
<path class="w" stroke="#b7318a" d="M-135 419h0m339-15h0m195-137h0m-370 215h0"/>
<path class="w" stroke="#c5407e" d="M76 437h0m307-95h0m8 46h0m152-112h0"/>
<path class="w" stroke="#d14e72" d="M588 195h0"/>
<path class="w" stroke="#dc5d67" d="M51 440h0"/>
<path class="w" stroke="#e66c5c" d="M478 234h0"/>
<path class="w" stroke="#1d068e" d="M-316 349h0m29 21h0m57 34h0m-111-23h0m29 21h0m57 34h0m84 36h0m109 26h0m159-1h0m103-25h0m25-10h0m25-10h0m221-174h0m-899 77h0m30 29h0m146 97h0m84 32h0m136 26h0m54 2h0m183-31h0m-454 12h0m112 37h0m27 6h0m27 5h0m55 6h0m133-5h0m105-24h0m26-9h0m26-10h0m-715-98h0m149 104h0m57 27h0m28 11h0m56 17h0m83 17h0m28 3h0m27 2h0m54 1h0m27-1h0m80-10h0m79-19h0m26-8h0m26-10h0m77-36h0m76-48h0m25-19h0m170-200h0m-1066 216h0m60 45h0m59 36h0m29 15h0m29 13h0m86 31h0m28 8h0m220 19h0m53-5h0m27-4h0m27-5h0m79-22h0m78-32h0m-713-14h0m29 18h0m30 16h0"/>
<path class="w" stroke="#370499" d="M-292 314h0m113 66h0m-166-55h0m198 113h0m-224-82h0m336 144h0m105 0h0m231-74h0m-253 114h0m27-2h0m26-4h0m155-43h0m26-11h0m75-44h0m-844-92h0m180 149h0m29 16h0m85 35h0m28 8h0m191 25h0m106-11h0m52-11h0m179-79h0m172-158h0m47-71h0m23-44h0m-997 277h0m29 20h0m30 18h0m57 30h0m85 33h0m56 15h0m28 5h0m190 8h0m26-4h0m53-9h0m27-6h0m104-37h0m77-40h0m25-16h0m197-198h0m-1013 202h0m60 40h0m116 57h0m113 33h0m27 5h0m28 4h0m28 3h0m54 3h0m27 0h0m54-4h0m107-19h0m27-7h0m130-53h0m26-14h0m126-93h0m-1045-22h0m32 33h0m31 28h0m31 25h0m30 22h0"/>
<path class="w" stroke="#4c02a1" d="M312 319h0m-432 126h0m81 15h0m157-8h0m321-199h0m-722 167h0m167 68h0m-252-79h0m88 57h0m140 55h0m27 7h0m27 5h0m27 3h0m212-11h0m26-7h0m52-17h0m76-34h0m196-168h0m-959 80h0m61 55h0m174 100h0m220 43h0m53-1h0m106-15h0m180-70h0m51-32h0m74-60h0m24-25h0m24-27h0m48-63h0m-1075 81h0m518 247h0m468-172h0m98-107h0m-785 275h0m195 37h0m294-47h0m180-100h0m100-92h0m24-28h0m24-32h0m-1209 6h0"/>
<path class="w" stroke="#6001a6" d="M-151 391h0m-107-3h0m83 40h0m109 28h0m132 4h0m228-77h0m-695-56h0m174 123h0m577-56h0m-688 37h0m29 19h0m304 90h0m132-10h0m205-78h0m-757-44h0m60 48h0m310 118h0m134 0h0m208-57h0m26-12h0m5 36h0m201-150h0m-1097-52h0m33 43h0m63 68h0m883 84h0m26-17h0m100-85h0"/>
<path class="w" stroke="#7401a8" d="M-263 335h0m29 17h0m137 55h0m27 5h0m-23 40h0m133 9h0m103-15h0m51-15h0m51-21h0m25-13h0m122-90h0m70-86h0m-661 241h0m110 31h0m133 9h0m79-10h0m153-52h0m50-29h0m121-104h0m47-61h0m23-37h0m-741 284h0m28 11h0m578-85h0m97-91h0m48-61h0m-863 209h0m749-35h0m-835 16h0m917-40h0m49-53h0m94-147h0m-340 371h0m179-110h0"/>
<path class="w" stroke="#8707a6" d="M-44 416h0m257-39h0m50-26h0m97-74h0m-141 144h0m-363 60h0m135 21h0m27 0h0m130-15h0m26-7h0m-633-160h0m866 79h0m24-21h0m-915 22h0m-29 18h0"/>
<path class="w" stroke="#99159f" d="M-206 367h0m82 33h0m138 62h0m155-23h0m150-72h0m49-38h0m7 47h0m24-21h0m151-125h0m-112 191h0m-1013-24h0"/>
<path class="w" stroke="#aa2395" d="M163 396h0m25-9h0m-390 30h0m545-68h0"/>
<path class="w" stroke="#b7318a" d="M138 403h0m100-38h0m-146 91h0m323-175h0m8 51h0m32 23h0"/>
<path class="w" stroke="#c5407e" d="M-17 418h0m104-4h0m249-115h0m47-47h0m-396 209h0"/>
<path class="w" stroke="#d14e72" d="M9 419h0m26 0h0m372-195h0"/>
<path class="w" stroke="#e66c5c" d="M287 336h0"/>
<path class="w" stroke="#f58c46" d="M61 417h0m51-8h0"/>
<path class="w" stroke="#1d068e" d="M-318 320h0m4 56h0m277 104h0m157-8h0m323-191h0m23-30h0m-865 106h0m30 26h0m116 76h0m246 63h0m80-3h0m-469-109h0m145 92h0m354 51h0m130-33h0m26-10h0m76-38h0m219-214h0m-859 256h0m57 28h0m28 11h0m28 10h0m28 8h0m83 17h0m27 3h0m27 3h0m27 1h0m107-7h0m53-9h0m26-7h0m26-7h0m26-9h0m26-10h0m203-127h0m-858 82h0m58 38h0m30 15h0m28 14h0m57 22h0m29 9h0m83 20h0m28 4h0m27 3h0m28 2h0m54 1h0m27-1h0m53-6h0m132-31h0m26-10h0m52-22h0m26-13h0m-767-24h0m118 70h0m29 13h0m114 37h0m28 6h0m165 14h0m81-7h0m27-4h0m53-11h0m53-16h0"/>
<path class="w" stroke="#370499" d="M-289 343h0m28 19h0m84 43h0m136 33h0m381-113h0m24-21h0m-737 23h0m116 86h0m29 14h0m164 50h0m312-46h0m-678-106h0m148 119h0m249 76h0m132-4h0m-321-2h0m55 19h0m28 8h0m28 6h0m108 12h0m27 0h0m53-3h0m52-7h0m27-6h0m154-57h0m-587 43h0m141 49h0m27 6h0m190 7h0m53-7h0m258-106h0m25-17h0m-869-7h0m206 126h0m85 27h0m27 7h0m138 15h0m81-3h0m53-8h0m235-87h0m50-33h0m76-61h0m73-81h0m-1116 53h0m32 34h0m122 100h0m30 18h0m29 16h0m87 39h0m28 10h0m29 8h0m84 19h0m27 4h0m28 3h0m55 2h0m54-1h0m108-15h0m53-13h0m53-18h0"/>
<path class="w" stroke="#4c02a1" d="M11 441h0m104-10h0m200-88h0m119-119h0m-719 172h0m194 77h0m159 7h0m26-3h0m128-35h0m-562-36h0m386 115h0m156-30h0m77-31h0m-558 28h0m85 36h0m110 28h0m27 3h0m27 3h0m80 0h0m132-21h0m25-8h0m77-30h0m76-43h0m99-79h0m-944-4h0m31 32h0m30 28h0m31 24h0m59 41h0m361 97h0m27-1h0m262-71h0m25-13h0m26-15h0m124-99h0m49-55h0m23-32h0m-984 170h0m585 134h0m27-6h0m26-8h0m78-28h0m103-55h0m51-36h0m25-21h0m74-73h0m48-63h0m-616 339h0m108-3h0"/>
<path class="w" stroke="#6001a6" d="M-232 379h0m28 14h0m293 42h0m77-17h0m-509-64h0m332 128h0m208-30h0m222-145h0m-730 119h0m114 57h0m55 18h0m27 7h0m292-9h0m51-17h0m25-10h0m76-40h0m25-16h0m121-112h0m24-31h0m-925 109h0m60 51h0m29 21h0m29 18h0m693-33h0m98-87h0m24-28h0m-871 155h0m880-109h0m94-137h0m-1093 192h0m121 96h0m885-109h0m97-125h0m-1101 186h0m31 26h0"/>
<path class="w" stroke="#7401a8" d="M191 409h0m50-21h0m-414 63h0m55 16h0m440-78h0m-547 83h0m56 21h0m320 13h0m153-59h0m147-116h0m71-92h0m-979 112h0m1034-133h0m-135 223h0m145-167h0m56-29h0"/>
<path class="w" stroke="#8707a6" d="M-95 429h0m27 5h0m209-9h0m247-145h0m-589 160h0m56 20h0m161 23h0m26-1h0m231-63h0m25-14h0m-358 112h0m80 5h0m105-11h0m419-312h0m-254 336h0m-867-166h0"/>
<path class="w" stroke="#99159f" d="M-122 423h0m388-48h0m145-121h0m-265 213h0m26-7h0m223-129h0m-482 182h0m497-93h0m25-20h0m96-107h0"/>
<path class="w" stroke="#aa2395" d="M-149 415h0m186 25h0m254-80h0m-838-7h0m33 39h0"/>
<path class="w" stroke="#b7318a" d="M216 399h0m273-183h0m-111 182h0m25-20h0m-920-43h0m1182-138h0"/>
<path class="w" stroke="#c5407e" d="M427 356h0"/>
<path class="w" stroke="#d14e72" d="M347 372h0"/>
<path class="w" stroke="#dc5d67" d="M-15 440h0m386-87h0"/>
<path class="w" stroke="#ee7b51" d="M64 438h0"/>
<path class="w" stroke="#1d068e" d="M-306 302h0m29 23h0m220 89h0m-274-76h0m278 120h0m-303-89h0m29 23h0m58 37h0m84 38h0m269 31h0m103-22h0m25-9h0m271-205h0m-836 158h0m335 120h0m509-226h0m-962 48h0m61 60h0m146 94h0m113 40h0m55 12h0m27 4h0m54 5h0m107-5h0m105-21h0m26-8h0m26-10h0m-687-89h0m148 98h0m29 13h0m28 12h0m28 10h0m28 8h0m28 8h0m83 15h0m27 2h0m28 2h0m54 0h0m159-26h0m26-8h0m26-9h0m326-252h0m23-36h0m-949 269h0m29 16h0m115 47h0m28 8h0m28 7h0m28 6h0m27 4h0m28 4h0m27 2h0m109-1h0m27-2h0m27-4h0m26-5h0m184-62h0m26-14h0m127-89h0m74-75h0m-1123 24h0m155 137h0m59 35h0m29 15h0"/>
<path class="w" stroke="#370499" d="M-165 386h0m-136-26h0m60 84h0m138 47h0m213 3h0m153-48h0m50-27h0m-756-81h0m261 171h0m28 8h0m27 8h0m82 13h0m159-6h0m180-59h0m25-13h0m196-176h0m46-75h0m-882 276h0m29 16h0m85 38h0m28 9h0m55 15h0m82 12h0m54 2h0m106-8h0m53-11h0m180-74h0m100-74h0m-829 80h0m59 37h0m198 72h0m28 5h0m109 8h0m53-2h0m27-3h0m53-8h0m26-6h0m105-34h0m26-12h0m102-58h0m25-19h0m193-230h0m-1092 224h0m60 48h0m30 20h0m88 48h0m280 66h0m27 0h0m27-1h0m134-18h0m26-7h0m27-8h0m26-9h0m52-21h0m-838-131h0m31 30h0m62 51h0m60 39h0"/>
<path class="w" stroke="#4c02a1" d="M-138 395h0m510-130h0m-616 131h0m138 53h0m236 0h0m-428-37h0m141 65h0m81 19h0m27 3h0m80 3h0m207-45h0m-651-87h0m30 27h0m88 61h0m29 16h0m28 13h0m246 54h0m27-1h0m27-1h0m26-3h0m52-8h0m52-14h0m26-8h0m25-10h0m26-11h0m100-57h0m-749 18h0m30 21h0m115 61h0m301 47h0m79-11h0m129-41h0m26-12h0m25-13h0m51-30h0m147-135h0m-871 177h0m471 94h0m208-69h0m26-14h0m25-16h0m-943-144h0m125 128h0m177 103h0m28 11h0m516-10h0m103-52h0m127-96h0m73-83h0m-1053 146h0"/>
<path class="w" stroke="#6001a6" d="M-110 403h0m-163-23h0m57 31h0m28 12h0m27 10h0m27 9h0m341-16h0m25-10h0m25-12h0m50-29h0m-302 127h0m283-69h0m50-30h0m121-110h0m-783 147h0m114 59h0m111 31h0m265-8h0m-606-128h0m479 183h0m436-190h0m72-85h0m24-36h0m-978 203h0m865-19h0m25-22h0m49-50h0m-1061 23h0m32 34h0m911 90h0m25-17h0m101-88h0m-1132-45h0"/>
<path class="w" stroke="#7401a8" d="M-192 374h0m393 8h0m179-64h0m-766 24h0m364 159h0m385-116h0m-435 150h0m417-91h0m193-195h0m-137 201h0m98-89h0m-967 55h0m1024-67h0m-91 139h0"/>
<path class="w" stroke="#8707a6" d="M-220 360h0m136 49h0m408-100h0m-403 145h0m132 7h0m350-167h0m-616 162h0m270 45h0m78-12h0m26-6h0m250-139h0m95-116h0m-112 181h0m25-20h0m7 42h0m-958-87h0m32 39h0"/>
<path class="w" stroke="#99159f" d="M-249 344h0m349 67h0m76-20h0m-536-80h0m334 150h0m53 1h0m155-27h0m100-45h0m145-122h0m23-30h0m-580 246h0m-373-160h0m1097-98h0m-87 178h0"/>
<path class="w" stroke="#aa2395" d="M-4 419h0m78-4h0m152-44h0m-147 87h0m26-4h0m226-96h0m56 8h0m56 1h0m206-175h0"/>
<path class="w" stroke="#b7318a" d="M-30 417h0m52 2h0m134 24h0m311-101h0"/>
<path class="w" stroke="#c5407e" d="M251 358h0m49-31h0m55 12h0m80-19h0"/>
<path class="w" stroke="#d14e72" d="M125 406h0m-125 56h0"/>
<path class="w" stroke="#dc5d67" d="M48 418h0m103-18h0m124-56h0m73-56h0"/>
<path class="w" stroke="#e66c5c" d="M395 239h0"/>
</g></g>
<use href="#grat"/><use href="#oval"/><g><circle r="0.9" fill="#333"/><text class="l" x="-2.2" y="-59.4" text-anchor="middle">-60</text><text class="l" x="-2.2" y="-38" text-anchor="middle">-70</text><text class="l" x="-2.2" y="-16.9" text-anchor="middle">-80</text><text class="l" x="-69.3" y="-35.6" text-anchor="end">240</text><text class="l" x="-67.4" y="45" text-anchor="end">300</text><text class="l" x="66" y="-35.4">120</text><text class="l" x="67.6" y="45.2">60</text></g>
<text class="t" x="-0.7" y="-98.1">jup.8008.02</text><text class="t" x="-0.7" y="-81.5">2017-03-18 10:05 UT</text>
</g>
<g transform="translate(91.35 529.60)">
<clipPath id="k6"><circle cx="-1.19" cy="1.61" r="74.60"/></clipPath>
<g clip-path="url(#k6)"><g class="d" transform="scale(.1)">
<path stroke="#1d068e" d="M324 -178h0m-659-210h0m917 595h0"/>
<path stroke="#370499" d="M196 -9h0m-241-186h0m-11-74h0m558 482h0"/>
<path stroke="#4c02a1" d="M159 -88h0m-16-21h0m188 93h0m-375-313h0m146-27h0m-523-116h0m-14-33h0m1085 726h0"/>
<path stroke="#6001a6" d="M106 -144h0m-121-49h0m20-72h0m-29-3h0m375 141h0m-76-115h0m-19-18h0m-39-34h0m-90-52h0m-51-18h0m-27-7h0m-327 1h0m759 471h0m35 46h0m-751-629h0m796 573h0m-918-602h0m-33-62h0m-86 14h0"/>
<path stroke="#7401a8" d="M174 -65h0m-115-186h0m-186-7h0m464 278h0m-131-255h0m-20-16h0m-299-72h0m-39 9h0m326-8h0m-23-13h0m-130-42h0m416 399h0m-620-432h0m-154-25h0m-117-99h0m44-66h0"/>
<path stroke="#8707a6" d="M260 -51h0m-24-54h0m88 56h0m-65-129h0m-35-40h0m-128-84h0m-26-9h0m238 111h0m-16-22h0m-96-87h0m-204-71h0m-224 40h0m825 485h0m-965-689h0m1054 777h0"/>
<path stroke="#99159f" d="M-79 -193h0m328 114h0m-28-49h0m-311-138h0m379 133h0m-146-147h0m-99-38h0m329 248h0m-35-83h0m-101-125h0m187 451h0m-652-567h0m-1-47h0m751 535h0m22 113h0m85-57h0"/>
<path stroke="#aa2395" d="M150 -203h0m92 4h0m-226-125h0m-29-4h0m403 410h0m-28-182h0m-434-281h0m545 537h0m-659-611h0m-97-8h0m-62-12h0m962 687h0"/>
<path stroke="#b7318a" d="M107 -231h0m-24-11h0m-50-17h0m301 370h0m-411-439h0m38-54h0m-106 11h0m583 435h0m-716-484h0m905 720h0"/>
<path stroke="#c5407e" d="M186 -39h0m-16-148h0m105 31h0m-470-143h0m579 434h0m7-98h0m-4-39h0m-6-35h0m-567-322h0m43-61h0m625 473h0m74 91h0m38 147h0m63 23h0"/>
<path stroke="#d14e72" d="M85 -158h0m120 9h0m109 70h0m-12-28h0m-182-185h0m-424-245h0"/>
<path stroke="#dc5d67" d="M338 62h0m97 52h0"/>
<path stroke="#e66c5c" d="M63 -170h0m-50-18h0"/>
<path stroke="#ee7b51" d="M39 -181h0m236 195h0m-6-34h0m-81-149h0"/>
<path stroke="#f58c46" d="M126 -127h0m39-139h0m-272-112h0"/>
<path stroke="#fa9e3b" d="M-292 -502h0"/>
<path stroke="#fdb130" d="M129 -218h0"/>
<path stroke="#f3ee27" d="M278 54h0"/>
<path stroke="#1d068e" d="M89 -99h0m-121-50h0m238 62h0m-28-133h0m271 383h0m-864-616h0m1015 662h0m11 86h0"/>
<path stroke="#370499" d="M-3 -231h0m42-59h0m-49-65h0m-326-57h0m-28-116h0m-64 39h0"/>
<path stroke="#4c02a1" d="M47 -127h0m145 17h0m71-10h0m37-48h0m-32-43h0m-221-134h0m300 159h0m-49-66h0m-99-83h0m467 561h0m-1066-813h0m1071 910h0"/>
<path stroke="#6001a6" d="M23 -137h0m-56-97h0m-32 1h0m-35 4h0m111-66h0m-60-5h0m412 308h0m-79-198h0m-93-91h0m-67-38h0m-50-19h0m-55-13h0m366 243h0m-11-28h0m-59-95h0m-73-74h0m-88-55h0m-50-21h0m-26-8h0m-360 47h0m98-91h0m760 722h0m-1020-809h0"/>
<path stroke="#7401a8" d="M97 -196h0m-22-12h0m-51-18h0m-143-67h0m-40 11h0m409 52h0m-19-18h0m101 39h0m-155-139h0m-48-23h0m-357-47h0m-52-24h0"/>
<path stroke="#8707a6" d="M107 -81h0m-110-64h0m233 112h0m-72-117h0m-176-149h0m165-9h0m-188-48h0m-106 12h0m-91 35h0m634 231h0m-116-193h0m-59-50h0m-228-83h0m-177 19h0m643 401h0m20 203h0m44-10h0m40-2h0"/>
<path stroke="#99159f" d="M276 -94h0m-139-156h0m226 345h0m2-47h0m-51-192h0m-102-121h0m203 337h0m-1-43h0m-53-191h0m-100-127h0m-210-107h0m-280 28h0m-48-28h0m772 547h0m-727-613h0m769 607h0m-878-601h0m952 603h0m34 6h0m-1066-765h0"/>
<path stroke="#aa2395" d="M123 -60h0m53-71h0m-57-52h0m189 262h0m-4-82h0m-88-182h0m-58-51h0m-68-37h0m-25-9h0m262 164h0m-157-177h0m240 418h0m-6-168h0m-442-361h0m-68 4h0m567 460h0m41 39h0m1-47h0m72 94h0m-926-638h0m1047 734h0"/>
<path stroke="#b7318a" d="M243 36h0m-221-437h0m-93-4h0m-393-142h0"/>
<path stroke="#c5407e" d="M69 -114h0m219 47h0m-39-76h0m-51-60h0m141 113h0m-240-240h0m-208-21h0m520 341h0m-698-473h0m-93-76h0"/>
<path stroke="#d14e72" d="M238 -1h0m119-27h0m-546-302h0m731 422h0m92 124h0"/>
<path stroke="#dc5d67" d="M137 -36h0m82-25h0m14-104h0m-119-97h0m-257-134h0"/>
<path stroke="#e66c5c" d="M139 -167h0m170 202h0m-383-390h0m532 461h0"/>
<path stroke="#ee7b51" d="M-82 -298h0m-215-222h0m939 827h0"/>
<path stroke="#f58c46" d="M50 -218h0m247 182h0"/>
<path stroke="#fdc527" d="M349 -60h0"/>
<path stroke="#1d068e" d="M-1 -191h0m197-53h0m120 55h0m-575-138h0m725 516h0m-719-621h0m-117 18h0m929 531h0"/>
<path stroke="#370499" d="M191 -24h0m-39-75h0m-36-37h0m-20-15h0m19-200h0m-25-9h0m341 502h0m51-66h0"/>
<path stroke="#4c02a1" d="M-61 -195h0m-86-57h0m353-49h0m231 389h0m-742-494h0m825 525h0m31 55h0m-1044-679h0m-22-25h0"/>
<path stroke="#6001a6" d="M19 -262h0m-59-7h0m428 376h0m-57-273h0m-31-45h0m-35-40h0m-18-18h0m-62-47h0m-122-52h0m-27-6h0m474 552h0m179 21h0"/>
<path stroke="#7401a8" d="M229 -117h0m-238-150h0m243 59h0m-19-19h0m-158-88h0m311 230h0m-141-201h0m-220-93h0m516 449h0m-885-657h0"/>
<path stroke="#8707a6" d="M255 -66h0m-95-129h0m174 196h0m-6-34h0m-61-135h0m124 227h0m-108-291h0m-120-97h0m-24-11h0m-448-111h0m841 696h0m109 12h0m-1082-839h0"/>
<path stroke="#99159f" d="M167 -77h0m-27-133h0m-69-37h0m-179-16h0m138-58h0m-28-5h0m342 185h0m-433-239h0m-298-114h0"/>
<path stroke="#aa2395" d="M242 -92h0m-147-144h0m-167-32h0m226-5h0m-23-13h0m-48-21h0m-112-22h0m5-52h0m-139-34h0m-95-59h0m830 718h0m24-126h0m28 61h0m-968-737h0m-58 31h0m1074 797h0"/>
<path stroke="#b7318a" d="M180 -52h0m-45-66h0m-165-77h0m368 235h0m-56-185h0m-31-44h0m-143-108h0m-203-29h0m484 343h0m-12-71h0m-20-60h0m79 116h0m42 125h0m-685-575h0m815 697h0m-1028-805h0"/>
<path stroke="#c5407e" d="M200 7h0m-21-185h0m205 158h0m-549-345h0m-87-19h0m-77-142h0"/>
<path stroke="#d14e72" d="M51 -176h0m257 82h0m-440-225h0m77-63h0m-70 7h0m-251-82h0m1033 645h0"/>
<path stroke="#dc5d67" d="M26 -185h0m251 262h0m-12-113h0m-68-123h0m-258-170h0m-147-22h0m-59-161h0"/>
<path stroke="#e66c5c" d="M118 -224h0m201 159h0m-144-194h0m-348-49h0m-32-95h0m794 578h0"/>
<path stroke="#ee7b51" d="M277 33h0m-5-37h0m-59-135h0m83 19h0"/>
<path stroke="#f58c46" d="M438 42h0m-755-532h0"/>
<path stroke="#fa9e3b" d="M74 -165h0"/>
<path stroke="#fdb130" d="M46 -255h0"/>
<path stroke="#fdc527" d="M337 85h0"/>
<path stroke="#1d068e" d="M35 -132h0m178 58h0m-14-25h0m-174-194h0m251 92h0m-582-228h0"/>
<path stroke="#370499" d="M168 -228h0m-32-86h0m395 489h0m39-1h0"/>
<path stroke="#4c02a1" d="M-17 -147h0m28-82h0m281 50h0m47-19h0m-32-43h0m-97-87h0m-22-14h0m-71-34h0m-422-5h0m50-72h0m808 697h0m-906-817h0"/>
<path stroke="#6001a6" d="M184 -121h0m-202-112h0m-101 8h0m389 118h0m-82-105h0m172 202h0m-158-263h0m-141-69h0m-28-6h0m198 35h0m-89-53h0m-51-19h0m-345 28h0m743 539h0m10-59h0m41-6h0"/>
<path stroke="#7401a8" d="M79 -107h0m-69-34h0m139-18h0m-41-31h0m-157-44h0m-33 2h0m289 38h0m-210-103h0m-97 1h0m212-29h0m279 232h0m-37-81h0m-65-87h0m-18-19h0m-19-17h0m-87-58h0m-537-82h0m-39-105h0m1115 748h0"/>
<path stroke="#8707a6" d="M115 -71h0m-57-50h0m176 104h0m-87-226h0m-22-13h0m-190-44h0m-73 12h0m445 132h0m-48-65h0m-284-135h0m-32 0h0m-111 18h0m581 435h0m-13-159h0m-33-87h0m-43-71h0m-259-173h0m-28-6h0m-60-6h0m-229-3h0m830 525h0m-959-593h0m971 722h0m51-63h0"/>
<path stroke="#99159f" d="M63 -213h0m193 81h0m-289-168h0m393 422h0m5-51h0m-1-43h0m-20-104h0m-11-28h0m-328-249h0m403 325h0m-28-94h0m123 194h0m-897-583h0m1018 763h0m-1054-821h0m-74 51h0"/>
<path stroke="#aa2395" d="M130 -48h0m-32-42h0m-279-183h0m340-29h0m-72-32h0m-215-14h0m-85 27h0m221-82h0m-171 12h0m-47-78h0m-52-24h0m-51 22h0m986 664h0"/>
<path stroke="#b7318a" d="M143 -23h0m-57-179h0m-8-76h0m163 38h0m-19-17h0m183 410h0m8-144h0m42 124h0m5-52h0m0-45h0m-666-462h0m-130-116h0"/>
<path stroke="#c5407e" d="M181 -288h0m-345-150h0m820 701h0"/>
<path stroke="#d14e72" d="M37 -222h0m204 68h0m-139-114h0m251 224h0m-32-87h0m-412-223h0m36-52h0m-33 2h0m-36 5h0m-82 21h0m892 656h0"/>
<path stroke="#dc5d67" d="M129 -175h0m178 191h0m-14-68h0m-11-29h0m133 131h0m-738-558h0"/>
<path stroke="#e66c5c" d="M241 17h0m68 39h0m-84-231h0m-173-111h0"/>
<path stroke="#ee7b51" d="M606 177h0"/>
<path stroke="#f58c46" d="M167 -141h0"/>
<path stroke="#fa9e3b" d="M225 -47h0"/>
<path stroke="#f3ee27" d="M301 -20h0"/>
<path class="w" stroke="#1d068e" d="M245 -332h0m-43-29h0m-47-24h0m284 231h0m-26-53h0m-15-24h0m-16-23h0m-111-113h0m169 126h0m-32-46h0m-17-22h0m-75-75h0m-21-16h0m-21-15h0m-22-14h0m197 132h0m-34-43h0m-97-91h0m-21-15h0m-69-41h0m-24-12h0m-51-20h0m-173-33h0m617 554h0m-19-110h0m-10-32h0m-10-31h0m-12-29h0m-41-79h0m-16-25h0m-51-65h0m-37-40h0m-20-18h0m-20-17h0m-42-32h0m-23-15h0m-121-59h0m458 555h0m-5-40h0m-6-37h0m-17-69h0m-10-31h0m-12-30h0m-12-28h0m-14-28h0m-175-214h0m-21-17h0m-44-30h0m-71-39h0m-25-12h0m-26-10h0m-26-10h0m-27-8h0m-28-8h0m-29-6h0m-30-5h0m602 548h0m-16-70h0m-10-32h0m-50-115h0m-15-26h0m-66-92h0m-37-41h0m-20-19h0m-20-18h0m-20-17h0m-22-17h0m-91-58h0m-24-13h0m-25-11h0m-26-11h0m-81-27h0m-29-7h0m-29-5h0m624 761h0m1-95h0m-4-42h0m-5-40h0m-16-71h0m-20-65h0m-12-30h0m-13-29h0m-13-28h0m-15-26h0m-15-25h0m-16-25h0m-16-23h0m-17-23h0m-18-21h0m-19-21h0m-19-20h0m-19-19h0m-21-18h0m-21-18h0m-21-16h0m-45-31h0m-23-15h0m-99-49h0m-110-35h0m-122-18h0m723 634h0m-6-38h0m-17-70h0m-11-33h0m-37-89h0m-14-27h0m-15-26h0m-15-25h0m-16-24h0m-17-24h0m-74-84h0m-20-19h0m-20-19h0m-43-34h0m-22-16h0m-146-80h0m-26-10h0m-27-10h0m-28-9h0m-118-25h0m-32-3h0m-137 0h0"/>
<path class="w" stroke="#370499" d="M418 -84h0m-35-85h0m-14-25h0m-31-46h0m-17-20h0m-97-87h0m-45-27h0m-100-39h0m397 386h0m-50-154h0m-60-94h0m150 242h0m-15-69h0m-10-31h0m-11-29h0m-13-28h0m-13-26h0m-80-113h0m-19-19h0m-19-18h0m-107-77h0m-23-12h0m-103-39h0m-27-7h0m464 395h0m-46-117h0m-14-26h0m-15-24h0m-32-46h0m-36-41h0m-18-19h0m-20-18h0m-20-18h0m-160-94h0m-80-26h0m493 498h0m-6-37h0m-53-154h0m-60-99h0m-17-21h0m-36-41h0m-80-71h0m-67-44h0m-23-13h0m-102-42h0m-27-8h0m-28-7h0m-29-6h0m-30-5h0m-246 16h0m847 618h0m-21-156h0m-71-177h0m-31-48h0m-16-23h0m-18-22h0m-17-21h0m-38-39h0m-20-18h0m-64-49h0m-45-29h0m-24-13h0m-245-75h0m644 676h0m-2-45h0m-4-41h0m-13-74h0m-30-97h0m-12-29h0m-13-28h0m-77-123h0m-36-43h0m-123-107h0m-170-87h0m-27-9h0m-116-25h0m-32-3h0m-65-3h0m-71 4h0m789 486h0m-382-445h0m-25-12h0m-52-21h0m-27-9h0m-28-9h0m-119-23h0m700 762h0m-1-47h0m-22-157h0m-31-97h0m-13-30h0m-108-177h0m-18-22h0m-99-95h0m-67-48h0m-23-15h0m-24-13h0m-50-25h0m-135-48h0m-59-13h0m-95-10h0m-34-1h0m-35 0h0m-74 7h0"/>
<path class="w" stroke="#4c02a1" d="M354 -217h0m-69-81h0m-20-18h0m204 254h0m-19-63h0m-102-171h0m-18-19h0m-38-36h0m-42-31h0m-69-39h0m329 352h0m-86-196h0m-268-212h0m-26-9h0m-83-20h0m515 550h0m-2-42h0m-5-38h0m-7-36h0m-29-96h0m-12-28h0m-232-265h0m-23-13h0m-126-54h0m-55-13h0m528 586h0m-374-574h0m-287-61h0m590 281h0m-86-109h0m-481-207h0m590 289h0m-214-211h0m-355-112h0m397 101h0m-284-120h0m-126-14h0m-69 2h0m831 815h0m-1-141h0m-208-460h0m-219-164h0m-189-67h0"/>
<path class="w" stroke="#6001a6" d="M408 -115h0m-12-28h0m-92-137h0m7-54h0m-83-62h0m-23-13h0m-48-23h0m366 479h0m-342-513h0m349 328h0m-489-408h0m-128-6h0m287 12h0m-197-48h0m631 684h0m-641-720h0m-66-1h0m-36 3h0m-117 20h0m760 242h0m-220-201h0m388 624h0m-17-164h0m-376-500h0m-244-83h0m-130-8h0m-72 5h0m-56-24h0"/>
<path class="w" stroke="#7401a8" d="M426 -52h0m-295-344h0m-80-23h0m-122-10h0m203-13h0m-26-9h0m-28-7h0m-61-53h0m-70-42h0m651 645h0m-79-346h0m-548-336h0m-143 12h0m86-80h0m-74 7h0m-82 18h0m936 801h0"/>
<path class="w" stroke="#8707a6" d="M105 -405h0m-82-19h0m458 435h0m-21-106h0m-410-369h0m-59-8h0m20-78h0m-172 8h0m-40 9h0m104-55h0m764 691h0m-867-746h0m24-38h0m-40 8h0m-19-29h0"/>
<path class="w" stroke="#99159f" d="M21 -469h0m500 474h0m-765-525h0m110-64h0m-12-34h0m-124 30h0m-48 18h0"/>
<path class="w" stroke="#aa2395" d="M-7 -428h0m-34-45h0m-68 4h0m63-45h0m-34 1h0m-72 9h0m29-44h0m785 705h0"/>
<path class="w" stroke="#b7318a" d="M433 -17h0m-507-455h0m60-41h0m-242-42h0"/>
<path class="w" stroke="#c5407e" d="M-115 -510h0m-77 15h0m7-116h0m-74-51h0m-46 15h0"/>
<path class="w" stroke="#d14e72" d="M-39 -429h0m-107-35h0m-140-155h0"/>
<path class="w" stroke="#dc5d67" d="M-106 -426h0m-229-174h0m-20-27h0"/>
<path class="w" stroke="#1d068e" d="M391 -201h0m-15-24h0m-107-117h0m227 311h0m-63-181h0m-14-24h0m-67-86h0m93 53h0m-16-23h0m-17-22h0m-74-77h0m-21-17h0m-21-15h0m-21-15h0m-23-14h0m-47-25h0m-132-44h0m466 351h0m-12-28h0m-58-102h0m-16-23h0m-53-62h0m-40-36h0m-20-17h0m-21-16h0m-22-15h0m-23-14h0m-23-13h0m-74-34h0m-26-9h0m-27-9h0m-28-7h0m-29-6h0m548 564h0m-5-39h0m-6-37h0m-8-35h0m-9-33h0m-11-31h0m-11-29h0m-41-81h0m-15-24h0m-50-67h0m-57-59h0m-20-18h0m-21-17h0m-43-31h0m-23-14h0m-23-13h0m-74-35h0m-26-10h0m-27-9h0m-85-20h0m590 606h0m-10-78h0m-17-69h0m-10-32h0m-11-30h0m-13-29h0m-109-170h0m-57-59h0m-41-34h0m-138-85h0m-26-11h0m-26-10h0m-27-9h0m-27-8h0m-28-7h0m-190-18h0m760 614h0m-5-39h0m-16-70h0m-10-33h0m-11-31h0m-12-30h0m-13-28h0m-14-27h0m-14-27h0m-66-94h0m-18-21h0m-38-40h0m-19-18h0m-21-18h0m-21-17h0m-22-16h0m-45-30h0m-47-27h0m-25-12h0m-25-12h0m-26-10h0m-55-18h0m-28-8h0m-121-20h0m-32-1h0m740 793h0m-7-178h0m-7-38h0m-8-35h0m-10-34h0m-10-32h0m-25-59h0m-13-28h0m-14-27h0m-15-26h0m-16-25h0m-16-24h0m-17-22h0m-18-22h0m-37-42h0m-20-19h0m-20-19h0m-20-18h0m-22-17h0m-21-16h0m-69-45h0m-127-58h0m-28-8h0m-28-9h0m-29-7h0m-60-11h0m-31-3h0m-32-3h0m-34-1h0m757 547h0m-22-65h0m-12-30h0m-13-28h0m-14-28h0m-14-27h0m-16-25h0m-16-25h0m-17-24h0m-73-86h0m-40-38h0m-42-35h0m-115-75h0m-131-55h0m-28-8h0m-29-8h0m-59-12h0"/>
<path class="w" stroke="#370499" d="M455 -22h0m-7-36h0m-9-32h0m-10-30h0m-11-29h0m-58-98h0m-34-41h0m-78-69h0m-44-28h0m-23-13h0m-49-21h0m-110-28h0m468 381h0m-43-120h0m-44-74h0m-16-22h0m-17-21h0m-56-56h0m-20-17h0m-21-15h0m-44-29h0m-98-44h0m390 360h0m-61-141h0m-65-90h0m-37-38h0m-129-92h0m-49-23h0m-25-10h0m-54-17h0m478 517h0m-5-39h0m-7-36h0m-18-66h0m-35-87h0m-29-51h0m-49-67h0m-18-21h0m-191-143h0m-25-12h0m-227-51h0m577 342h0m-14-27h0m-62-96h0m-36-42h0m-18-19h0m-82-70h0m-92-55h0m-130-49h0m-88-16h0m-32-3h0m-66-1h0m714 574h0m-14-73h0m-56-153h0m-14-26h0m-47-73h0m-17-22h0m-36-42h0m-19-19h0m-40-36h0m-42-33h0m-23-16h0m-46-28h0m-24-13h0m-187-63h0m603 737h0m-114-445h0m-16-24h0m-17-23h0m-54-63h0m-125-105h0m-46-28h0m-127-57h0m-85-23h0m-158-15h0m-72 5h0m848 739h0m-1-46h0m-3-43h0m-52-208h0m-140-225h0m-168-140h0m-72-39h0m-26-12h0m-26-11h0m-302-52h0m-36 2h0m816 512h0m-130-242h0m-36-43h0m-39-39h0m-41-37h0m-44-34h0m-22-15h0m-23-15h0m-24-15h0m-49-26h0m-26-11h0m-26-11h0m-26-11h0m-114-31h0"/>
<path class="w" stroke="#4c02a1" d="M344 -268h0m-36-39h0m-82-65h0m-120-56h0m365 298h0m-11-29h0m-127-182h0m-127-92h0m-49-22h0m-52-18h0m-28-7h0m-28-6h0m487 451h0m-7-36h0m-18-65h0m-24-57h0m-13-27h0m-98-134h0m-247-153h0m-115-24h0m-253 29h0m820 546h0m-81-296h0m-120-151h0m-342-163h0m578 660h0m1-48h0m-124-376h0m-270-220h0m-134-43h0m-123-15h0m-185 23h0m766 275h0m-15-24h0m-216-206h0m-265-95h0m-31-4h0m-135 0h0m801 697h0m-2-44h0m-16-117h0m-597-563h0m-31-4h0m-208 4h0m545 87h0m-522-123h0m705 244h0"/>
<path class="w" stroke="#6001a6" d="M405 -176h0m-248-233h0m324 310h0m-230-307h0m292 451h0m-43-210h0m-517-368h0m576 426h0m-552-462h0m-65-2h0m-149 20h0m67-50h0m792 652h0m-664-692h0m-33-1h0m-205-6h0m556 27h0m-216-75h0m-274 0h0"/>
<path class="w" stroke="#7401a8" d="M289 -325h0m-210-111h0m103-8h0m-193-49h0m-101 3h0m-16-76h0m25-39h0m-131-12h0m141-58h0"/>
<path class="w" stroke="#8707a6" d="M-43 -494h0m584 497h0m-497-530h0m-200 3h0m64-46h0m-86-25h0m25-40h0m-55-24h0"/>
<path class="w" stroke="#99159f" d="M501 8h0m-482-498h0m-208 15h0m-7-40h0m847 614h0m27 63h0m31 13h0m-934-863h0"/>
<path class="w" stroke="#aa2395" d="M51 -442h0m-90-10h0m-105 10h0m67-51h0m-42-36h0m-73-99h0m-123-33h0"/>
<path class="w" stroke="#b7318a" d="M-8 -450h0m-64-1h0m-35 3h0m-42-36h0m729 575h0m-843-663h0m-63-13h0m58-91h0m-97 36h0"/>
<path class="w" stroke="#c5407e" d="M-49 -534h0m-34 1h0m-167-5h0m-61-16h0m16-79h0m-50 19h0"/>
<path class="w" stroke="#d14e72" d="M-166 -560h0m-112-44h0"/>
<path class="w" stroke="#1d068e" d="M376 -182h0m-121-142h0m-42-30h0m-22-13h0m-24-13h0m252 186h0m-14-25h0m-15-23h0m-109-117h0m-20-16h0m186 146h0m-31-47h0m-16-22h0m-17-21h0m-57-56h0m-20-17h0m-65-44h0m-24-13h0m-74-32h0m382 328h0m-38-83h0m-30-49h0m-16-23h0m-92-98h0m-20-17h0m-21-16h0m-68-42h0m-24-12h0m-25-11h0m-25-10h0m-26-9h0m458 546h0m-16-114h0m-9-33h0m-76-168h0m-16-23h0m-34-44h0m-18-21h0m-18-19h0m-20-19h0m-20-17h0m-63-48h0m-23-15h0m-23-13h0m-127-52h0m-28-8h0m525 693h0m-7-176h0m-7-36h0m-8-34h0m-21-63h0m-12-29h0m-107-171h0m-98-94h0m-44-31h0m-22-14h0m-48-26h0m-24-12h0m-26-11h0m-26-10h0m-27-9h0m-27-8h0m-58-13h0m596 604h0m-20-111h0m-10-33h0m-22-62h0m-26-56h0m-14-26h0m-83-116h0m-58-58h0m-85-66h0m-95-54h0m-25-11h0m-26-10h0m-27-9h0m-55-16h0m-29-7h0m-271-1h0m881 734h0m-12-169h0m-17-70h0m-11-32h0m-11-31h0m-12-30h0m-27-55h0m-15-26h0m-16-25h0m-33-47h0m-17-22h0m-37-41h0m-20-20h0m-20-18h0m-20-18h0m-21-17h0m-22-17h0m-45-30h0m-24-14h0m-74-36h0m-26-11h0m-27-10h0m-27-8h0m-28-8h0m-29-7h0m-92-14h0m-32-2h0m742 654h0m-6-39h0m-7-36h0m-9-35h0m-20-65h0m-39-87h0m-14-27h0m-15-26h0m-16-24h0m-17-24h0m-17-23h0m-55-64h0m-20-19h0m-20-19h0m-21-18h0m-21-17h0m-140-87h0m-78-32h0m-28-9h0m-28-9h0m-29-7h0m-60-11h0m-31-4h0m-32-3h0m-33-2h0m-34 0h0m-36 1h0"/>
<path class="w" stroke="#370499" d="M422 -68h0m-76-161h0m-16-21h0m103 82h0m-59-97h0m-35-41h0m-37-36h0m-133-85h0m317 279h0m-12-28h0m-13-27h0m-29-50h0m-68-86h0m-79-69h0m-22-14h0m-94-50h0m-108-32h0m497 487h0m-6-38h0m-39-127h0m-12-28h0m-28-51h0m-49-68h0m-36-41h0m-102-84h0m-173-77h0m-28-7h0m510 520h0m-6-38h0m-26-100h0m-11-30h0m-13-28h0m-27-53h0m-47-71h0m-136-130h0m-91-55h0m-50-22h0m-109-32h0m-30-5h0m582 567h0m-31-142h0m-50-114h0m-14-25h0m-16-25h0m-69-87h0m-58-56h0m-43-33h0m-68-43h0m-182-69h0m-91-14h0m-257 28h0m909 545h0m-7-37h0m-28-100h0m-25-58h0m-43-79h0m-49-69h0m-37-42h0m-19-19h0m-61-54h0m-21-16h0m-46-30h0m-23-14h0m-24-13h0m-130-51h0m-150-26h0m-33-1h0m-34 0h0m-35 2h0m-37 4h0m839 792h0m4-99h0m-3-44h0m-4-40h0m-14-74h0m-56-155h0m-61-102h0m-52-66h0m-240-179h0m-320-72h0m-35 0h0m-36 3h0m-37 4h0m889 783h0m1-48h0m-2-45h0m-36-185h0m-35-92h0m-111-173h0m-18-21h0m-123-110h0m-23-16h0m-46-29h0m-75-37h0m-26-11h0m-140-41h0m-234-10h0"/>
<path class="w" stroke="#4c02a1" d="M413 -100h0m-51-106h0m-49-64h0m-248-146h0m380 276h0m-88-146h0m-164-130h0m-49-21h0m-25-10h0m-54-14h0m431 343h0m-150-239h0m-229-133h0m-27-7h0m472 564h0m-27-189h0m-128-228h0m-38-38h0m-106-80h0m-207-76h0m-126-8h0m-152 25h0m748 286h0m-175-211h0m-138-83h0m-51-20h0m-208-35h0m681 662h0m-1-46h0m-70-270h0m-60-100h0m-17-22h0m-55-61h0m-19-19h0m-373-173h0m-96-6h0m725 703h0m-126-426h0m-17-23h0m-113-120h0m-352-160h0m-31-4h0m338 89h0m-318-120h0m-431 71h0m1055 373h0m-311-365h0m-47-27h0"/>
<path class="w" stroke="#6001a6" d="M118 -400h0m-110-26h0m470 418h0m-157-317h0m-412-146h0m610 456h0m-326-446h0m368 484h0m-17-113h0m-518-458h0m-31-3h0m-32-2h0m56-33h0m-99-3h0m-35 3h0m92-39h0m320 17h0m-217-73h0m-276 3h0m23-36h0m-41 7h0"/>
<path class="w" stroke="#7401a8" d="M402 -129h0m-108-160h0m-19-18h0m-40-32h0m-92-52h0m330 346h0m-8-34h0m-9-31h0m-217-279h0m274 338h0m-8-35h0m-473-423h0m-30-3h0m-107-38h0m704 618h0m-612-657h0m-114-32h0m795 653h0"/>
<path class="w" stroke="#8707a6" d="M430 -35h0m-338-374h0m-181-19h0m305 25h0m-124-52h0m-56-12h0m-93-6h0m-109 13h0m75-164h0m756 753h0"/>
<path class="w" stroke="#99159f" d="M37 -422h0m445 454h0m-476-502h0m517 496h0m-553-540h0m-33 0h0m-231-66h0m74-58h0m-90 28h0m73-58h0"/>
<path class="w" stroke="#aa2395" d="M390 -156h0m-445-273h0m-42-83h0m-45-34h0m-10-35h0m-40 7h0"/>
<path class="w" stroke="#b7318a" d="M-23 -429h0m-190-61h0m-66-57h0m74-60h0m-77-48h0m-47 17h0"/>
<path class="w" stroke="#c5407e" d="M-25 -473h0"/>
<path class="w" stroke="#d14e72" d="M-133 -508h0m-101-55h0m-30-63h0"/>
<path class="w" stroke="#dc5d67" d="M-127 -467h0m-45-33h0m7-115h0"/>
<path class="w" stroke="#e66c5c" d="M-125 -423h0m-56-115h0"/>
<path class="w" stroke="#1d068e" d="M368 -236h0m-131-129h0m-45-27h0m261 220h0m-27-52h0m-122-143h0m-21-17h0m260 452h0m-4-84h0m-72-217h0m-14-24h0m-16-24h0m-16-22h0m-73-79h0m-20-17h0m-21-17h0m-21-15h0m-23-14h0m-22-14h0m-24-12h0m-130-47h0m484 462h0m-17-68h0m-10-31h0m-24-57h0m-75-122h0m-18-21h0m-37-39h0m-19-18h0m-21-17h0m-21-17h0m-21-15h0m-22-15h0m-23-14h0m-99-45h0m-54-16h0m-28-7h0m531 541h0m-21-108h0m-21-62h0m-13-29h0m-27-53h0m-15-25h0m-66-90h0m-38-39h0m-20-18h0m-20-17h0m-21-17h0m-67-44h0m-24-13h0m-24-12h0m-51-21h0m-53-18h0m-87-18h0m603 588h0m-5-39h0m-47-165h0m-13-28h0m-14-27h0m-116-159h0m-60-55h0m-137-87h0m-25-11h0m-26-11h0m-26-9h0m-27-9h0m-28-8h0m-29-6h0m-29-6h0m597 513h0m-9-34h0m-10-32h0m-12-30h0m-26-57h0m-14-27h0m-15-25h0m-15-25h0m-17-23h0m-35-44h0m-18-21h0m-19-20h0m-19-19h0m-21-18h0m-20-18h0m-22-16h0m-22-16h0m-22-15h0m-23-14h0m-74-38h0m-25-11h0m-27-10h0m-27-9h0m-28-8h0m-28-7h0m-486 56h0m1088 693h0m-11-171h0m-17-71h0m-10-33h0m-11-31h0m-25-58h0m-14-28h0m-15-26h0m-15-25h0m-33-48h0m-17-23h0m-18-21h0m-38-41h0m-40-37h0m-21-18h0m-22-16h0m-193-106h0m-27-9h0m-146-33h0m-32-3h0m-102-1h0m804 529h0m-23-63h0m-12-29h0m-28-56h0m-15-26h0m-16-25h0m-16-24h0m-17-23h0m-74-85h0m-20-19h0m-21-18h0m-43-35h0m-45-31h0m-47-28h0m-129-57h0m-28-9h0m-28-8h0m-29-7h0m-30-6h0m-31-5h0"/>
<path class="w" stroke="#370499" d="M434 -106h0m-82-152h0m-17-20h0m-77-72h0m-43-29h0m-46-25h0m271 205h0m-79-114h0m-18-19h0m-19-18h0m-62-49h0m-45-27h0m316 373h0m-52-154h0m-77-117h0m-37-40h0m-174-119h0m-25-10h0m365 309h0m-41-80h0m-31-48h0m-52-63h0m-170-127h0m-24-12h0m-25-11h0m-52-19h0m-85-19h0m-62-7h0m625 595h0m-8-80h0m-26-102h0m-37-86h0m-44-75h0m-17-23h0m-17-22h0m-138-127h0m-22-15h0m-96-50h0m-52-20h0m-145-30h0m-32-2h0m654 518h0m-18-67h0m-63-142h0m-16-25h0m-32-46h0m-18-22h0m-18-20h0m-38-39h0m-20-19h0m-42-34h0m-21-15h0m-23-15h0m-47-27h0m-245-77h0m-31-3h0m-101-1h0m775 593h0m-58-197h0m-92-151h0m-228-192h0m-25-12h0m-251-72h0m-32-3h0m-140 6h0m861 815h0m3-146h0m-18-116h0m-42-128h0m-73-132h0m-71-88h0m-39-39h0m-85-68h0m-22-15h0m-24-15h0m-99-49h0m-81-29h0m-28-7h0m-29-7h0m-126-15h0m-34 0h0m-72 4h0m830 494h0m-38-88h0m-96-149h0m-37-42h0m-81-75h0m-44-33h0m-95-56h0m-25-13h0m-26-11h0"/>
<path class="w" stroke="#4c02a1" d="M424 -135h0m-40-78h0m-86-103h0m-179-108h0m366 341h0m-9-31h0m-65-134h0m-16-23h0m-16-21h0m-139-121h0m-46-26h0m-25-11h0m-51-19h0m424 493h0m-17-112h0m-20-63h0m-363-352h0m-27-8h0m-116-21h0m582 599h0m-5-85h0m-13-73h0m-56-148h0m-30-50h0m123 198h0m-169-313h0m-327-186h0m-29-6h0m-126-12h0m-70 4h0m773 679h0m-1-46h0m-43-216h0m-85-159h0m-219-201h0m-366-95h0m-193 31h0m937 745h0m1-141h0m-12-78h0m-585-578h0m-31-5h0m-96-8h0m753 635h0m-393-573h0m-25-13h0m-498-66h0m565 66h0m-126-61h0"/>
<path class="w" stroke="#6001a6" d="M444 -74h0m-46-114h0m-119-146h0m-186-98h0m400 383h0m-28-95h0m-321-316h0m-53-16h0m-57-12h0m460 308h0m-108-165h0m194 368h0m-557-591h0m-64-4h0m658 641h0m-702-676h0m713 483h0m-657-518h0m-105 5h0m819 719h0m0-46h0m-760-711h0m-36 2h0m-118 19h0m498 15h0m-194-59h0m476 230h0"/>
<path class="w" stroke="#7401a8" d="M452 -40h0m-41-122h0m-94-136h0m-173-116h0m-234-36h0m593 478h0m-440-511h0m-59-9h0m-31-2h0m543 374h0m-457-404h0m-134-47h0m689 690h0m104-75h0"/>
<path class="w" stroke="#8707a6" d="M457 -4h0m-392-435h0m-28-6h0m-30-4h0m-63-3h0m555 440h0m-658-586h0m-28-65h0m22-37h0"/>
<path class="w" stroke="#99159f" d="M-60 -494h0m-34 2h0m61-42h0m-33 1h0m-35 2h0m-116 22h0m70-55h0m-81 19h0m30-46h0m847 716h0m-896-808h0m-145 56h0"/>
<path class="w" stroke="#aa2395" d="M-130 -488h0m-7-39h0m27-41h0m-130-11h0m-62-16h0m11-74h0"/>
<path class="w" stroke="#b7318a" d="M29 -529h0m-241-94h0m-60-18h0m-47 17h0"/>
<path class="w" stroke="#c5407e" d="M-126 -446h0m-42-34h0m-105-50h0m101-101h0"/>
<path class="w" stroke="#dc5d67" d="M-186 -556h0m-153-95h0"/>
<path class="w" stroke="#e66c5c" d="M-286 -564h0"/>
<path class="w" stroke="#ee7b51" d="M-23 -451h0"/>
<path class="w" stroke="#f58c46" d="M-176 -520h0"/>
</g></g>
<use href="#grat"/><use href="#oval"/><g><circle r="0.9" fill="#333"/><text class="l" x="-2.2" y="-59.4" text-anchor="middle">-60</text><text class="l" x="-2.2" y="-38" text-anchor="middle">-70</text><text class="l" x="-2.2" y="-16.9" text-anchor="middle">-80</text><text class="l" x="-69.3" y="-35.6" text-anchor="end">240</text><text class="l" x="-67.4" y="45" text-anchor="end">300</text><text class="l" x="66" y="-35.4">120</text><text class="l" x="67.6" y="45.2">60</text></g>
<text class="t" x="-0.7" y="-98.1">jup.9006.01</text><text class="t" x="-0.7" y="-81.5">2017-03-19 09:50 UT</text>
</g>
<g transform="translate(299.55 529.60)">
<clipPath id="k7"><circle cx="-1.12" cy="1.66" r="74.60"/></clipPath>
<g clip-path="url(#k7)"><g class="d" transform="scale(.1)">
<path stroke="#1d068e" d="M-34 -176h0m-60-143h0m435 229h0m-645-408h0m-110 64h0m987 543h0"/>
<path stroke="#370499" d="M-6 -171h0m298 106h0m-458-239h0m223-55h0m-114-16h0m-423-187h0m1177 764h0"/>
<path stroke="#4c02a1" d="M15 -248h0m108-25h0m-184-47h0m670 431h0m-1009-682h0m-59 35h0"/>
<path stroke="#6001a6" d="M149 -40h0m-106-114h0m-149-99h0m557 382h0m-701-606h0m-45 18h0m-51 27h0"/>
<path stroke="#7401a8" d="M145 -259h0m-147-57h0m290 121h0m-52-61h0m-19-17h0m-41-31h0m-374-99h0m-42 15h0m-102 3h0m-25-124h0"/>
<path stroke="#8707a6" d="M-64 -177h0m-144-111h0m538 169h0m-13-27h0m-605-218h0m745 437h0m0-47h0"/>
<path stroke="#99159f" d="M168 -157h0m-18-18h0m-20-17h0m-105-119h0m278 140h0m-329-203h0m565 432h0m128 131h0"/>
<path stroke="#aa2395" d="M104 -109h0m-39-32h0m-46-23h0m195 75h0m-227-165h0m-59-3h0m344 41h0m-18-21h0m-57-52h0m-114-62h0m-53-15h0m-231-83h0m-88 34h0m-65-58h0m-86-33h0"/>
<path stroke="#b7318a" d="M136 -66h0m-278-179h0m364 54h0m-17-19h0m-39-34h0m185 186h0m-348-313h0m-247 39h0m657 372h0m-656-475h0m-182-38h0m1006 725h0"/>
<path stroke="#c5407e" d="M88 -220h0m-23-11h0m-25-10h0m-81-16h0m118-38h0m-205-19h0m282-4h0m-23-12h0m-24-11h0m-266-72h0m658 476h0m-881-605h0"/>
<path stroke="#d14e72" d="M246 46h0m-20-107h0m75 29h0m-332-287h0m-58-55h0m-34 4h0m-76 19h0m610 441h0m236 179h0"/>
<path stroke="#dc5d67" d="M254 -147h0m-15-23h0m-187-134h0"/>
<path stroke="#e66c5c" d="M121 -89h0m122 94h0m-43-119h0m-15-22h0m83 14h0m-168-163h0m-260-78h0m686 537h0m10-64h0m79 148h0"/>
<path stroke="#ee7b51" d="M85 -126h0m101-102h0m172 345h0m206 54h0m71 8h0m41 106h0"/>
<path stroke="#f58c46" d="M495 117h0"/>
<path stroke="#fa9e3b" d="M410 -3h0"/>
<path stroke="#fdb130" d="M363 17h0"/>
<path stroke="#fdc527" d="M110 -207h0m248 185h0"/>
<path stroke="#f3ee27" d="M236 -30h0m74 77h0m-3-43h0m-26-99h0m83 157h0m119 121h0m118-10h0"/>
<path stroke="#1d068e" d="M46 -90h0m149 51h0m-277-180h0m764 414h0"/>
<path stroke="#370499" d="M317 -78h0m-408-269h0m610 407h0m-818-539h0m-111-106h0"/>
<path stroke="#4c02a1" d="M-66 -290h0m377 85h0m-602-130h0m-59-118h0m40-63h0m-50 25h0m952 600h0m-1061-658h0"/>
<path stroke="#6001a6" d="M-59 -349h0m354 122h0m-35-40h0m-151-100h0m-350 6h0m-50-77h0m-128-16h0m981 705h0m-936-777h0"/>
<path stroke="#7401a8" d="M-6 -286h0m-128 5h0m-39 11h0m323-19h0m-352-32h0m555 192h0m-112-156h0m-41-33h0m-398-60h0"/>
<path stroke="#8707a6" d="M99 -169h0m-43-26h0m-50-17h0m15-69h0m-119-7h0m391 153h0m-189-179h0m-266-21h0m526 236h0m-86-149h0m-57-54h0m214 382h0m-681-537h0m-186-33h0m1058 603h0"/>
<path stroke="#99159f" d="M47 -273h0m200 69h0m-275-143h0m-97 4h0m304 11h0m-148-59h0m-57-8h0m-133 10h0m586 528h0m52-72h0m-889-480h0m19-144h0m-58 35h0m1100 706h0"/>
<path stroke="#aa2395" d="M25 -104h0m145 11h0m-51-60h0m-236-60h0m444 167h0m-21-62h0m-27-52h0m-15-23h0m-53-60h0m-183-96h0m-277 39h0m636 306h0m-230-351h0m-24-12h0m-75-28h0m-401 28h0m817 479h0m4-101h0m-821-430h0"/>
<path stroke="#b7318a" d="M184 -67h0m-234-153h0m246 45h0m138 165h0m-163-265h0m-87-102h0m-81-19h0m513 509h0m196 97h0"/>
<path stroke="#c5407e" d="M155 -115h0m-77-68h0m150 51h0m-15-22h0m-35-40h0m-107-70h0m121 4h0m-64-42h0m261 352h0m-588-477h0m-89 36h0m793 568h0m156 100h0"/>
<path stroke="#d14e72" d="M204 -6h0m-239-283h0m265 65h0m-150-100h0m-79-20h0m373 277h0m-34-89h0m-14-25h0m110 213h0m-677-444h0m872 675h0"/>
<path stroke="#dc5d67" d="M139 -227h0m-84-105h0m-112-68h0m489 390h0m123 119h0"/>
<path stroke="#e66c5c" d="M-21 -218h0m286 169h0m-10-31h0"/>
<path stroke="#ee7b51" d="M32 -205h0m85-36h0"/>
<path stroke="#f58c46" d="M382 -32h0m201 203h0"/>
<path stroke="#fa9e3b" d="M242 -107h0m-83-104h0m-248-188h0m707 575h0"/>
<path stroke="#fdb130" d="M138 -135h0m407 307h0"/>
<path stroke="#fdc527" d="M279 68h0"/>
<path stroke="#fad824" d="M95 -253h0m-218-142h0"/>
<path stroke="#f3ee27" d="M278 23h0m-5-39h0m64 94h0m0-48h0m49 72h0m212 153h0"/>
<path stroke="#1d068e" d="M-48 -177h0m-173-166h0m-189-183h0m-82 15h0"/>
<path stroke="#370499" d="M-80 -176h0m124-186h0m-363-85h0m978 673h0"/>
<path stroke="#4c02a1" d="M155 -25h0m-148-143h0m329 64h0m-599-273h0m-9-92h0m-177-113h0"/>
<path stroke="#6001a6" d="M143 -53h0m78-23h0m-267-244h0m232 23h0"/>
<path stroke="#7401a8" d="M297 -49h0m-83-152h0m-400-96h0m466 91h0m-53-59h0m-405-144h0m-137 61h0m-159-134h0"/>
<path stroke="#8707a6" d="M95 -118h0m-64-41h0m-51-15h0m-7-81h0m-135 17h0m51-79h0m407 134h0m-51-63h0m-38-35h0m-280-94h0m-146-21h0m-3-47h0m792 581h0m5-56h0m-970-575h0m-64 46h0m1065 587h0m34 6h0m-1068-701h0"/>
<path stroke="#99159f" d="M75 -134h0m-21-14h0m-53-103h0m88-39h0m-77-24h0m-159 5h0m410 82h0m-98-84h0m333 400h0m-873-502h0m-8-43h0"/>
<path stroke="#aa2395" d="M159 -166h0m-83-60h0m80-26h0m-44-27h0m-128-39h0m340 185h0m-307-235h0m-59-7h0m-137 18h0m592 421h0m45-15h0m-723-475h0m764 465h0m33 101h0m-861-626h0m-12-36h0m1044 690h0"/>
<path stroke="#b7318a" d="M177 -147h0m-37-37h0m-112-61h0m148 9h0m-42-30h0m-211-54h0m172-26h0m-107-26h0m-256 53h0m-46-83h0"/>
<path stroke="#c5407e" d="M-89 -255h0m128-52h0m316 267h0m-9-34h0m-276-281h0m-211-12h0"/>
<path stroke="#d14e72" d="M129 -78h0m-65-222h0m55-36h0m336 436h0m101 108h0m-1071-745h0"/>
<path stroke="#dc5d67" d="M207 -102h0m-108-112h0m96-5h0m115 60h0m-167-165h0m-249-48h0m644 455h0m55 126h0m79-53h0"/>
<path stroke="#e66c5c" d="M245 24h0m-52-149h0m-316-125h0m487 289h0m44-61h0m48 26h0m171 212h0"/>
<path stroke="#ee7b51" d="M240 -14h0m47-66h0m74 77h0m51 21h0"/>
<path stroke="#f58c46" d="M232 -46h0m-112-154h0m-177-57h0m419 345h0"/>
<path stroke="#fa9e3b" d="M53 -236h0m209 101h0m-15-23h0m-16-22h0m214 343h0"/>
<path stroke="#fdb130" d="M113 -99h0m196 170h0"/>
<path stroke="#fdc527" d="M275 -109h0m241 322h0"/>
<path stroke="#fad824" d="M408 119h0m280 122h0"/>
<path stroke="#f3ee27" d="M309 25h0m-5-40h0m187 163h0"/>
<path stroke="#1d068e" d="M-153 -276h0m-220-113h0m-110-108h0m44-72h0"/>
<path stroke="#370499" d="M163 -104h0m-428-246h0"/>
<path stroke="#4c02a1" d="M-66 -220h0m338 48h0m31-44h0m-206-156h0m-413-53h0m-62-10h0"/>
<path stroke="#6001a6" d="M-50 -290h0m409 176h0m-72-124h0m-37-38h0m-469-94h0m-49-78h0m911 668h0"/>
<path stroke="#7401a8" d="M35 -97h0m277 4h0m-73-121h0m-100-82h0m-124-46h0m-28-4h0m282 88h0m-58-52h0m-351-83h0m574 403h0m-698-413h0m-124-72h0m-14-35h0m-17-31h0m-84 16h0"/>
<path stroke="#8707a6" d="M56 -82h0m134 28h0m-372-275h0m-43 17h0m456 18h0m-41-31h0m-22-14h0m-47-23h0m-76-26h0m-359 12h0m793 419h0m-945-508h0"/>
<path stroke="#99159f" d="M13 -109h0m21-168h0m-27-7h0m-89-5h0m124-47h0m-150-9h0m-117-119h0m-51-25h0m-59-16h0m-14-34h0m972 682h0"/>
<path stroke="#aa2395" d="M-36 -219h0m240 54h0m-17-20h0m-128-84h0m-80-19h0m-173 27h0m494 139h0m-14-26h0m-360-200h0m421 206h0m-525-242h0"/>
<path stroke="#b7318a" d="M200 -23h0m-299-194h0m-17-68h0m438 222h0m-66-131h0m-140-114h0m-159-40h0m362 155h0m-330-205h0m-30-2h0m-283-67h0m875 606h0m137 22h0"/>
<path stroke="#c5407e" d="M221 -234h0m-19-17h0m-41-31h0m-69-37h0m-235-20h0m161-55h0m418 449h0m152 84h0m130 36h0"/>
<path stroke="#d14e72" d="M109 -161h0m161 128h0m-142-201h0m-22-13h0m76-21h0m-114-60h0m317 314h0m-15-70h0m-225-267h0m412 433h0m117 151h0"/>
<path stroke="#dc5d67" d="M177 -80h0m-133-120h0m-25-9h0m-26-6h0m256 122h0m-14-26h0m-86-100h0m240 246h0m-56-196h0m-513-263h0m657 525h0m60 116h0m38-1h0"/>
<path stroke="#e66c5c" d="M169 -203h0m-241-197h0m504 508h0m86-23h0"/>
<path stroke="#ee7b51" d="M89 -176h0m171 111h0m350 277h0m46-61h0"/>
<path stroke="#f58c46" d="M67 -189h0m263 160h0m58 104h0m-317-456h0m398 535h0m43-11h0"/>
<path stroke="#fa9e3b" d="M336 9h0m-556-429h0m922 669h0"/>
<path stroke="#fdb130" d="M207 12h0m72 32h0m-196-303h0"/>
<path stroke="#fdc527" d="M129 -144h0m92 1h0"/>
<path stroke="#fad824" d="M146 -125h0m232 75h0"/>
<path stroke="#f3ee27" d="M276 3h0m62 50h0m43 79h0m-486-530h0"/>
<path class="w" stroke="#1d068e" d="M375 -137h0m-105-213h0m210 252h0m-47-118h0m-15-25h0m-104-127h0m-41-33h0m-21-15h0m267 312h0m-21-64h0m-39-83h0m-103-131h0m-105-81h0m306 356h0m-46-124h0m-153-200h0m-20-17h0m-22-16h0m-21-15h0m-23-15h0m-46-26h0m-50-22h0m417 434h0m-58-154h0m-98-141h0m-58-57h0m-21-17h0m-21-16h0m-45-30h0m-23-14h0m-24-13h0m-24-11h0m-51-21h0m473 698h0m-23-258h0m-10-33h0m-12-32h0m-122-204h0m-18-20h0m-80-74h0m-90-60h0m-24-13h0m-24-12h0m-160-54h0m591 579h0m-7-38h0m-99-243h0m-16-25h0m-17-23h0m-18-22h0m-37-43h0m-39-38h0m-20-18h0m-21-18h0m-90-60h0m-24-13h0m-25-13h0m-77-31h0m-27-9h0m-145-29h0m-32-2h0m703 520h0m-11-33h0m-12-32h0m-12-30h0m-59-108h0m-34-48h0m-18-22h0m-57-62h0m-20-19h0m-21-18h0m-43-33h0m-69-45h0m-24-13h0m-156-63h0m-28-7h0m-29-6h0m-60-9h0m-32-3h0m672 429h0m-14-29h0m-31-53h0m-16-25h0m-34-47h0m-19-23h0m-99-98h0m-43-34h0m-23-16h0m-70-43h0"/>
<path class="w" stroke="#370499" d="M439 -89h0m-94-186h0m125 145h0m-27-146h0m-32-45h0m-75-79h0m-20-17h0m-42-31h0m-45-28h0m318 335h0m-23-61h0m-57-105h0m-89-106h0m-129-94h0m-48-24h0m-160-48h0m571 637h0m-28-200h0m-11-33h0m-52-114h0m-15-25h0m-17-24h0m-16-22h0m-18-22h0m-37-41h0m-19-19h0m-84-67h0m-119-63h0m-79-27h0m-56-13h0m568 505h0m-56-158h0m-15-27h0m-15-26h0m-49-71h0m-96-99h0m-87-64h0m-96-50h0m-52-19h0m-173-35h0m665 517h0m-10-34h0m-11-33h0m-12-31h0m-13-29h0m-29-54h0m-84-118h0m-38-40h0m-83-71h0m-45-30h0m-122-62h0m-169-43h0m659 586h0m-81-223h0m-15-27h0m-33-49h0m-53-67h0m-19-21h0m-82-74h0m-44-32h0m-23-15h0m-72-40h0m-51-22h0m-26-10h0m-27-9h0m-276-35h0m818 557h0m-10-34h0m-12-32h0m-54-117h0m-103-142h0m-19-21h0m-20-19h0m-63-55h0m-68-47h0m-23-14h0"/>
<path class="w" stroke="#4c02a1" d="M397 -76h0m-63-138h0m-16-23h0m-17-21h0m104 79h0m-13-26h0m-31-48h0m-155-143h0m-176-65h0m458 398h0m-42-126h0m-59-99h0m-157-142h0m-23-13h0m-48-23h0m375 436h0m-61-195h0m-46-74h0m-132-134h0m270 362h0m-29-101h0m-39-86h0m-14-25h0m-32-48h0m-18-22h0m-17-21h0m-265-177h0m-82-23h0m-89-12h0m621 515h0m-39-134h0m-13-30h0m-518-382h0m-93-6h0m708 686h0m-119-406h0m-16-23h0m-73-85h0m-19-19h0m-63-52h0m-248-115h0m-57-12h0m-30-4h0m-63-5h0m718 634h0m-81-270h0m-468-373h0m-29-7h0m-29-6h0m-490 81h0m1130 583h0m-5-42h0m-15-77h0m-438-522h0m-194-57h0m-127-10h0m807 674h0m-6-41h0m-8-38h0m-43-134h0m-91-160h0"/>
<path class="w" stroke="#6001a6" d="M224 -330h0m-250-93h0m444 272h0m-334-297h0m-26-7h0m437 430h0m-36-136h0m-56-105h0m-33-44h0m-18-20h0m-19-19h0m-39-36h0m-111-70h0m303 258h0m-93-146h0m-18-20h0m-170-125h0m-75-31h0m-141-29h0m135-12h0m483 528h0m-463-559h0m-55-15h0m-88-14h0m645 635h0m-4-44h0m-6-40h0m-50-167h0m-252-301h0m-145-75h0m164 48h0m-120-66h0m479 660h0m-81-324h0m-668-429h0m512 174h0"/>
<path class="w" stroke="#7401a8" d="M264 -296h0m-61-49h0m-144-64h0m389 355h0m-139-261h0m-59-52h0m-22-15h0m-45-26h0m-47-23h0m-135-34h0m-30-3h0m163-8h0m-26-9h0m73-15h0m-223-50h0m613 518h0m-174-362h0m-669-157h0m883 562h0m-475-641h0m543 651h0m-768-712h0m-147 21h0m59-45h0"/>
<path class="w" stroke="#8707a6" d="M387 -107h0m-104-171h0m-173-162h0m-56-59h0m-29-5h0m-59-6h0m572 521h0m-11-79h0m-18-69h0m-353-373h0m-415-6h0m835 572h0m-627-643h0m21-36h0m-136 8h0m-38 7h0m129-50h0m-34 2h0m54-35h0m-69 2h0m-73 10h0"/>
<path class="w" stroke="#99159f" d="M349 -190h0m-214-192h0m-50-20h0m-53-13h0m-29-5h0m-60-4h0m347 91h0m209 350h0m-418-510h0m-85-15h0m101-60h0m-86-15h0m-202 9h0m95-48h0m-64-63h0m871 765h0"/>
<path class="w" stroke="#aa2395" d="M245 -314h0m184 193h0m-102-174h0m-167-125h0m-220-49h0m164-58h0m-28-7h0m-150-16h0m-10-37h0m-160-11h0m63-50h0m860 718h0"/>
<path class="w" stroke="#b7318a" d="M363 -164h0m-205-207h0m-48-22h0m267 164h0m-547-271h0m218-40h0m-29-5h0m556 555h0m-728-591h0m-164 47h0m31-50h0m142-69h0m-205 56h0m1056 733h0"/>
<path class="w" stroke="#c5407e" d="M181 -358h0m273 342h0m-662-474h0m90-95h0m-112 20h0m100-55h0"/>
<path class="w" stroke="#d14e72" d="M-89 -423h0m-4-45h0m-6-41h0m-8-39h0m783 673h0m-954-784h0m-91 34h0m229-95h0"/>
<path class="w" stroke="#dc5d67" d="M-66 -511h0m-113-27h0m-81-91h0"/>
<path class="w" stroke="#e66c5c" d="M405 -41h0m-624-599h0m-103-4h0"/>
<path class="w" stroke="#ee7b51" d="M-133 -506h0m-9-38h0m-161-71h0"/>
<path class="w" stroke="#f58c46" d="M-163 -458h0m-55-71h0"/>
<path class="w" stroke="#fa9e3b" d="M-123 -420h0m-4-44h0m-205-102h0"/>
<path class="w" stroke="#1d068e" d="M460 -94h0m-188-282h0m-21-16h0m-44-28h0m272 255h0m-26-56h0m-99-135h0m3-51h0m-84-64h0m-288-96h0m590 459h0m-32-96h0m-108-174h0m-57-59h0m-20-17h0m-21-17h0m-21-16h0m-45-28h0m-72-37h0m-134-41h0m564 653h0m-18-168h0m-19-67h0m-135-232h0m-19-20h0m-148-118h0m-23-13h0m-100-44h0m-111-29h0m-92-9h0m690 573h0m-8-38h0m-30-101h0m-121-208h0m-57-60h0m-40-37h0m-22-16h0m-114-72h0m-25-11h0m-52-21h0m-110-31h0m577 457h0m-69-142h0m-32-49h0m-18-23h0m-18-22h0m-57-60h0m-21-19h0m-20-17h0m-44-33h0m-46-30h0m-23-13h0m-127-56h0m-28-8h0m-28-8h0m-119-20h0m-32-2h0m736 575h0m-9-36h0m-11-33h0m-11-32h0m-13-31h0m-13-29h0m-14-28h0m-31-53h0m-16-24h0m-17-24h0m-18-23h0m-77-82h0m-63-53h0m-45-32h0m-23-14h0m-24-14h0m-24-13h0m-25-12h0m-78-32h0m-55-16h0m-29-7h0m-29-6h0"/>
<path class="w" stroke="#370499" d="M397 -144h0m-31-138h0m134 181h0m-93-193h0m-17-22h0m-55-59h0m-61-50h0m-45-28h0m276 253h0m-74-126h0m-94-98h0m-42-33h0m-44-28h0m-48-25h0m363 368h0m-11-32h0m-25-59h0m-60-101h0m-53-65h0m-123-102h0m-46-28h0m-74-33h0m-26-10h0m477 541h0m-23-111h0m-22-64h0m-26-58h0m-14-27h0m-48-73h0m-73-83h0m-62-53h0m-21-15h0m-93-55h0m-25-12h0m-25-10h0m-108-33h0m553 484h0m-11-34h0m-23-62h0m-13-29h0m-29-53h0m-49-73h0m-36-43h0m-19-20h0m-126-103h0m-23-15h0m-23-13h0m-127-54h0m-27-8h0m-87-19h0m643 605h0m-7-39h0m-18-71h0m-36-94h0m-28-55h0m-32-51h0m-90-110h0m-82-72h0m-116-72h0m-186-66h0m527 344h0m-124-160h0m-40-38h0m-21-17h0m-44-33h0m-224-109h0"/>
<path class="w" stroke="#4c02a1" d="M323 -267h0m-292-172h0m395 255h0m-13-27h0m-31-49h0m-33-43h0m-57-56h0m-108-73h0m-49-22h0m-26-9h0m357 270h0m-27-53h0m-124-147h0m-20-16h0m-43-31h0m-259-88h0m545 422h0m-10-33h0m-36-89h0m-45-76h0m-34-44h0m-36-40h0m-60-53h0m-164-90h0m349 245h0m-16-25h0m-88-107h0m-174-123h0m-103-39h0m388 240h0m-34-46h0m-76-79h0m-21-18h0m-265-135h0m-87-17h0m633 609h0m-82-267h0m-31-52h0m-16-24h0m-112-124h0m-63-50h0m-144-78h0m-107-35h0m-89-15h0m-131-2h0m788 536h0m-32-99h0m-27-58h0m-116-168h0m-146-123h0m-96-53h0m-26-11h0m-26-11h0m-140-37h0m-231-3h0m882 606h0m-179-373h0m-288-209h0m-27-11h0"/>
<path class="w" stroke="#6001a6" d="M340 -245h0m-53-61h0m-40-35h0m-64-43h0m256 228h0m-41-80h0m-67-87h0m-19-19h0m-83-64h0m-69-38h0m-161-43h0m491 353h0m-67-137h0m-50-66h0m-191-141h0m-24-10h0m359 318h0m-39-84h0m-15-26h0m-68-88h0m-168-130h0m-273-71h0m640 626h0m-5-89h0m-6-40h0m-66-188h0m-481-338h0m-61-7h0m-172 14h0m765 355h0m95 302h0m-1-48h0m-678-691h0m-32-2h0m744 750h0m-3-95h0m-660-681h0m-96-7h0m-183 23h0m974 720h0m-3-46h0m-4-43h0m-205-434h0m-465-243h0"/>
<path class="w" stroke="#7401a8" d="M418 -83h0m-62-139h0m-51-65h0m-246-146h0m391 307h0m-422-357h0m-59-6h0m-173 19h0m718 442h0m-6-38h0m-302-400h0m-155-54h0m501 488h0m-6-38h0m-367-451h0m-78-27h0m-28-6h0m380 197h0m-732-211h0m898 498h0m-95-246h0m-211-214h0m-173-81h0m-144-27h0m-64-3h0m-84-28h0m848 694h0m-793-732h0"/>
<path class="w" stroke="#8707a6" d="M205 -371h0m270 350h0m-7-38h0m-385-412h0m435 485h0m-439-528h0m-135-92h0m-34 1h0m750 725h0m-742-794h0m-107 11h0m911 806h0m5-57h0"/>
<path class="w" stroke="#99159f" d="M370 -198h0m-102-126h0m-41-32h0m-91-51h0m-194-40h0m81-78h0m-61-5h0m596 587h0m-1-47h0m-430-550h0m-33-47h0m-88-15h0m-243 20h0m865 595h0m64 117h0"/>
<path class="w" stroke="#aa2395" d="M426 -48h0m-315-369h0m-5-89h0m-61-54h0m-193-3h0m-117 29h0"/>
<path class="w" stroke="#b7318a" d="M2 -443h0m-226-104h0m817 557h0m-753-608h0m58-42h0m-110 16h0m-40 10h0m-42 14h0m66-55h0m96-49h0m-248 66h0"/>
<path class="w" stroke="#c5407e" d="M159 -396h0m-74-29h0m-112-21h0m-134 10h0m-5-43h0m298-19h0m-386 1h0m269-67h0m-94-5h0m-245 19h0m55-94h0m63-50h0m-81 21h0"/>
<path class="w" stroke="#d14e72" d="M408 -115h0m-471-375h0m-40-39h0m-71 10h0m1-113h0m-159-26h0"/>
<path class="w" stroke="#dc5d67" d="M-91 -446h0m147-32h0m-126-53h0m-67-106h0"/>
<path class="w" stroke="#e66c5c" d="M384 -172h0m-508-431h0"/>
<path class="w" stroke="#ee7b51" d="M-125 -442h0m29-47h0m-34 4h0m-83-25h0m-127-72h0m28-48h0"/>
<path class="w" stroke="#f58c46" d="M-138 -525h0"/>
<path class="w" stroke="#fa9e3b" d="M-185 -556h0m-174-55h0"/>
<path class="w" stroke="#fdc527" d="M-112 -567h0"/>
<path class="w" stroke="#1d068e" d="M254 -305h0m99 41h0m-73-78h0m204 261h0m-9-33h0m-213-295h0m204 171h0m-47-72h0m-53-62h0m-60-53h0m-66-44h0m328 417h0m-7-37h0m-173-314h0m-40-36h0m-21-17h0m-21-16h0m-22-15h0m-23-13h0m328 375h0m-10-34h0m-51-117h0m-160-193h0m-21-16h0m-21-16h0m-22-15h0m-23-14h0m-48-26h0m-24-11h0m-26-10h0m-167-42h0m629 708h0m-20-214h0m-10-34h0m-11-32h0m-85-164h0m-52-66h0m-79-76h0m-88-62h0m-24-13h0m-24-13h0m-24-11h0m-52-21h0m491 533h0m-8-38h0m-19-68h0m-12-31h0m-40-86h0m-15-26h0m-16-25h0m-17-24h0m-35-45h0m-57-61h0m-41-36h0m-43-33h0m-223-106h0m-28-7h0m-29-7h0m-91-12h0m701 572h0m-9-36h0m-10-34h0m-37-93h0m-14-28h0m-30-53h0m-16-24h0m-17-24h0m-18-23h0m-18-22h0m-38-41h0m-20-19h0m-41-36h0m-22-17h0m-45-32h0m-46-28h0m-25-13h0m-25-12h0m-133-47h0m-29-7h0m-90-14h0m-32-2h0m740 575h0m-10-35h0m-11-33h0m-12-32h0m-13-31h0m-13-29h0m-30-54h0m-16-26h0m-16-24h0m-18-24h0m-17-23h0m-19-21h0m-38-42h0m-106-88h0m-23-16h0m-23-14h0"/>
<path class="w" stroke="#370499" d="M381 -122h0m-55-104h0m109 121h0m5-98h0m-14-26h0m-15-25h0m-127-139h0m-43-30h0m251 240h0m-12-28h0m-29-52h0m-105-128h0m-83-65h0m-70-38h0m359 370h0m-10-33h0m-11-31h0m-13-29h0m-13-27h0m-15-26h0m-15-25h0m-16-24h0m-34-44h0m-19-21h0m-38-38h0m-179-115h0m-483-6h0m906 577h0m-8-86h0m-7-38h0m-41-130h0m-14-29h0m-44-77h0m-17-23h0m-35-44h0m-18-20h0m-39-38h0m-132-92h0m-100-44h0m-111-28h0m533 364h0m-13-28h0m-15-26h0m-49-73h0m-17-22h0m-37-41h0m-19-20h0m-84-68h0m-22-15h0m-229-97h0m-28-5h0m-61-9h0m673 653h0m-28-155h0m-34-94h0m-93-154h0m-95-101h0m-110-80h0m-23-14h0m-24-13h0m-25-11h0m-52-22h0m-26-9h0m-114-27h0m653 644h0m-44-181h0m-12-31h0m-204-283h0m-65-50h0m-46-30h0m-151-70h0m-27-9h0m-86-20h0m453 212h0m-39-40h0m-42-36h0m-22-17h0m-92-60h0"/>
<path class="w" stroke="#4c02a1" d="M-11 -422h0m435 286h0m-125-188h0m-82-65h0m-202-74h0m477 419h0m-27-102h0m-87-153h0m-35-41h0m-172-121h0m365 451h0m-22-111h0m-78-166h0m-110-122h0m-41-32h0m157 99h0m-228-183h0m-50-22h0m404 357h0m-55-111h0m-49-71h0m-56-61h0m-277-162h0m-56-14h0m-154-14h0m671 401h0m-183-257h0m-42-35h0m-165-93h0m-166-44h0m-62-6h0m706 702h0m-6-90h0m-72-235h0m-115-168h0m-19-21h0m-82-72h0m-45-31h0m-121-63h0m-477-30h0m866 330h0m-371-328h0m-291-61h0m792 695h0m-5-42h0m-7-39h0m-82-224h0m-180-224h0"/>
<path class="w" stroke="#6001a6" d="M214 -337h0m-169-75h0m354 220h0m-63-93h0m-265-167h0m253 93h0m-20-17h0m-86-61h0m286 284h0m-102-179h0m-185-150h0m-49-23h0m-194-44h0m264 36h0m-100-43h0m-55-15h0m-57-11h0m77-21h0m541 596h0m-11-81h0m-483-538h0m-28-8h0m-180-24h0m82-28h0m-63-5h0m-139 9h0m890 736h0m-11-132h0m-195-397h0m-294-198h0m-170-44h0m-164-4h0m-74 9h0"/>
<path class="w" stroke="#7401a8" d="M341 -202h0m-49-66h0m-18-19h0m-82-65h0m-45-25h0m222 136h0m-51-64h0m-58-54h0m-112-67h0m-25-10h0m-79-22h0m409 283h0m-92-145h0m-166-129h0m-49-22h0m-25-10h0m-81-21h0m-59-7h0m542 423h0m-519-461h0m51-30h0m-90-10h0m644 576h0m-655-612h0m-263 47h0m955 614h0m-7-87h0m72 55h0m-798-729h0m-71 5h0"/>
<path class="w" stroke="#8707a6" d="M401 -59h0m-92-188h0m-139-118h0m281 329h0m-39-129h0m-217-237h0m302 397h0m-102-272h0m136 227h0m-147-303h0m-241-162h0m-201-35h0m-140 16h0m309-30h0m-178-23h0m678 671h0m-625-706h0m549 292h0m-627-327h0m20-34h0m-34 1h0"/>
<path class="w" stroke="#99159f" d="M392 -92h0m-23-59h0m-246-237h0m-105-30h0m-159 1h0m525 200h0m-145-157h0m-67-40h0m-216-55h0m-194-54h0m811 511h0m-577-573h0m682 682h0m-1072-710h0"/>
<path class="w" stroke="#aa2395" d="M356 -177h0m-121-145h0m-163-83h0m372 333h0m-346-373h0m-112-22h0m109-22h0m-27-7h0m-57-10h0m106-17h0m-27-8h0m-371 23h0m146-75h0m-130-9h0m139-63h0m-173 3h0"/>
<path class="w" stroke="#b7318a" d="M62 -537h0m-28-6h0m542 575h0m-677-618h0m-71 8h0m24-40h0m-208 63h0m156-89h0m-126 37h0m185-80h0"/>
<path class="w" stroke="#c5407e" d="M-41 -424h0m-32 0h0m-156-60h0m768 518h0m-652-655h0m-111 18h0m62-48h0"/>
<path class="w" stroke="#d14e72" d="M98 -397h0m-243-65h0m29-46h0m-94-62h0m25-42h0m-96-11h0m991 730h0"/>
<path class="w" stroke="#dc5d67" d="M-82 -510h0m-69 7h0m60-46h0m-159-9h0m33-117h0"/>
<path class="w" stroke="#e66c5c" d="M-189 -496h0m-50-139h0"/>
<path class="w" stroke="#ee7b51" d="M-76 -469h0m-34 3h0m-72 12h0m-192-131h0m29-50h0"/>
<path class="w" stroke="#f58c46" d="M-50 -511h0m-111-31h0"/>
<path class="w" stroke="#fa9e3b" d="M-106 -422h0m-19-125h0"/>
<path class="w" stroke="#1d068e" d="M433 -170h0m-151-198h0m-21-16h0m-89-54h0m288 231h0m-14-27h0m-121-150h0m-41-33h0m266 366h0m-288-427h0m324 426h0m-15-73h0m-22-64h0m-55-110h0m-86-109h0m-60-55h0m-21-16h0m-22-15h0m-23-15h0m-23-13h0m-23-13h0m-25-11h0m396 421h0m-10-34h0m-11-32h0m-86-161h0m-53-65h0m-19-20h0m-82-71h0m-67-43h0m-24-13h0m-24-12h0m-25-11h0m-135-41h0m571 505h0m-20-68h0m-53-115h0m-48-74h0m-35-44h0m-18-21h0m-60-57h0m-21-17h0m-66-47h0m-72-39h0m-77-31h0m524 685h0m-39-238h0m-24-62h0m-27-57h0m-47-76h0m-17-23h0m-18-23h0m-56-62h0m-20-19h0m-21-18h0m-65-49h0m-70-42h0m-50-24h0m-52-20h0m-55-17h0m-28-7h0m-29-6h0m640 619h0m-26-110h0m-23-64h0m-13-30h0m-14-28h0m-15-28h0m-15-26h0m-16-25h0m-17-24h0m-17-24h0m-18-22h0m-99-99h0m-21-17h0m-22-16h0m-93-59h0m-24-12h0m-78-33h0m-54-18h0m-29-7h0m-58-12h0"/>
<path class="w" stroke="#370499" d="M17 -441h0m438 331h0m-260-316h0m290 277h0m-12-30h0m-128-187h0m-82-66h0m-22-15h0m244 206h0m-46-74h0m-92-100h0m-20-18h0m-21-16h0m-115-67h0m346 297h0m-75-127h0m-94-99h0m-182-112h0m-25-10h0m400 317h0m-14-27h0m-158-197h0m-87-64h0m-122-59h0m-139-36h0m-30-4h0m-96-3h0m747 732h0m-12-179h0m-17-71h0m-23-64h0m-26-58h0m-30-52h0m-16-25h0m-34-46h0m-56-62h0m-19-19h0m-63-51h0m-23-16h0m-69-41h0m-156-60h0m-29-7h0m-121-15h0m709 555h0m-9-36h0m-22-65h0m-55-114h0m-16-26h0m-69-91h0m-100-95h0m-22-16h0m-45-31h0m-23-14h0m-49-25h0m-104-41h0m-145-30h0m-32-3h0m-252 26h0m968 530h0m-21-68h0m-156-259h0m-59-59h0m-86-68h0m-23-15h0m-24-14h0m-99-49h0m-54-19h0m-85-22h0m-60-10h0"/>
<path class="w" stroke="#4c02a1" d="M331 -256h0m88 58h0m-29-50h0m-16-23h0m-34-42h0m-19-19h0m-81-67h0m-22-14h0m-71-36h0m-51-18h0m415 420h0m-7-37h0m-89-199h0m-16-22h0m-229-178h0m-105-34h0m490 506h0m-13-77h0m-19-67h0m-11-30h0m-41-82h0m-16-25h0m-33-45h0m-36-41h0m-102-86h0m-45-28h0m-24-12h0m-245-64h0m591 410h0m-37-89h0m-15-26h0m-31-50h0m-52-66h0m-38-38h0m-337-169h0m-352 36h0m930 596h0m-14-125h0m-98-239h0m-34-47h0m-17-22h0m-98-94h0m-214-115h0m-27-9h0m-28-7h0m-119-18h0m618 389h0m-300-328h0m-153-66h0m-85-19h0m-30-5h0m-31-3h0m-133 1h0m818 589h0m-64-198h0m-133-192h0m-271-183h0m-295-52h0m802 674h0m-13-81h0m-204-384h0m-20-20h0m-227-153h0"/>
<path class="w" stroke="#6001a6" d="M403 -130h0m-12-28h0m-77-119h0m-77-71h0m-165-81h0m392 352h0m-59-147h0m-48-69h0m-55-58h0m-180-107h0m-138-30h0m511 370h0m-64-141h0m-67-88h0m-146-113h0m-24-12h0m339 349h0m-34-91h0m-94-144h0m-38-39h0m-226-138h0m-54-16h0m504 539h0m-12-78h0m-135-278h0m-310-208h0m-113-24h0m-30-4h0m636 594h0m-53-211h0m-42-82h0m-123-153h0m-85-67h0m333 476h0m-433-569h0m-25-10h0m-264-49h0m759 677h0m-4-43h0m-736-666h0"/>
<path class="w" stroke="#7401a8" d="M363 -210h0m-318-226h0m-32-49h0m369 159h0m-77-75h0m-212-109h0m73-16h0m-228-43h0m10-72h0m715 682h0m-2-46h0m-613-694h0m-162-7h0"/>
<path class="w" stroke="#8707a6" d="M414 -99h0m-118-198h0m-38-35h0m-64-45h0m278 337h0m-430-440h0m-5-42h0m77-22h0m-55-13h0m21-33h0m-153-15h0m701 691h0m-6-137h0m-895-557h0m65-52h0m58-42h0m-37 5h0m-122 31h0m1037 726h0m-1-49h0"/>
<path class="w" stroke="#99159f" d="M348 -234h0m-71-81h0m-154-97h0m-135-33h0m457 304h0m-375-333h0m447 466h0m-487-554h0m-30-4h0m-287 40h0m880 608h0m1-49h0m-487-617h0m-364 9h0m158-99h0m824 788h0"/>
<path class="w" stroke="#aa2395" d="M423 -66h0m-252-324h0m-73-31h0m-205-23h0m584 443h0m42 37h0m-374-529h0m-26-9h0m-173-29h0m-179 27h0m791 537h0m-598-638h0m-67 1h0m-210 12h0m91-98h0"/>
<path class="w" stroke="#b7318a" d="M216 -363h0m-68-39h0m-191-45h0m-142-28h0m193-52h0m-30-2h0m-73-39h0m-71 8h0m-124-78h0m-94 39h0m1078 701h0"/>
<path class="w" stroke="#c5407e" d="M378 -185h0m-571-330h0m63-50h0m-12-36h0m-36 6h0m-39 8h0m98-51h0m-73 10h0m-56-22h0"/>
<path class="w" stroke="#d14e72" d="M-142 -440h0m95-50h0m-73-37h0m-50-140h0"/>
<path class="w" stroke="#dc5d67" d="M-204 -552h0m49-82h0m-210 64h0m30-51h0"/>
<path class="w" stroke="#e66c5c" d="M-86 -530h0m-70 7h0m-88-18h0m-111-108h0"/>
<path class="w" stroke="#ee7b51" d="M430 -30h0"/>
<path class="w" stroke="#f58c46" d="M-74 -447h0m-5-43h0m-69 7h0"/>
<path class="w" stroke="#fa9e3b" d="M-231 -619h0"/>
<path class="w" stroke="#fad824" d="M-113 -487h0"/>
</g></g>
<use href="#grat"/><use href="#oval"/><g><circle r="0.9" fill="#333"/><text class="l" x="-2.2" y="-59.4" text-anchor="middle">-60</text><text class="l" x="-2.2" y="-38" text-anchor="middle">-70</text><text class="l" x="-2.2" y="-16.9" text-anchor="middle">-80</text><text class="l" x="-69.3" y="-35.6" text-anchor="end">240</text><text class="l" x="-67.4" y="45" text-anchor="end">300</text><text class="l" x="66" y="-35.4">120</text><text class="l" x="67.6" y="45.2">60</text></g>
<text class="t" x="-0.7" y="-98.1">jup.9006.02</text><text class="t" x="-0.7" y="-81.5">2017-03-19 09:50 UT</text>
</g>
<rect x="41.6" y="627" width="516.4" height="10.4" fill="url(#pl)" stroke="#222" stroke-width=".5"/>
<path d="M41.9 627v1.6M41.9 637.4v-1.6M93.5 627v1.6M93.5 637.4v-1.6M145.1 627v1.6M145.1 637.4v-1.6M196.7 627v1.6M196.7 637.4v-1.6M248.3 627v1.6M248.3 637.4v-1.6M299.9 627v1.6M299.9 637.4v-1.6M351.5 627v1.6M351.5 637.4v-1.6M403.1 627v1.6M403.1 637.4v-1.6M454.7 627v1.6M454.7 637.4v-1.6M506.3 627v1.6M506.3 637.4v-1.6M557.9 627v1.6M557.9 637.4v-1.6" stroke="#222" stroke-width=".5" fill="none"/>
<text class="c" x="41.9" y="653.2">460</text><text class="c" x="145.1" y="653.2">492</text><text class="c" x="248.3" y="653.2">524</text><text class="c" x="351.5" y="653.2">556</text><text class="c" x="454.7" y="653.2">588</text><text class="c" x="557.9" y="653.2">620</text>
<text x="300.2" y="680.3" text-anchor="middle" style="font-size:17.5px">Radiance (nW cm<tspan dy="-7.2" style="font-size:11.5px">-2</tspan><tspan dy="7.2"> sr</tspan><tspan dy="-7.2" style="font-size:11.5px">-1</tspan><tspan dy="7.2"> cm)</tspan></text>
</svg>
</body></html>
